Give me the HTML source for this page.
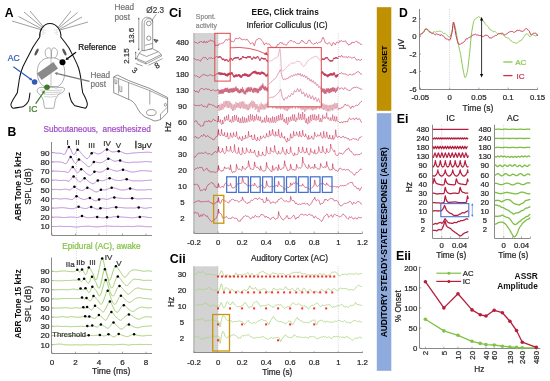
<!DOCTYPE html>
<html><head><meta charset="utf-8"><style>
html,body{margin:0;padding:0;background:#fff;}
svg{display:block;will-change:transform;}
text{font-family:"Liberation Sans", sans-serif;}
</style></head><body>
<svg width="550" height="381" viewBox="0 0 550 381">
<rect width="550" height="381" fill="#fff"/>
<text x="4.8" y="16.7" font-size="12.2" text-anchor="start" font-weight="bold" fill="#000">A</text>
<line x1="42" y1="30" x2="12" y2="21" stroke="#5e5e5e" stroke-width="0.6"/>
<line x1="42" y1="29" x2="18.5" y2="16.5" stroke="#5e5e5e" stroke-width="0.6"/>
<line x1="43" y1="28" x2="24" y2="12" stroke="#5e5e5e" stroke-width="0.6"/>
<line x1="44" y1="27.5" x2="30" y2="11" stroke="#5e5e5e" stroke-width="0.6"/>
<line x1="58" y1="27.5" x2="71" y2="11" stroke="#5e5e5e" stroke-width="0.6"/>
<line x1="59" y1="28" x2="77.5" y2="12.5" stroke="#5e5e5e" stroke-width="0.6"/>
<line x1="60" y1="29" x2="82" y2="17" stroke="#5e5e5e" stroke-width="0.6"/>
<line x1="60" y1="30" x2="88" y2="22" stroke="#5e5e5e" stroke-width="0.6"/>
<path d="M39.8,37 C39,31 43,23.5 50,23.5 C57,23.5 61.5,31 60.8,37 C64,41 67,45 69,48 C72,54 75.5,60 78,66.5 C79.8,71 80.5,76 81,80 C81.5,85 82,89 82.7,92.7 C84.5,96 87.5,101 87.3,104.5 C87,107 86,108.5 84.5,108 C80,107 76,106 74.5,105.5 C72,103 70.5,100 70,97.3 C69.5,95 69.3,93.5 69.1,92.7 M39.8,37 C37,41 35,44 33,47 C30,53 26,60 23,66.5 C21,71 19.8,76 19.2,80 C18.5,85 17.8,89 17.3,92.7 C15.5,96 11.5,101 10.9,104.5 C11,107 12.5,108.5 14,108.2 C18,107.5 22,107 23.6,106.4 C27,104 28.8,101 29.1,99 C29.6,96 29.8,94 30,92.7" fill="none" stroke="#111" stroke-width="1.05"/>
<circle cx="45" cy="29" r="0.3" fill="#888"/>
<circle cx="43.7" cy="29.3" r="0.3" fill="#888"/>
<circle cx="42.4" cy="29.6" r="0.3" fill="#888"/>
<circle cx="45" cy="30.6" r="0.3" fill="#888"/>
<circle cx="43.7" cy="30.9" r="0.3" fill="#888"/>
<circle cx="42.4" cy="31.2" r="0.3" fill="#888"/>
<circle cx="45" cy="32.2" r="0.3" fill="#888"/>
<circle cx="43.7" cy="32.5" r="0.3" fill="#888"/>
<circle cx="42.4" cy="32.8" r="0.3" fill="#888"/>
<circle cx="45" cy="33.8" r="0.3" fill="#888"/>
<circle cx="43.7" cy="34.1" r="0.3" fill="#888"/>
<circle cx="42.4" cy="34.4" r="0.3" fill="#888"/>
<circle cx="55" cy="29" r="0.3" fill="#888"/>
<circle cx="56.3" cy="29.3" r="0.3" fill="#888"/>
<circle cx="57.6" cy="29.6" r="0.3" fill="#888"/>
<circle cx="55" cy="30.6" r="0.3" fill="#888"/>
<circle cx="56.3" cy="30.9" r="0.3" fill="#888"/>
<circle cx="57.6" cy="31.2" r="0.3" fill="#888"/>
<circle cx="55" cy="32.2" r="0.3" fill="#888"/>
<circle cx="56.3" cy="32.5" r="0.3" fill="#888"/>
<circle cx="57.6" cy="32.8" r="0.3" fill="#888"/>
<circle cx="55" cy="33.8" r="0.3" fill="#888"/>
<circle cx="56.3" cy="34.1" r="0.3" fill="#888"/>
<circle cx="57.6" cy="34.4" r="0.3" fill="#888"/>
<ellipse cx="36.6" cy="52" rx="1.3" ry="3.9" fill="#555" transform="rotate(25 36.6 52)"/>
<ellipse cx="64.4" cy="52" rx="1.3" ry="3.9" fill="#555" transform="rotate(-25 64.4 52)"/>
<path d="M51.3,58.5 C46.5,59 44.8,55 45.2,51.5 C45.6,48.5 48.5,47.2 50,48.3 C51,49.2 51.3,52 51.3,58.5 C51.3,52 51.6,49.2 52.6,48.3 C54.1,47.2 57,48.5 57.4,51.5 C57.8,55 56,59 51.3,58.5 Z" fill="white" stroke="#777" stroke-width="0.6"/>
<path d="M51,58 C44,57 38.5,62 37.5,69 C36.5,76 38.5,83 44,86.5 L58,86.5 C63.5,83 65.5,76 64.5,69 C63.5,62 58,57 51,58 Z" fill="white" stroke="#777" stroke-width="0.6"/>
<line x1="51" y1="58" x2="51" y2="87" stroke="#888" stroke-width="0.5"/>
<path d="M38,88.5 C40,86.5 44,87.5 46,88 C49,87 53,87 56,88 C58,87.5 62,86.5 64.5,88.5 C65,91 62,93 59,94 C57,96 55.5,99 55,101 C54.5,104 54.5,107 53.5,108.3 L45,108.3 C44,107 44,104 43.5,101 C43,99 41.5,96 39.5,94 C37,93 36.5,90.5 38,88.5 Z" fill="white" stroke="#777" stroke-width="0.6"/>
<path d="M40,90 Q51,91.2 62,90" fill="none" stroke="#999" stroke-width="0.45"/>
<path d="M41.5,92 Q51,93.2 61,92" fill="none" stroke="#999" stroke-width="0.45"/>
<path d="M43,94 Q51,95.2 59,94" fill="none" stroke="#999" stroke-width="0.45"/>
<path d="M44,96.5 Q51,97.7 56,96.5" fill="none" stroke="#999" stroke-width="0.45"/>
<rect x="-10" y="-4" width="20" height="8" fill="#8a8a8a" transform="translate(47.5 71) rotate(-35)"/>
<circle cx="62.5" cy="62.3" r="3" fill="#000"/>
<circle cx="34.6" cy="82" r="2.8" fill="#2f5ab8"/>
<circle cx="47" cy="87.2" r="2.8" fill="#3d7a2a"/>
<line x1="76" y1="52.3" x2="67.9" y2="58.2" stroke="#000" stroke-width="1.2"/>
<polygon points="65.5,60 66.9,56.9 68.9,59.6" fill="#000"/>
<line x1="13.4" y1="66.8" x2="30.1" y2="78.8" stroke="#2f5ab8" stroke-width="1.2"/>
<polygon points="32.5,80.5 29.1,80.1 31,77.4" fill="#2f5ab8"/>
<line x1="35.7" y1="103.6" x2="43.1" y2="93" stroke="#3d7a2a" stroke-width="1.2"/>
<polygon points="44.8,90.5 44.4,93.9 41.7,92" fill="#3d7a2a"/>
<line x1="89.5" y1="81.3" x2="57.4" y2="73.7" stroke="#777" stroke-width="1.2"/>
<polygon points="54.5,73 57.8,72.1 57,75.3" fill="#777"/>
<text x="78.3" y="50.3" font-size="8.2" text-anchor="start" font-weight="normal" fill="#111" stroke="#111" stroke-width="0.22">Reference</text>
<text x="7.8" y="60.5" font-size="8.6" text-anchor="start" font-weight="normal" fill="#2f5ab8" stroke="#2f5ab8" stroke-width="0.22">AC</text>
<text x="28.8" y="112.3" font-size="8.6" text-anchor="start" font-weight="normal" fill="#3d7a2a" stroke="#3d7a2a" stroke-width="0.22">IC</text>
<text x="90.5" y="77.5" font-size="8.2" text-anchor="start" font-weight="normal" fill="#777" stroke="#777" stroke-width="0.22">Head</text>
<text x="90.5" y="86.5" font-size="8.2" text-anchor="start" font-weight="normal" fill="#777" stroke="#777" stroke-width="0.22">post</text>
<text x="114.5" y="10.2" font-size="8.2" text-anchor="start" font-weight="normal" fill="#777" stroke="#777" stroke-width="0.22">Head</text>
<text x="114.5" y="19.5" font-size="8.2" text-anchor="start" font-weight="normal" fill="#777" stroke="#777" stroke-width="0.22">post</text>
<text x="146.3" y="12.6" font-size="8.2" text-anchor="start" font-weight="normal" fill="#444" stroke="#444" stroke-width="0.22">Ø2.3</text>
<path d="M142,50.3 L139.2,53.3 L136.6,58.6 L145.6,62.3 L161.2,54.5 L158.3,51.7 L152.7,48.8 Z" fill="white" stroke="#555" stroke-width="0.6"/>
<path d="M136.6,58.6 L137.5,60.3 L146,64 L161.6,56 L161.2,54.5 M145.6,62.3 L146,64 M139.2,53.3 L146.5,56.5 L158.3,51.7" fill="none" stroke="#555" stroke-width="0.55"/>
<path d="M142,23.3 C142,19 145,16.8 147.5,17.3 L150,18 C152.2,18.7 152.8,20.5 152.7,22.5 L152.7,48.2 L144.2,50.8 L142,50.3 Z" fill="white" stroke="#555" stroke-width="0.6"/>
<path d="M144.2,50.8 L144.2,24 C144.2,20 147,18.6 148.5,18.6 C151,18.6 152.7,20.5 152.7,22.5" fill="none" stroke="#555" stroke-width="0.55"/>
<ellipse cx="148.8" cy="23.4" rx="2.3" ry="2.3" fill="white" stroke="#555" stroke-width="0.6"/>
<ellipse cx="148.8" cy="38.2" rx="2.1" ry="2.2" fill="white" stroke="#555" stroke-width="0.6"/>
<line x1="138.8" y1="17.7" x2="138.8" y2="50.3" stroke="#444" stroke-width="0.5"/>
<line x1="135.7" y1="51.7" x2="135.7" y2="59.5" stroke="#444" stroke-width="0.5"/>
<line x1="135.7" y1="63.5" x2="142.8" y2="66" stroke="#444" stroke-width="0.5"/>
<line x1="148.4" y1="65.3" x2="162.6" y2="58.6" stroke="#444" stroke-width="0.5"/>
<line x1="144.9" y1="45.3" x2="152.7" y2="43.4" stroke="#444" stroke-width="0.5"/>
<line x1="152" y1="20.5" x2="156.2" y2="14.3" stroke="#444" stroke-width="0.5"/>
<polygon points="0,0 -1.6,-0.7 -1.6,0.7" fill="#444" transform="translate(138.8 17.7) rotate(-90)"/>
<polygon points="0,0 -1.6,-0.7 -1.6,0.7" fill="#444" transform="translate(138.8 50.3) rotate(90)"/>
<polygon points="0,0 -1.6,-0.7 -1.6,0.7" fill="#444" transform="translate(135.7 51.7) rotate(-90)"/>
<polygon points="0,0 -1.6,-0.7 -1.6,0.7" fill="#444" transform="translate(135.7 59.5) rotate(90)"/>
<text x="134" y="35.5" font-size="8.0" text-anchor="middle" font-weight="normal" fill="#333" transform="rotate(-90 134 35.5)" stroke="#333" stroke-width="0.22">13.6</text>
<text x="129.3" y="56" font-size="8.0" text-anchor="middle" font-weight="normal" fill="#333" transform="rotate(-90 129.3 56)" stroke="#333" stroke-width="0.22">2.15</text>
<text x="157.8" y="41.5" font-size="6.5" text-anchor="middle" font-weight="normal" fill="#333" transform="rotate(-70 157.8 41.5)" stroke="#333" stroke-width="0.22">4</text>
<text x="158.5" y="67.8" font-size="8.0" text-anchor="middle" font-weight="normal" fill="#333" transform="rotate(-30 158.5 67.8)" stroke="#333" stroke-width="0.22">8</text>
<text x="133" y="72.5" font-size="8.0" text-anchor="middle" font-weight="normal" fill="#333" transform="rotate(40 133 72.5)" stroke="#333" stroke-width="0.22">3</text>
<path d="M113.7,77 L117.2,75 L128.6,80.5 L149.8,88.5 L167.6,97.5 L167.6,112.6 L160.5,119.6 L154.8,121.1 L144.9,116.8 C140.5,113.8 138.5,110.5 136.5,106.5 C134.5,102.5 131.5,100.2 127.9,99.1 L113.7,92.7 Z" fill="white" stroke="#555" stroke-width="0.65"/>
<path d="M113.7,77 L118.6,78.6 L128.6,82.6 L149.8,90.6 L167.6,99 M118.6,78.6 L118.6,93.5 M128.6,82.6 L128.6,99.3 M149.8,90.6 L149.8,104.5 M160.5,119.6 L160.5,114 L167.6,107" fill="none" stroke="#555" stroke-width="0.55"/>
<ellipse cx="151.3" cy="112.6" rx="4.8" ry="3.0" fill="white" stroke="#555" stroke-width="0.6"/>
<ellipse cx="165.4" cy="104.8" rx="1.1" ry="1.5" fill="white" stroke="#555" stroke-width="0.55"/>
<path d="M115,79 L115,83.5 L116.8,83.8 L116.8,79.6 M119.8,85.5 L119.8,91.3 L121.8,91.8 L121.8,86.3" fill="none" stroke="#555" stroke-width="0.55"/>
<line x1="51.5" y1="142" x2="51.5" y2="235" stroke="#8a8a8a" stroke-width="1.0"/>
<line x1="51.6" y1="235.5" x2="152" y2="235.5" stroke="#8a8a8a" stroke-width="1.0"/>
<line x1="52" y1="235" x2="52" y2="233.5" stroke="#6b6b6b" stroke-width="0.6"/>
<line x1="75.5" y1="235" x2="75.5" y2="233.5" stroke="#6b6b6b" stroke-width="0.6"/>
<line x1="99" y1="235" x2="99" y2="233.5" stroke="#6b6b6b" stroke-width="0.6"/>
<line x1="122.5" y1="235" x2="122.5" y2="233.5" stroke="#6b6b6b" stroke-width="0.6"/>
<line x1="146" y1="235" x2="146" y2="233.5" stroke="#6b6b6b" stroke-width="0.6"/>
<line x1="76.5" y1="142" x2="76.5" y2="235" stroke="#9a9a9a" stroke-width="0.5" stroke-dasharray="0.8 1.4"/>
<line x1="106.6" y1="142" x2="106.6" y2="235" stroke="#9a9a9a" stroke-width="0.5" stroke-dasharray="0.8 1.4"/>
<text x="43.5" y="132.1" font-size="8.2" text-anchor="start" font-weight="normal" fill="#a04cc6" textLength="107.3" lengthAdjust="spacing" xml:space="preserve" stroke="#a04cc6" stroke-width="0.22">Subcutaneous,  anesthesized</text>
<line x1="52" y1="152.6" x2="53.5" y2="152.6" stroke="#6b6b6b" stroke-width="0.6"/>
<text x="49.4" y="155.5" font-size="8.1" text-anchor="end" font-weight="normal" fill="#262626" stroke="#262626" stroke-width="0.22">90</text>
<polyline points="52,152.6 52.5,152.6 53,152.6 53.5,152.7 54,152.7 54.5,152.7 55,152.9 55.5,153 56,153.1 56.5,153.1 57,153.2 57.5,153.2 58,153.3 58.5,153.2 59,153.2 59.5,153.2 60,153.2 60.5,153.3 61,153.3 61.5,153.5 62,153.7 62.5,153.9 63,154.2 63.5,154.4 64,154.5 64.5,154.3 65,153.8 65.5,153.1 66,152.1 66.5,151 67,149.8 67.5,148.7 68,147.8 68.5,147.2 69,147.1 69.5,147.4 70,148 70.5,148.9 71,150 71.5,151.2 72,152.3 72.5,153.3 73,154.1 73.5,154.6 74,154.7 74.5,154.4 75,153.7 75.5,152.8 76,151.8 76.5,150.9 77,150.2 77.5,149.8 78,149.7 78.5,150 79,150.5 79.5,151.1 80,151.7 80.5,152.4 81,153 81.5,153.5 82,154.1 82.5,154.6 83,155.2 83.5,155.8 84,156.3 84.5,156.9 85,157.4 85.5,157.9 86,158.3 86.5,158.5 87,158.6 87.5,158.6 88,158.3 88.5,157.8 89,157.2 89.5,156.4 90,155.6 90.5,154.7 91,153.9 91.5,153.2 92,152.8 92.5,152.4 93,152.3 93.5,152.3 94,152.5 94.5,152.7 95,152.9 95.5,153.1 96,153.4 96.5,153.6 97,153.8 97.5,153.9 98,153.9 98.5,153.9 99,153.8 99.5,153.7 100,153.6 100.5,153.3 101,153.1 101.5,152.8 102,152.4 102.5,152.1 103,151.7 103.5,151.3 104,150.9 104.5,150.5 105,150.2 105.5,149.9 106,149.7 106.5,149.6 107,149.5 107.5,149.6 108,149.8 108.5,150 109,150.3 109.5,150.6 110,150.9 110.5,151.2 111,151.4 111.5,151.6 112,151.8 112.5,151.9 113,151.9 113.5,151.9 114,151.8 114.5,151.8 115,151.7 115.5,151.6 116,151.5 116.5,151.4 117,151.3 117.5,151.3 118,151.3 118.5,151.3 119,151.3 119.5,151.4 120,151.5 120.5,151.6 121,151.8 121.5,151.9 122,152.2 122.5,152.4 123,152.6 123.5,152.8 124,153.1 124.5,153.2 125,153.4 125.5,153.5 126,153.6 126.5,153.6 127,153.7 127.5,153.7 128,153.6 128.5,153.6 129,153.5 129.5,153.5 130,153.4 130.5,153.3 131,153.3 131.5,153.2 132,153.1 132.5,153.1 133,153 133.5,153 134,152.9 134.5,152.9 135,152.8 135.5,152.8 136,152.8 136.5,152.8 137,152.7 137.5,152.7 138,152.6 138.5,152.6 139,152.6 139.5,152.6 140,152.5 140.5,152.5 141,152.5 141.5,152.5 142,152.4 142.5,152.4 143,152.4 143.5,152.4 144,152.3 144.5,152.3 145,152.3 145.5,152.3 146,152.2 146.5,152.2 147,152.2 147.5,152.2 148,152.2 148.5,152.2 149,152.2 149.5,152.3 150,152.3 150.5,152.4 151,152.5 151.5,152.6 152,152.7" fill="none" stroke="#bc86da" stroke-width="1.0" stroke-linejoin="round"/>
<circle cx="68.9" cy="147.1" r="1.25" fill="#000"/>
<circle cx="77.6" cy="149.8" r="1.25" fill="#000"/>
<circle cx="91.7" cy="153.2" r="1.25" fill="#000"/>
<circle cx="107" cy="149.5" r="1.25" fill="#000"/>
<circle cx="118.8" cy="151.3" r="1.25" fill="#000"/>
<line x1="52" y1="161.8" x2="53.5" y2="161.8" stroke="#6b6b6b" stroke-width="0.6"/>
<text x="49.4" y="164.7" font-size="8.1" text-anchor="end" font-weight="normal" fill="#262626" stroke="#262626" stroke-width="0.22">80</text>
<polyline points="52,162.1 52.5,162.1 53,162 53.5,162 54,162 54.5,161.9 55,162 55.5,161.9 56,161.9 56.5,161.9 57,161.8 57.5,161.8 58,161.8 58.5,161.9 59,161.9 59.5,161.9 60,162 60.5,162.1 61,162.2 61.5,162.2 62,162.4 62.5,162.5 63,162.7 63.5,162.9 64,163.2 64.5,163.5 65,163.6 65.5,163.7 66,163.6 66.5,163.3 67,162.7 67.5,161.9 68,160.9 68.5,159.9 69,158.8 69.5,157.9 70,157.3 70.5,157 71,157.1 71.5,157.5 72,158.2 72.5,159.2 73,160.2 73.5,161.3 74,162.2 74.5,162.9 75,163.4 75.5,163.5 76,163.2 76.5,162.6 77,161.9 77.5,161.1 78,160.3 78.5,159.8 79,159.5 79.5,159.5 80,159.7 80.5,160.1 81,160.5 81.5,161 82,161.4 82.5,161.8 83,162.2 83.5,162.5 84,162.9 84.5,163.3 85,163.8 85.5,164.3 86,164.8 86.5,165.3 87,165.7 87.5,166.2 88,166.5 88.5,166.7 89,166.7 89.5,166.6 90,166.4 90.5,165.9 91,165.4 91.5,164.7 92,164 92.5,163.3 93,162.7 93.5,162.2 94,161.9 94.5,161.7 95,161.7 95.5,161.8 96,161.9 96.5,162.1 97,162.3 97.5,162.4 98,162.6 98.5,162.6 99,162.7 99.5,162.8 100,162.7 100.5,162.7 101,162.6 101.5,162.5 102,162.3 102.5,162.1 103,161.9 103.5,161.6 104,161.3 104.5,161 105,160.6 105.5,160.3 106,159.9 106.5,159.5 107,159.2 107.5,159 108,158.8 108.5,158.7 109,158.7 109.5,158.7 110,158.9 110.5,159.2 111,159.5 111.5,159.8 112,160.1 112.5,160.4 113,160.7 113.5,160.9 114,161.1 114.5,161.2 115,161.2 115.5,161.2 116,161.1 116.5,161 117,160.9 117.5,160.7 118,160.6 118.5,160.5 119,160.4 119.5,160.4 120,160.4 120.5,160.5 121,160.7 121.5,160.9 122,161.1 122.5,161.3 123,161.5 123.5,161.7 124,161.9 124.5,162.1 125,162.2 125.5,162.3 126,162.4 126.5,162.5 127,162.6 127.5,162.6 128,162.7 128.5,162.7 129,162.7 129.5,162.7 130,162.6 130.5,162.5 131,162.4 131.5,162.3 132,162.2 132.5,162.2 133,162.1 133.5,162.1 134,162.1 134.5,162.1 135,162.2 135.5,162.2 136,162.2 136.5,162.2 137,162.1 137.5,162.1 138,162.1 138.5,162 139,162 139.5,162 140,162 140.5,161.9 141,161.9 141.5,161.9 142,161.9 142.5,161.9 143,161.8 143.5,161.8 144,161.7 144.5,161.7 145,161.6 145.5,161.6 146,161.6 146.5,161.6 147,161.6 147.5,161.6 148,161.6 148.5,161.7 149,161.8 149.5,161.8 150,161.9 150.5,161.9 151,162 151.5,162 152,162.1" fill="none" stroke="#bc86da" stroke-width="1.0" stroke-linejoin="round"/>
<circle cx="70.7" cy="157" r="1.25" fill="#000"/>
<circle cx="78.9" cy="159.5" r="1.25" fill="#000"/>
<circle cx="93.8" cy="161.9" r="1.25" fill="#000"/>
<circle cx="108.3" cy="158.7" r="1.25" fill="#000"/>
<circle cx="120.1" cy="160.4" r="1.25" fill="#000"/>
<line x1="52" y1="171.1" x2="53.5" y2="171.1" stroke="#6b6b6b" stroke-width="0.6"/>
<text x="49.4" y="174" font-size="8.1" text-anchor="end" font-weight="normal" fill="#262626" stroke="#262626" stroke-width="0.22">70</text>
<polyline points="52,171.1 52.5,171.1 53,171.1 53.5,171.1 54,171.1 54.5,171.1 55,171.1 55.5,171.1 56,171.1 56.5,171.1 57,171.1 57.5,171.2 58,171.2 58.5,171.3 59,171.3 59.5,171.3 60,171.4 60.5,171.4 61,171.5 61.5,171.5 62,171.5 62.5,171.5 63,171.6 63.5,171.6 64,171.6 64.5,171.6 65,171.7 65.5,171.8 66,171.9 66.5,172.1 67,172.3 67.5,172.5 68,172.5 68.5,172.3 69,171.9 69.5,171.3 70,170.5 70.5,169.7 71,168.8 71.5,168.1 72,167.4 72.5,167.1 73,167.1 73.5,167.5 74,168 74.5,168.9 75,169.7 75.5,170.6 76,171.4 76.5,172.1 77,172.6 77.5,172.8 78,172.7 78.5,172.3 79,171.7 79.5,170.9 80,170.2 80.5,169.7 81,169.3 81.5,169.2 82,169.3 82.5,169.6 83,170.1 83.5,170.6 84,171.1 84.5,171.6 85,172.1 85.5,172.5 86,172.9 86.5,173.3 87,173.7 87.5,174.1 88,174.4 88.5,174.8 89,175 89.5,175.2 90,175.3 90.5,175.2 91,175 91.5,174.7 92,174.2 92.5,173.7 93,173.1 93.5,172.6 94,172.1 94.5,171.7 95,171.5 95.5,171.4 96,171.4 96.5,171.5 97,171.6 97.5,171.8 98,171.9 98.5,172.1 99,172.2 99.5,172.2 100,172.2 100.5,172.2 101,172.1 101.5,172 102,171.8 102.5,171.6 103,171.3 103.5,171 104,170.7 104.5,170.3 105,169.9 105.5,169.6 106,169.3 106.5,169 107,168.9 107.5,168.7 108,168.7 108.5,168.7 109,168.7 109.5,168.9 110,169.1 110.5,169.3 111,169.5 111.5,169.7 112,169.9 112.5,170.1 113,170.3 113.5,170.5 114,170.6 114.5,170.7 115,170.8 115.5,170.9 116,171 116.5,171.1 117,171.1 117.5,171.1 118,171 118.5,170.9 119,170.7 119.5,170.6 120,170.4 120.5,170.2 121,170 121.5,169.9 122,169.8 122.5,169.8 123,169.8 123.5,169.9 124,169.9 124.5,170 125,170.2 125.5,170.3 126,170.4 126.5,170.6 127,170.7 127.5,170.9 128,171 128.5,171.2 129,171.4 129.5,171.5 130,171.7 130.5,171.8 131,171.9 131.5,172 132,172 132.5,172.1 133,172.1 133.5,172 134,172 134.5,171.9 135,171.8 135.5,171.7 136,171.6 136.5,171.5 137,171.4 137.5,171.3 138,171.2 138.5,171.1 139,171 139.5,170.9 140,170.9 140.5,170.8 141,170.8 141.5,170.7 142,170.7 142.5,170.7 143,170.7 143.5,170.7 144,170.7 144.5,170.7 145,170.7 145.5,170.7 146,170.8 146.5,170.8 147,170.8 147.5,170.9 148,170.9 148.5,171 149,171.1 149.5,171.1 150,171.1 150.5,171.2 151,171.2 151.5,171.2 152,171.2" fill="none" stroke="#bc86da" stroke-width="1.0" stroke-linejoin="round"/>
<circle cx="72.8" cy="167.1" r="1.25" fill="#000"/>
<circle cx="81.2" cy="169.3" r="1.25" fill="#000"/>
<circle cx="94.4" cy="171.7" r="1.25" fill="#000"/>
<circle cx="107.8" cy="168.7" r="1.25" fill="#000"/>
<circle cx="123" cy="169.8" r="1.25" fill="#000"/>
<line x1="52" y1="180.3" x2="53.5" y2="180.3" stroke="#6b6b6b" stroke-width="0.6"/>
<text x="49.4" y="183.2" font-size="8.1" text-anchor="end" font-weight="normal" fill="#262626" stroke="#262626" stroke-width="0.22">60</text>
<polyline points="52,180.3 52.5,180.2 53,180.2 53.5,180.2 54,180.1 54.5,180.1 55,179.9 55.5,179.9 56,180 56.5,180.1 57,180.2 57.5,180.3 58,180.4 58.5,180.4 59,180.5 59.5,180.5 60,180.6 60.5,180.5 61,180.5 61.5,180.5 62,180.5 62.5,180.4 63,180.4 63.5,180.4 64,180.4 64.5,180.4 65,180.5 65.5,180.5 66,180.6 66.5,180.7 67,180.9 67.5,181 68,181.1 68.5,181.2 69,181.1 69.5,180.8 70,180.4 70.5,179.8 71,179.2 71.5,178.4 72,177.7 72.5,177.1 73,176.7 73.5,176.5 74,176.5 74.5,176.8 75,177.3 75.5,177.9 76,178.5 76.5,179.1 77,179.7 77.5,180.2 78,180.6 78.5,181.1 79,181.4 79.5,181.7 80,181.8 80.5,181.8 81,181.5 81.5,181.1 82,180.5 82.5,179.9 83,179.4 83.5,178.9 84,178.5 84.5,178.3 85,178.4 85.5,178.6 86,179 86.5,179.5 87,180 87.5,180.5 88,180.9 88.5,181.3 89,181.7 89.5,182.1 90,182.4 90.5,182.7 91,183 91.5,183.3 92,183.5 92.5,183.6 93,183.7 93.5,183.6 94,183.4 94.5,183.1 95,182.7 95.5,182.3 96,181.8 96.5,181.4 97,181 97.5,180.6 98,180.4 98.5,180.3 99,180.3 99.5,180.3 100,180.4 100.5,180.5 101,180.6 101.5,180.7 102,180.7 102.5,180.7 103,180.7 103.5,180.6 104,180.5 104.5,180.3 105,180.1 105.5,179.8 106,179.6 106.5,179.3 107,179.1 107.5,178.8 108,178.6 108.5,178.4 109,178.3 109.5,178.2 110,178.2 110.5,178.2 111,178.4 111.5,178.5 112,178.7 112.5,179 113,179.2 113.5,179.5 114,179.7 114.5,179.9 115,180.1 115.5,180.2 116,180.3 116.5,180.4 117,180.4 117.5,180.4 118,180.5 118.5,180.5 119,180.5 119.5,180.5 120,180.5 120.5,180.5 121,180.4 121.5,180.3 122,180.2 122.5,180 123,179.8 123.5,179.7 124,179.5 124.5,179.4 125,179.3 125.5,179.2 126,179.2 126.5,179.2 127,179.3 127.5,179.4 128,179.5 128.5,179.6 129,179.8 129.5,180 130,180.1 130.5,180.3 131,180.5 131.5,180.6 132,180.7 132.5,180.8 133,180.8 133.5,180.9 134,180.9 134.5,180.9 135,180.9 135.5,180.8 136,180.8 136.5,180.8 137,180.8 137.5,180.8 138,180.8 138.5,180.8 139,180.9 139.5,180.9 140,180.9 140.5,180.9 141,180.9 141.5,180.9 142,180.9 142.5,180.9 143,180.8 143.5,180.7 144,180.7 144.5,180.6 145,180.6 145.5,180.5 146,180.5 146.5,180.4 147,180.4 147.5,180.4 148,180.4 148.5,180.3 149,180.3 149.5,180.2 150,180.2 150.5,180.2 151,180.1 151.5,180.1 152,180.1" fill="none" stroke="#bc86da" stroke-width="1.0" stroke-linejoin="round"/>
<circle cx="73.6" cy="176.5" r="1.25" fill="#000"/>
<circle cx="84.6" cy="178.3" r="1.25" fill="#000"/>
<circle cx="97.8" cy="180.4" r="1.25" fill="#000"/>
<circle cx="109.6" cy="178.2" r="1.25" fill="#000"/>
<circle cx="126.7" cy="179.2" r="1.25" fill="#000"/>
<line x1="52" y1="189.6" x2="53.5" y2="189.6" stroke="#6b6b6b" stroke-width="0.6"/>
<text x="49.4" y="192.5" font-size="8.1" text-anchor="end" font-weight="normal" fill="#262626" stroke="#262626" stroke-width="0.22">50</text>
<polyline points="52,189.4 52.5,189.4 53,189.4 53.5,189.4 54,189.4 54.5,189.4 55,189.3 55.5,189.4 56,189.4 56.5,189.4 57,189.5 57.5,189.6 58,189.6 58.5,189.6 59,189.6 59.5,189.7 60,189.7 60.5,189.7 61,189.6 61.5,189.6 62,189.5 62.5,189.5 63,189.4 63.5,189.3 64,189.2 64.5,189.2 65,189.2 65.5,189.2 66,189.2 66.5,189.3 67,189.3 67.5,189.5 68,189.6 68.5,189.8 69,189.9 69.5,190 70,190 70.5,189.8 71,189.5 71.5,189.1 72,188.6 72.5,188 73,187.5 73.5,187.1 74,186.9 74.5,186.8 75,186.9 75.5,187.2 76,187.6 76.5,188 77,188.5 77.5,188.9 78,189.2 78.5,189.4 79,189.6 79.5,189.9 80,190 80.5,190.2 81,190.4 81.5,190.5 82,190.5 82.5,190.5 83,190.3 83.5,190 84,189.7 84.5,189.3 85,188.9 85.5,188.6 86,188.2 86.5,188 87,187.8 87.5,187.8 88,187.9 88.5,188.1 89,188.3 89.5,188.6 90,188.9 90.5,189.1 91,189.4 91.5,189.7 92,189.9 92.5,190.2 93,190.5 93.5,190.8 94,191.1 94.5,191.4 95,191.6 95.5,191.8 96,191.9 96.5,191.9 97,191.9 97.5,191.7 98,191.5 98.5,191.2 99,190.9 99.5,190.5 100,190.2 100.5,190 101,189.8 101.5,189.7 102,189.7 102.5,189.8 103,189.8 103.5,189.9 104,190 104.5,190 105,189.9 105.5,189.8 106,189.7 106.5,189.6 107,189.4 107.5,189.2 108,188.9 108.5,188.7 109,188.5 109.5,188.3 110,188.1 110.5,188 111,187.9 111.5,187.8 112,187.7 112.5,187.7 113,187.8 113.5,187.8 114,187.9 114.5,188 115,188.2 115.5,188.3 116,188.5 116.5,188.7 117,188.8 117.5,189 118,189.2 118.5,189.4 119,189.5 119.5,189.6 120,189.8 120.5,189.9 121,189.9 121.5,190 122,190 122.5,190 123,190 123.5,190 124,190 124.5,189.9 125,189.9 125.5,189.8 126,189.7 126.5,189.5 127,189.4 127.5,189.2 128,189 128.5,188.9 129,188.8 129.5,188.7 130,188.6 130.5,188.6 131,188.6 131.5,188.7 132,188.8 132.5,188.9 133,189 133.5,189.1 134,189.3 134.5,189.4 135,189.6 135.5,189.7 136,189.8 136.5,189.9 137,190 137.5,190 138,190 138.5,190 139,190 139.5,190 140,189.9 140.5,189.9 141,189.9 141.5,189.9 142,189.9 142.5,189.9 143,189.9 143.5,189.9 144,189.9 144.5,189.9 145,189.9 145.5,189.9 146,189.9 146.5,189.8 147,189.7 147.5,189.6 148,189.6 148.5,189.5 149,189.5 149.5,189.5 150,189.5 150.5,189.6 151,189.6 151.5,189.7 152,189.8" fill="none" stroke="#bc86da" stroke-width="1.0" stroke-linejoin="round"/>
<circle cx="74.4" cy="186.8" r="1.25" fill="#000"/>
<circle cx="87.3" cy="187.8" r="1.25" fill="#000"/>
<circle cx="100.9" cy="189.8" r="1.25" fill="#000"/>
<circle cx="111.7" cy="187.8" r="1.25" fill="#000"/>
<circle cx="130.1" cy="188.6" r="1.25" fill="#000"/>
<line x1="52" y1="198.8" x2="53.5" y2="198.8" stroke="#6b6b6b" stroke-width="0.6"/>
<text x="49.4" y="201.7" font-size="8.1" text-anchor="end" font-weight="normal" fill="#262626" stroke="#262626" stroke-width="0.22">40</text>
<polyline points="52,198.8 52.5,198.7 53,198.7 53.5,198.7 54,198.6 54.5,198.6 55,198.4 55.5,198.4 56,198.4 56.5,198.5 57,198.6 57.5,198.7 58,198.7 58.5,198.8 59,198.9 59.5,198.9 60,198.9 60.5,199 61,199 61.5,198.9 62,198.9 62.5,198.8 63,198.8 63.5,198.7 64,198.7 64.5,198.7 65,198.7 65.5,198.7 66,198.7 66.5,198.8 67,198.8 67.5,198.8 68,198.9 68.5,199 69,199.1 69.5,199.2 70,199.3 70.5,199.5 71,199.6 71.5,199.6 72,199.6 72.5,199.5 73,199.2 73.5,198.8 74,198.3 74.5,197.8 75,197.3 75.5,196.8 76,196.5 76.5,196.3 77,196.3 77.5,196.5 78,196.8 78.5,197.2 79,197.6 79.5,197.9 80,198.2 80.5,198.5 81,198.7 81.5,198.8 82,199 82.5,199.1 83,199.2 83.5,199.3 84,199.4 84.5,199.5 85,199.4 85.5,199.3 86,199.2 86.5,199 87,198.8 87.5,198.6 88,198.3 88.5,198.1 89,197.9 89.5,197.8 90,197.9 90.5,198.1 91,198.3 91.5,198.7 92,199.1 92.5,199.5 93,199.9 93.5,200.2 94,200.5 94.5,200.6 95,200.8 95.5,200.8 96,200.8 96.5,200.7 97,200.5 97.5,200.2 98,200 98.5,199.7 99,199.4 99.5,199.2 100,199 100.5,198.8 101,198.7 101.5,198.7 102,198.7 102.5,198.7 103,198.7 103.5,198.8 104,198.9 104.5,199 105,199.2 105.5,199.2 106,199.3 106.5,199.3 107,199.3 107.5,199.3 108,199.2 108.5,199 109,198.8 109.5,198.6 110,198.4 110.5,198.2 111,198 111.5,197.9 112,197.7 112.5,197.6 113,197.5 113.5,197.5 114,197.4 114.5,197.5 115,197.5 115.5,197.6 116,197.6 116.5,197.7 117,197.8 117.5,197.9 118,198 118.5,198.1 119,198.1 119.5,198.2 120,198.2 120.5,198.2 121,198.3 121.5,198.3 122,198.4 122.5,198.4 123,198.5 123.5,198.5 124,198.6 124.5,198.6 125,198.6 125.5,198.6 126,198.5 126.5,198.5 127,198.5 127.5,198.4 128,198.4 128.5,198.3 129,198.3 129.5,198.3 130,198.3 130.5,198.3 131,198.3 131.5,198.2 132,198.2 132.5,198.2 133,198.2 133.5,198.2 134,198.3 134.5,198.4 135,198.4 135.5,198.5 136,198.6 136.5,198.7 137,198.8 137.5,198.9 138,198.9 138.5,198.9 139,198.9 139.5,198.9 140,198.9 140.5,198.8 141,198.8 141.5,198.8 142,198.7 142.5,198.7 143,198.7 143.5,198.7 144,198.6 144.5,198.6 145,198.6 145.5,198.6 146,198.6 146.5,198.5 147,198.5 147.5,198.5 148,198.6 148.5,198.6 149,198.6 149.5,198.7 150,198.7 150.5,198.7 151,198.7 151.5,198.7 152,198.6" fill="none" stroke="#bc86da" stroke-width="1.0" stroke-linejoin="round"/>
<circle cx="76.5" cy="196.3" r="1.25" fill="#000"/>
<circle cx="89.9" cy="197.9" r="1.25" fill="#000"/>
<circle cx="99.1" cy="199.4" r="1.25" fill="#000"/>
<circle cx="114.3" cy="197.5" r="1.25" fill="#000"/>
<circle cx="132.2" cy="198.2" r="1.25" fill="#000"/>
<line x1="52" y1="208" x2="53.5" y2="208" stroke="#6b6b6b" stroke-width="0.6"/>
<text x="49.4" y="210.9" font-size="8.1" text-anchor="end" font-weight="normal" fill="#262626" stroke="#262626" stroke-width="0.22">30</text>
<polyline points="52,208.1 52.5,208.1 53,208.1 53.5,208.1 54,208.1 54.5,208.1 55,208.1 55.5,208.1 56,208.1 56.5,208 57,208 57.5,208 58,207.9 58.5,207.9 59,207.8 59.5,207.8 60,207.7 60.5,207.7 61,207.7 61.5,207.7 62,207.7 62.5,207.7 63,207.7 63.5,207.7 64,207.8 64.5,207.8 65,207.9 65.5,207.9 66,208 66.5,208.1 67,208.1 67.5,208.2 68,208.3 68.5,208.4 69,208.5 69.5,208.5 70,208.6 70.5,208.6 71,208.7 71.5,208.7 72,208.7 72.5,208.7 73,208.6 73.5,208.6 74,208.5 74.5,208.3 75,208.1 75.5,207.9 76,207.6 76.5,207.4 77,207.1 77.5,206.9 78,206.7 78.5,206.7 79,206.7 79.5,206.8 80,207 80.5,207.3 81,207.5 81.5,207.7 82,207.9 82.5,208.1 83,208.2 83.5,208.3 84,208.4 84.5,208.4 85,208.5 85.5,208.5 86,208.5 86.5,208.4 87,208.2 87.5,208.1 88,207.8 88.5,207.6 89,207.4 89.5,207.2 90,207 90.5,207 91,206.9 91.5,207 92,207.1 92.5,207.3 93,207.5 93.5,207.7 94,208 94.5,208.2 95,208.4 95.5,208.7 96,208.9 96.5,209 97,209.1 97.5,209.2 98,209.1 98.5,209 99,208.8 99.5,208.6 100,208.4 100.5,208.2 101,208.1 101.5,208 102,208 102.5,207.9 103,208 103.5,208.1 104,208.2 104.5,208.2 105,208.3 105.5,208.4 106,208.4 106.5,208.4 107,208.4 107.5,208.4 108,208.3 108.5,208.3 109,208.2 109.5,208.1 110,207.9 110.5,207.8 111,207.7 111.5,207.6 112,207.5 112.5,207.4 113,207.3 113.5,207.3 114,207.2 114.5,207.2 115,207.2 115.5,207.2 116,207.2 116.5,207.2 117,207.3 117.5,207.3 118,207.3 118.5,207.4 119,207.4 119.5,207.4 120,207.5 120.5,207.5 121,207.6 121.5,207.6 122,207.7 122.5,207.7 123,207.8 123.5,207.8 124,207.9 124.5,207.9 125,208 125.5,208 126,208 126.5,208 127,208 127.5,208 128,208 128.5,208 129,208 129.5,208 130,208 130.5,207.9 131,207.9 131.5,208 132,208 132.5,208 133,208 133.5,208 134,208 134.5,208 135,207.9 135.5,207.9 136,207.8 136.5,207.7 137,207.6 137.5,207.5 138,207.5 138.5,207.4 139,207.3 139.5,207.3 140,207.3 140.5,207.4 141,207.5 141.5,207.6 142,207.7 142.5,207.8 143,208 143.5,208.1 144,208.2 144.5,208.2 145,208.3 145.5,208.3 146,208.2 146.5,208.1 147,208 147.5,208 148,207.9 148.5,207.8 149,207.7 149.5,207.6 150,207.6 150.5,207.6 151,207.6 151.5,207.6 152,207.6" fill="none" stroke="#bc86da" stroke-width="1.0" stroke-linejoin="round"/>
<circle cx="78.6" cy="206.7" r="1.25" fill="#000"/>
<circle cx="91.2" cy="206.9" r="1.25" fill="#000"/>
<circle cx="100.4" cy="208.2" r="1.25" fill="#000"/>
<circle cx="116.2" cy="207.2" r="1.25" fill="#000"/>
<circle cx="138.7" cy="207.4" r="1.25" fill="#000"/>
<line x1="52" y1="217.3" x2="53.5" y2="217.3" stroke="#6b6b6b" stroke-width="0.6"/>
<text x="49.4" y="220.2" font-size="8.1" text-anchor="end" font-weight="normal" fill="#262626" stroke="#262626" stroke-width="0.22">20</text>
<polyline points="52,217.2 52.5,217.2 53,217.2 53.5,217.2 54,217.2 54.5,217.2 55,217.1 55.5,217.1 56,217.1 56.5,217.1 57,217.1 57.5,217.1 58,217.1 58.5,217.1 59,217.1 59.5,217.2 60,217.2 60.5,217.2 61,217.3 61.5,217.3 62,217.4 62.5,217.4 63,217.4 63.5,217.5 64,217.5 64.5,217.5 65,217.5 65.5,217.5 66,217.5 66.5,217.4 67,217.3 67.5,217.3 68,217.2 68.5,217.1 69,217.1 69.5,217.1 70,217 70.5,217 71,217.1 71.5,217.1 72,217.1 72.5,217.1 73,217.1 73.5,217.2 74,217.2 74.5,217.2 75,217.3 75.5,217.4 76,217.4 76.5,217.5 77,217.5 77.5,217.5 78,217.5 78.5,217.3 79,217.2 79.5,216.9 80,216.7 80.5,216.4 81,216.2 81.5,216 82,216 82.5,216 83,216.1 83.5,216.3 84,216.6 84.5,216.8 85,217 85.5,217.2 86,217.4 86.5,217.5 87,217.6 87.5,217.7 88,217.7 88.5,217.7 89,217.7 89.5,217.7 90,217.7 90.5,217.6 91,217.6 91.5,217.5 92,217.5 92.5,217.4 93,217.4 93.5,217.3 94,217.2 94.5,217.2 95,217.1 95.5,217 96,217 96.5,217 97,217 97.5,217 98,217.1 98.5,217.2 99,217.3 99.5,217.4 100,217.5 100.5,217.6 101,217.7 101.5,217.7 102,217.7 102.5,217.8 103,217.8 103.5,217.8 104,217.7 104.5,217.7 105,217.6 105.5,217.6 106,217.5 106.5,217.4 107,217.3 107.5,217.3 108,217.3 108.5,217.3 109,217.3 109.5,217.3 110,217.3 110.5,217.3 111,217.3 111.5,217.2 112,217.1 112.5,217 113,216.9 113.5,216.8 114,216.8 114.5,216.7 115,216.7 115.5,216.7 116,216.6 116.5,216.6 117,216.6 117.5,216.7 118,216.7 118.5,216.7 119,216.7 119.5,216.8 120,216.8 120.5,216.9 121,217 121.5,217 122,217.1 122.5,217.2 123,217.2 123.5,217.2 124,217.2 124.5,217.2 125,217.2 125.5,217.3 126,217.3 126.5,217.3 127,217.3 127.5,217.4 128,217.5 128.5,217.5 129,217.6 129.5,217.7 130,217.7 130.5,217.7 131,217.8 131.5,217.8 132,217.8 132.5,217.8 133,217.7 133.5,217.7 134,217.7 134.5,217.6 135,217.6 135.5,217.5 136,217.4 136.5,217.3 137,217.3 137.5,217.2 138,217.2 138.5,217.1 139,217 139.5,217 140,216.9 140.5,216.9 141,216.8 141.5,216.8 142,216.7 142.5,216.7 143,216.7 143.5,216.7 144,216.8 144.5,216.8 145,216.9 145.5,217 146,217.1 146.5,217.2 147,217.3 147.5,217.3 148,217.4 148.5,217.4 149,217.5 149.5,217.5 150,217.6 150.5,217.6 151,217.6 151.5,217.6 152,217.6" fill="none" stroke="#bc86da" stroke-width="1.0" stroke-linejoin="round"/>
<circle cx="82" cy="216" r="1.25" fill="#000"/>
<circle cx="97.2" cy="217" r="1.25" fill="#000"/>
<circle cx="107" cy="217.3" r="1.25" fill="#000"/>
<circle cx="118" cy="216.7" r="1.25" fill="#000"/>
<circle cx="139.8" cy="216.9" r="1.25" fill="#000"/>
<line x1="52" y1="226.5" x2="53.5" y2="226.5" stroke="#6b6b6b" stroke-width="0.6"/>
<text x="49.4" y="229.4" font-size="8.1" text-anchor="end" font-weight="normal" fill="#262626" stroke="#262626" stroke-width="0.22">10</text>
<polyline points="52,226.5 52.5,226.5 53,226.5 53.5,226.5 54,226.5 54.5,226.5 55,226.4 55.5,226.5 56,226.5 56.5,226.5 57,226.5 57.5,226.5 58,226.5 58.5,226.4 59,226.4 59.5,226.3 60,226.3 60.5,226.3 61,226.3 61.5,226.3 62,226.3 62.5,226.4 63,226.4 63.5,226.5 64,226.5 64.5,226.5 65,226.5 65.5,226.6 66,226.6 66.5,226.5 67,226.5 67.5,226.5 68,226.5 68.5,226.4 69,226.4 69.5,226.4 70,226.4 70.5,226.5 71,226.5 71.5,226.6 72,226.6 72.5,226.7 73,226.8 73.5,226.8 74,226.9 74.5,226.9 75,227 75.5,227 76,227 76.5,227 77,227 77.5,227 78,226.9 78.5,226.9 79,226.8 79.5,226.8 80,226.7 80.5,226.6 81,226.6 81.5,226.5 82,226.5 82.5,226.4 83,226.4 83.5,226.4 84,226.3 84.5,226.3 85,226.3 85.5,226.3 86,226.3 86.5,226.3 87,226.2 87.5,226.2 88,226.2 88.5,226.2 89,226.3 89.5,226.3 90,226.3 90.5,226.4 91,226.4 91.5,226.5 92,226.5 92.5,226.6 93,226.6 93.5,226.7 94,226.7 94.5,226.8 95,226.8 95.5,226.8 96,226.8 96.5,226.8 97,226.8 97.5,226.8 98,226.8 98.5,226.8 99,226.8 99.5,226.7 100,226.7 100.5,226.6 101,226.6 101.5,226.5 102,226.4 102.5,226.4 103,226.3 103.5,226.3 104,226.2 104.5,226.2 105,226.2 105.5,226.1 106,226.1 106.5,226.1 107,226.1 107.5,226.1 108,226.1 108.5,226.1 109,226.2 109.5,226.2 110,226.2 110.5,226.2 111,226.2 111.5,226.3 112,226.3 112.5,226.3 113,226.3 113.5,226.4 114,226.4 114.5,226.4 115,226.4 115.5,226.4 116,226.4 116.5,226.3 117,226.3 117.5,226.3 118,226.3 118.5,226.3 119,226.4 119.5,226.4 120,226.5 120.5,226.5 121,226.6 121.5,226.6 122,226.6 122.5,226.6 123,226.6 123.5,226.6 124,226.5 124.5,226.5 125,226.4 125.5,226.4 126,226.3 126.5,226.3 127,226.3 127.5,226.3 128,226.3 128.5,226.4 129,226.4 129.5,226.4 130,226.5 130.5,226.5 131,226.5 131.5,226.6 132,226.6 132.5,226.6 133,226.6 133.5,226.5 134,226.5 134.5,226.4 135,226.3 135.5,226.3 136,226.2 136.5,226.2 137,226.1 137.5,226.1 138,226.1 138.5,226.1 139,226.1 139.5,226.1 140,226.2 140.5,226.2 141,226.2 141.5,226.2 142,226.3 142.5,226.3 143,226.3 143.5,226.4 144,226.4 144.5,226.5 145,226.5 145.5,226.6 146,226.6 146.5,226.7 147,226.7 147.5,226.7 148,226.7 148.5,226.7 149,226.7 149.5,226.7 150,226.7 150.5,226.7 151,226.7 151.5,226.7 152,226.7" fill="none" stroke="#bc86da" stroke-width="1.0" stroke-linejoin="round"/>
<text x="67.6" y="144.8" font-size="8.0" text-anchor="middle" font-weight="normal" fill="#333" stroke="#333" stroke-width="0.22">I</text>
<text x="77.6" y="144.8" font-size="8.0" text-anchor="middle" font-weight="normal" fill="#333" stroke="#333" stroke-width="0.22">II</text>
<text x="91.7" y="147.5" font-size="8.0" text-anchor="middle" font-weight="normal" fill="#333" stroke="#333" stroke-width="0.22">III</text>
<text x="107" y="146.2" font-size="8.0" text-anchor="middle" font-weight="normal" fill="#333" stroke="#333" stroke-width="0.22">IV</text>
<text x="118.3" y="147.5" font-size="8.0" text-anchor="middle" font-weight="normal" fill="#333" stroke="#333" stroke-width="0.22">V</text>
<line x1="135.9" y1="140.8" x2="135.9" y2="148.6" stroke="#000" stroke-width="1.1"/>
<text x="137.5" y="147.6" font-size="8.0" text-anchor="start" font-weight="normal" fill="#222" stroke="#222" stroke-width="0.22">3μV</text>
<line x1="51.5" y1="257.5" x2="51.5" y2="353.2" stroke="#8a8a8a" stroke-width="1.0"/>
<line x1="51.6" y1="353.5" x2="152" y2="353.5" stroke="#8a8a8a" stroke-width="1.0"/>
<line x1="52" y1="353.2" x2="52" y2="351.7" stroke="#6b6b6b" stroke-width="0.6"/>
<line x1="75.5" y1="353.2" x2="75.5" y2="351.7" stroke="#6b6b6b" stroke-width="0.6"/>
<line x1="99" y1="353.2" x2="99" y2="351.7" stroke="#6b6b6b" stroke-width="0.6"/>
<line x1="122.5" y1="353.2" x2="122.5" y2="351.7" stroke="#6b6b6b" stroke-width="0.6"/>
<line x1="146" y1="353.2" x2="146" y2="351.7" stroke="#6b6b6b" stroke-width="0.6"/>
<line x1="76.5" y1="251" x2="76.5" y2="268" stroke="#9a9a9a" stroke-width="0.5" stroke-dasharray="0.8 1.4"/>
<text x="62.2" y="249.2" font-size="8.3" text-anchor="start" font-weight="normal" fill="#86c24a" stroke="#86c24a" stroke-width="0.22">Epidural (AC), awake</text>
<line x1="52" y1="271.3" x2="53.5" y2="271.3" stroke="#6b6b6b" stroke-width="0.6"/>
<text x="49.4" y="274.2" font-size="8.1" text-anchor="end" font-weight="normal" fill="#262626" stroke="#262626" stroke-width="0.22">90</text>
<polyline points="52,271.3 52.5,271.3 53,271.3 53.5,271.4 54,271.4 54.5,271.5 55,271.7 55.5,271.7 56,271.7 56.5,271.7 57,271.6 57.5,271.6 58,271.5 58.5,271.4 59,271.3 59.5,271.3 60,271.2 60.5,271.2 61,271.1 61.5,271.1 62,271 62.5,271 63,271 63.5,271 64,271 64.5,271 65,271 65.5,271 66,271.1 66.5,271.1 67,271.2 67.5,271.3 68,271.3 68.5,271.4 69,271.5 69.5,271.5 70,271.6 70.5,271.6 71,271.6 71.5,271.6 72,271.6 72.5,271.7 73,271.6 73.5,271.6 74,271.6 74.5,271.5 75,271.3 75.5,270.9 76,270.5 76.5,270.1 77,269.8 77.5,269.8 78,270.2 78.5,270.9 79,271.7 79.5,272.1 80,272 80.5,271.3 81,270.5 81.5,269.8 82,269.6 82.5,269.8 83,270.5 83.5,271.4 84,272.5 84.5,273.5 85,274.3 85.5,274.7 86,274.5 86.5,273.7 87,272.4 87.5,270.7 88,269.1 88.5,268 89,267.5 89.5,267.7 90,268.4 90.5,269.2 91,270.2 91.5,271.1 92,271.9 92.5,272.8 93,273.8 93.5,275.1 94,276.4 94.5,277.8 95,279 95.5,279.7 96,279.9 96.5,279.4 97,278.3 97.5,276.7 98,274.6 98.5,272.3 99,269.9 99.5,267.5 100,265 100.5,262.7 101,260.7 101.5,259.2 102,258.5 102.5,258.7 103,259.6 103.5,261.2 104,263.3 104.5,265.6 105,267.8 105.5,270 106,272 106.5,273.8 107,275.5 107.5,277.1 108,278.4 108.5,279.4 109,280 109.5,280.2 110,279.9 110.5,279.1 111,277.9 111.5,276.4 112,274.7 112.5,273 113,271.3 113.5,269.8 114,268.6 114.5,267.5 115,266.8 115.5,266.3 116,266.2 116.5,266.4 117,266.9 117.5,267.5 118,268.2 118.5,269 119,269.8 119.5,270.6 120,271.3 120.5,272.1 121,272.8 121.5,273.6 122,274.4 122.5,275.1 123,275.7 123.5,276.3 124,276.8 124.5,277.1 125,277.1 125.5,277 126,276.7 126.5,276.2 127,275.6 127.5,274.8 128,274.1 128.5,273.4 129,272.7 129.5,272.1 130,271.6 130.5,271.1 131,270.8 131.5,270.5 132,270.3 132.5,270.1 133,269.9 133.5,269.9 134,269.8 134.5,269.8 135,269.8 135.5,269.8 136,269.8 136.5,269.9 137,270 137.5,270.1 138,270.1 138.5,270.3 139,270.4 139.5,270.5 140,270.6 140.5,270.7 141,270.8 141.5,270.9 142,271 142.5,271.1 143,271.1 143.5,271.2 144,271.2 144.5,271.2 145,271.2 145.5,271.2 146,271.1 146.5,271 147,271 147.5,270.9 148,270.9 148.5,270.8 149,270.8 149.5,270.9 150,271 150.5,271.1 151,271.2 151.5,271.3 152,271.4" fill="none" stroke="#a2cf72" stroke-width="1.0" stroke-linejoin="round"/>
<circle cx="77.3" cy="269.8" r="1.25" fill="#000"/>
<circle cx="82" cy="269.6" r="1.25" fill="#000"/>
<circle cx="88.8" cy="267.5" r="1.25" fill="#000"/>
<circle cx="102.2" cy="258.5" r="1.25" fill="#000"/>
<circle cx="115.9" cy="266.2" r="1.25" fill="#000"/>
<line x1="52" y1="280.5" x2="53.5" y2="280.5" stroke="#6b6b6b" stroke-width="0.6"/>
<text x="49.4" y="283.4" font-size="8.1" text-anchor="end" font-weight="normal" fill="#262626" stroke="#262626" stroke-width="0.22">80</text>
<polyline points="52,280.6 52.5,280.6 53,280.6 53.5,280.6 54,280.6 54.5,280.6 55,280.8 55.5,280.8 56,280.8 56.5,280.8 57,280.8 57.5,280.8 58,280.7 58.5,280.7 59,280.7 59.5,280.7 60,280.7 60.5,280.7 61,280.7 61.5,280.8 62,280.8 62.5,280.8 63,280.7 63.5,280.7 64,280.6 64.5,280.6 65,280.5 65.5,280.5 66,280.5 66.5,280.5 67,280.5 67.5,280.5 68,280.5 68.5,280.5 69,280.5 69.5,280.5 70,280.5 70.5,280.4 71,280.3 71.5,280.3 72,280.2 72.5,280.2 73,280.2 73.5,280.1 74,280.1 74.5,280.2 75,280.2 75.5,280.2 76,280.2 76.5,280.2 77,280 77.5,279.8 78,279.4 78.5,279.2 79,279.3 79.5,279.6 80,280.1 80.5,280.8 81,281.4 81.5,281.6 82,281.3 82.5,280.7 83,279.9 83.5,279.2 84,278.8 84.5,278.9 85,279.2 85.5,279.8 86,280.5 86.5,281.3 87,282 87.5,282.7 88,283.2 88.5,283.3 89,282.9 89.5,282 90,280.7 90.5,279.3 91,278.1 91.5,277.2 92,276.8 92.5,276.9 93,277.5 93.5,278.3 94,279.1 94.5,280 95,280.8 95.5,281.6 96,282.6 96.5,283.7 97,285 97.5,286.3 98,287.4 98.5,288.1 99,288.3 99.5,287.9 100,286.9 100.5,285.3 101,283.3 101.5,281.1 102,278.7 102.5,276.4 103,274.1 103.5,272 104,270.5 104.5,269.5 105,269.2 105.5,269.8 106,271 106.5,272.7 107,274.7 107.5,276.8 108,278.8 108.5,280.8 109,282.5 109.5,284.1 110,285.5 110.5,286.7 111,287.5 111.5,288 112,288 112.5,287.6 113,286.7 113.5,285.6 114,284.2 114.5,282.7 115,281.3 115.5,279.9 116,278.8 116.5,277.8 117,277.1 117.5,276.8 118,276.6 118.5,276.8 119,277.1 119.5,277.6 120,278.3 120.5,278.9 121,279.6 121.5,280.3 122,281 122.5,281.7 123,282.3 123.5,282.9 124,283.5 124.5,284.1 125,284.7 125.5,285.1 126,285.4 126.5,285.5 127,285.5 127.5,285.3 128,285 128.5,284.5 129,284 129.5,283.3 130,282.6 130.5,282 131,281.3 131.5,280.8 132,280.3 132.5,279.9 133,279.6 133.5,279.4 134,279.3 134.5,279.2 135,279.2 135.5,279.2 136,279.3 136.5,279.4 137,279.4 137.5,279.4 138,279.5 138.5,279.5 139,279.6 139.5,279.6 140,279.7 140.5,279.8 141,279.9 141.5,280 142,280.2 142.5,280.3 143,280.3 143.5,280.4 144,280.4 144.5,280.4 145,280.4 145.5,280.4 146,280.3 146.5,280.3 147,280.3 147.5,280.3 148,280.3 148.5,280.3 149,280.3 149.5,280.3 150,280.4 150.5,280.4 151,280.4 151.5,280.4 152,280.4" fill="none" stroke="#a2cf72" stroke-width="1.0" stroke-linejoin="round"/>
<circle cx="78.9" cy="279.3" r="1.25" fill="#000"/>
<circle cx="84.1" cy="278.8" r="1.25" fill="#000"/>
<circle cx="92" cy="276.8" r="1.25" fill="#000"/>
<circle cx="104.9" cy="269.2" r="1.25" fill="#000"/>
<circle cx="117.8" cy="276.6" r="1.25" fill="#000"/>
<line x1="52" y1="289.6" x2="53.5" y2="289.6" stroke="#6b6b6b" stroke-width="0.6"/>
<text x="49.4" y="292.5" font-size="8.1" text-anchor="end" font-weight="normal" fill="#262626" stroke="#262626" stroke-width="0.22">70</text>
<polyline points="52,289.8 52.5,289.8 53,289.8 53.5,289.8 54,289.8 54.5,289.8 55,289.9 55.5,289.8 56,289.8 56.5,289.8 57,289.7 57.5,289.7 58,289.7 58.5,289.7 59,289.7 59.5,289.7 60,289.7 60.5,289.7 61,289.6 61.5,289.6 62,289.6 62.5,289.6 63,289.6 63.5,289.6 64,289.6 64.5,289.7 65,289.7 65.5,289.7 66,289.8 66.5,289.8 67,289.8 67.5,289.8 68,289.8 68.5,289.8 69,289.7 69.5,289.6 70,289.5 70.5,289.4 71,289.4 71.5,289.3 72,289.2 72.5,289.1 73,289.1 73.5,289.1 74,289.1 74.5,289.2 75,289.3 75.5,289.4 76,289.6 76.5,289.7 77,289.8 77.5,289.8 78,289.8 78.5,289.6 79,289.3 79.5,288.9 80,288.5 80.5,288.4 81,288.5 81.5,288.8 82,289.4 82.5,289.9 83,290.1 83.5,289.9 84,289.4 84.5,288.8 85,288.4 85.5,288.3 86,288.6 86.5,289.2 87,290.1 87.5,290.9 88,291.7 88.5,292.3 89,292.6 89.5,292.4 90,291.7 90.5,290.6 91,289.2 91.5,288 92,287.1 92.5,286.7 93,286.8 93.5,287.3 94,287.9 94.5,288.6 95,289.2 95.5,289.8 96,290.5 96.5,291.2 97,292.2 97.5,293.2 98,294.2 98.5,295.1 99,295.8 99.5,295.9 100,295.7 100.5,294.9 101,293.7 101.5,292.3 102,290.6 102.5,288.8 103,286.9 103.5,285.1 104,283.3 104.5,281.7 105,280.6 105.5,280 106,280.1 106.5,280.8 107,282 107.5,283.5 108,285.2 108.5,287 109,288.6 109.5,290.1 110,291.4 110.5,292.7 111,293.8 111.5,294.8 112,295.5 112.5,296 113,296.2 113.5,295.9 114,295.4 114.5,294.5 115,293.5 115.5,292.3 116,291 116.5,289.9 117,288.8 117.5,287.8 118,287.1 118.5,286.5 119,286.1 119.5,286 120,286.1 120.5,286.4 121,286.8 121.5,287.3 122,287.9 122.5,288.5 123,289.2 123.5,289.7 124,290.3 124.5,290.9 125,291.5 125.5,292 126,292.6 126.5,293.1 127,293.6 127.5,293.9 128,294.1 128.5,294.2 129,294.1 129.5,293.8 130,293.4 130.5,293 131,292.5 131.5,291.9 132,291.4 132.5,290.8 133,290.4 133.5,289.9 134,289.6 134.5,289.2 135,288.9 135.5,288.7 136,288.5 136.5,288.3 137,288.1 137.5,288 138,288 138.5,288 139,288.1 139.5,288.2 140,288.3 140.5,288.5 141,288.6 141.5,288.8 142,288.9 142.5,289 143,289.1 143.5,289.2 144,289.2 144.5,289.2 145,289.2 145.5,289.2 146,289.3 146.5,289.3 147,289.4 147.5,289.5 148,289.5 148.5,289.6 149,289.7 149.5,289.8 150,289.8 150.5,289.8 151,289.8 151.5,289.9 152,289.9" fill="none" stroke="#a2cf72" stroke-width="1.0" stroke-linejoin="round"/>
<circle cx="80.5" cy="288.4" r="1.25" fill="#000"/>
<circle cx="85.5" cy="288.3" r="1.25" fill="#000"/>
<circle cx="92.3" cy="286.7" r="1.25" fill="#000"/>
<circle cx="105.7" cy="280" r="1.25" fill="#000"/>
<circle cx="119.5" cy="286" r="1.25" fill="#000"/>
<line x1="52" y1="298.8" x2="53.5" y2="298.8" stroke="#6b6b6b" stroke-width="0.6"/>
<text x="49.4" y="301.7" font-size="8.1" text-anchor="end" font-weight="normal" fill="#262626" stroke="#262626" stroke-width="0.22">60</text>
<polyline points="52,298.8 52.5,298.8 53,298.8 53.5,298.8 54,298.9 54.5,298.9 55,298.9 55.5,298.9 56,298.9 56.5,299 57,298.9 57.5,298.9 58,298.9 58.5,298.9 59,298.9 59.5,298.8 60,298.8 60.5,298.8 61,298.7 61.5,298.7 62,298.7 62.5,298.7 63,298.6 63.5,298.6 64,298.6 64.5,298.5 65,298.5 65.5,298.5 66,298.4 66.5,298.4 67,298.4 67.5,298.4 68,298.5 68.5,298.5 69,298.5 69.5,298.5 70,298.5 70.5,298.5 71,298.5 71.5,298.5 72,298.5 72.5,298.5 73,298.4 73.5,298.4 74,298.5 74.5,298.5 75,298.5 75.5,298.5 76,298.5 76.5,298.5 77,298.5 77.5,298.6 78,298.6 78.5,298.6 79,298.6 79.5,298.5 80,298.4 80.5,298.1 81,297.8 81.5,297.6 82,297.5 82.5,297.7 83,298.1 83.5,298.7 84,299.1 84.5,299.1 85,298.9 85.5,298.5 86,298.1 86.5,298 87,298.2 87.5,298.7 88,299.3 88.5,299.9 89,300.5 89.5,300.9 90,301.1 90.5,300.9 91,300.4 91.5,299.5 92,298.4 92.5,297.3 93,296.5 93.5,296 94,296.1 94.5,296.5 95,297.1 95.5,297.7 96,298.3 96.5,298.8 97,299.3 97.5,299.8 98,300.4 98.5,301.1 99,302 99.5,302.8 100,303.6 100.5,304.2 101,304.4 101.5,304.2 102,303.7 102.5,302.8 103,301.7 103.5,300.5 104,299.1 104.5,297.7 105,296.3 105.5,294.8 106,293.4 106.5,292.2 107,291.2 107.5,290.8 108,290.8 108.5,291.4 109,292.4 109.5,293.8 110,295.2 110.5,296.8 111,298.2 111.5,299.6 112,300.8 112.5,301.9 113,302.9 113.5,303.6 114,304.2 114.5,304.4 115,304.4 115.5,304 116,303.4 116.5,302.5 117,301.5 117.5,300.4 118,299.4 118.5,298.4 119,297.5 119.5,296.8 120,296.2 120.5,295.9 121,295.8 121.5,295.9 122,296.2 122.5,296.6 123,297.2 123.5,297.7 124,298.3 124.5,298.9 125,299.4 125.5,299.9 126,300.3 126.5,300.8 127,301.2 127.5,301.5 128,301.8 128.5,302.1 129,302.3 129.5,302.3 130,302.3 130.5,302.1 131,301.9 131.5,301.5 132,301.1 132.5,300.7 133,300.3 133.5,299.9 134,299.5 134.5,299.2 135,298.9 135.5,298.6 136,298.4 136.5,298.2 137,298 137.5,297.9 138,297.8 138.5,297.7 139,297.7 139.5,297.7 140,297.7 140.5,297.7 141,297.8 141.5,297.9 142,298 142.5,298.2 143,298.3 143.5,298.4 144,298.4 144.5,298.5 145,298.5 145.5,298.5 146,298.5 146.5,298.6 147,298.6 147.5,298.7 148,298.7 148.5,298.8 149,298.9 149.5,299 150,299 150.5,299.1 151,299.2 151.5,299.2 152,299.2" fill="none" stroke="#a2cf72" stroke-width="1.0" stroke-linejoin="round"/>
<circle cx="82" cy="297.5" r="1.25" fill="#000"/>
<circle cx="86.5" cy="298" r="1.25" fill="#000"/>
<circle cx="93.5" cy="296" r="1.25" fill="#000"/>
<circle cx="107.7" cy="290.8" r="1.25" fill="#000"/>
<circle cx="120.9" cy="295.8" r="1.25" fill="#000"/>
<line x1="52" y1="308" x2="53.5" y2="308" stroke="#6b6b6b" stroke-width="0.6"/>
<text x="49.4" y="310.9" font-size="8.1" text-anchor="end" font-weight="normal" fill="#262626" stroke="#262626" stroke-width="0.22">50</text>
<polyline points="52,308.2 52.5,308.2 53,308.2 53.5,308.1 54,308.1 54.5,308.1 55,308.2 55.5,308.1 56,308.1 56.5,308.1 57,308 57.5,308 58,308 58.5,308 59,308 59.5,308 60,307.9 60.5,307.9 61,307.9 61.5,307.9 62,307.9 62.5,307.9 63,307.9 63.5,307.9 64,307.8 64.5,307.8 65,307.8 65.5,307.7 66,307.7 66.5,307.7 67,307.7 67.5,307.8 68,307.8 68.5,307.9 69,308 69.5,308.1 70,308.2 70.5,308.2 71,308.3 71.5,308.2 72,308.2 72.5,308.2 73,308.1 73.5,308 74,307.9 74.5,307.8 75,307.8 75.5,307.8 76,307.8 76.5,307.8 77,307.8 77.5,307.8 78,307.9 78.5,308 79,308 79.5,308 80,308.1 80.5,308 81,308 81.5,307.8 82,307.6 82.5,307.4 83,307.3 83.5,307.3 84,307.6 84.5,307.9 85,308.1 85.5,308 86,307.7 86.5,307.2 87,306.9 87.5,307 88,307.2 88.5,307.6 89,308.1 89.5,308.6 90,309.1 90.5,309.6 91,309.9 91.5,310 92,309.7 92.5,309.2 93,308.4 93.5,307.5 94,306.7 94.5,306.1 95,305.8 95.5,305.9 96,306.2 96.5,306.6 97,307.1 97.5,307.5 98,307.8 98.5,308.1 99,308.4 99.5,308.7 100,309.2 100.5,309.8 101,310.4 101.5,311.1 102,311.6 102.5,312 103,312.1 103.5,311.9 104,311.4 104.5,310.7 105,309.8 105.5,308.9 106,308 106.5,307 107,306 107.5,304.9 108,303.8 108.5,302.8 109,302.1 109.5,301.6 110,301.6 110.5,301.9 111,302.6 111.5,303.6 112,304.7 112.5,305.9 113,306.9 113.5,308 114,308.9 114.5,309.7 115,310.5 115.5,311.1 116,311.7 116.5,312.1 117,312.3 117.5,312.2 118,311.9 118.5,311.4 119,310.7 119.5,309.9 120,309.1 120.5,308.3 121,307.5 121.5,306.7 122,306.1 122.5,305.7 123,305.3 123.5,305.2 124,305.2 124.5,305.4 125,305.7 125.5,306.2 126,306.6 126.5,307.2 127,307.7 127.5,308.2 128,308.6 128.5,309 129,309.4 129.5,309.8 130,310.2 130.5,310.5 131,310.8 131.5,311.1 132,311.3 132.5,311.3 133,311.4 133.5,311.3 134,311.1 134.5,310.8 135,310.4 135.5,310 136,309.6 136.5,309.2 137,308.9 137.5,308.6 138,308.3 138.5,308.1 139,307.9 139.5,307.7 140,307.5 140.5,307.4 141,307.3 141.5,307.2 142,307.2 142.5,307.2 143,307.2 143.5,307.2 144,307.3 144.5,307.4 145,307.5 145.5,307.6 146,307.7 146.5,307.8 147,307.9 147.5,307.9 148,307.9 148.5,307.9 149,307.9 149.5,307.8 150,307.8 150.5,307.7 151,307.7 151.5,307.7 152,307.7" fill="none" stroke="#a2cf72" stroke-width="1.0" stroke-linejoin="round"/>
<circle cx="83.3" cy="307.3" r="1.25" fill="#000"/>
<circle cx="87.1" cy="306.9" r="1.25" fill="#000"/>
<circle cx="95" cy="305.8" r="1.25" fill="#000"/>
<circle cx="109.9" cy="301.6" r="1.25" fill="#000"/>
<circle cx="123.8" cy="305.2" r="1.25" fill="#000"/>
<line x1="52" y1="317.2" x2="53.5" y2="317.2" stroke="#6b6b6b" stroke-width="0.6"/>
<text x="49.4" y="320.1" font-size="8.1" text-anchor="end" font-weight="normal" fill="#262626" stroke="#262626" stroke-width="0.22">40</text>
<polyline points="52,317.2 52.5,317.2 53,317.2 53.5,317.1 54,317.1 54.5,317.1 55,317.2 55.5,317.2 56,317.2 56.5,317.2 57,317.2 57.5,317.2 58,317.1 58.5,317.1 59,317 59.5,316.9 60,316.8 60.5,316.8 61,316.7 61.5,316.7 62,316.7 62.5,316.7 63,316.7 63.5,316.7 64,316.8 64.5,316.9 65,316.9 65.5,317 66,317.1 66.5,317.2 67,317.2 67.5,317.2 68,317.2 68.5,317.1 69,317 69.5,316.9 70,316.8 70.5,316.7 71,316.7 71.5,316.7 72,316.7 72.5,316.7 73,316.8 73.5,316.9 74,317 74.5,317 75,317.1 75.5,317.1 76,317.1 76.5,317.2 77,317.2 77.5,317.2 78,317.2 78.5,317.2 79,317.1 79.5,317.1 80,317.1 80.5,317 81,317 81.5,316.9 82,316.9 82.5,316.8 83,316.7 83.5,316.6 84,316.5 84.5,316.3 85,316.3 85.5,316.4 86,316.6 86.5,317 87,317.2 87.5,317.2 88,317 88.5,316.7 89,316.4 89.5,316.4 90,316.5 90.5,316.7 91,317 91.5,317.2 92,317.4 92.5,317.6 93,317.9 93.5,318.2 94,318.4 94.5,318.4 95,318.3 95.5,318.1 96,317.7 96.5,317.2 97,316.6 97.5,316.1 98,315.6 98.5,315.3 99,315.1 99.5,315.3 100,315.6 100.5,315.9 101,316.4 101.5,316.8 102,317.2 102.5,317.7 103,318.2 103.5,318.8 104,319.3 104.5,319.8 105,320.2 105.5,320.3 106,320.2 106.5,319.8 107,319.1 107.5,318.2 108,317.2 108.5,316.1 109,315.1 109.5,314 110,313.1 110.5,312.4 111,312 111.5,311.9 112,312.1 112.5,312.6 113,313.3 113.5,314.1 114,314.8 114.5,315.5 115,316.1 115.5,316.6 116,317 116.5,317.4 117,317.8 117.5,318.2 118,318.7 118.5,319.1 119,319.6 119.5,319.9 120,320.2 120.5,320.3 121,320.2 121.5,319.9 122,319.5 122.5,319 123,318.5 123.5,318 124,317.5 124.5,317.1 125,316.7 125.5,316.3 126,316 126.5,315.6 127,315.3 127.5,315 128,314.8 128.5,314.6 129,314.5 129.5,314.5 130,314.6 130.5,314.9 131,315.2 131.5,315.5 132,315.9 132.5,316.2 133,316.6 133.5,316.9 134,317.2 134.5,317.5 135,317.8 135.5,318.1 136,318.4 136.5,318.6 137,318.8 137.5,319 138,319.2 138.5,319.2 139,319.2 139.5,319.1 140,318.9 140.5,318.7 141,318.5 141.5,318.2 142,318 142.5,317.7 143,317.5 143.5,317.3 144,317.2 144.5,317 145,316.9 145.5,316.8 146,316.8 146.5,316.7 147,316.7 147.5,316.8 148,316.8 148.5,316.8 149,316.9 149.5,317 150,317 150.5,317 151,317.1 151.5,317.1 152,317.1" fill="none" stroke="#a2cf72" stroke-width="1.0" stroke-linejoin="round"/>
<circle cx="85.2" cy="316.3" r="1.25" fill="#000"/>
<circle cx="89.3" cy="316.4" r="1.25" fill="#000"/>
<circle cx="98.9" cy="315.1" r="1.25" fill="#000"/>
<circle cx="111.4" cy="311.9" r="1.25" fill="#000"/>
<circle cx="128.9" cy="314.5" r="1.25" fill="#000"/>
<line x1="52" y1="326.3" x2="53.5" y2="326.3" stroke="#6b6b6b" stroke-width="0.6"/>
<text x="49.4" y="329.2" font-size="8.1" text-anchor="end" font-weight="normal" fill="#262626" stroke="#262626" stroke-width="0.22">30</text>
<polyline points="52,326.4 52.5,326.4 53,326.3 53.5,326.3 54,326.3 54.5,326.3 55,326.2 55.5,326.2 56,326.2 56.5,326.2 57,326.2 57.5,326.2 58,326.2 58.5,326.2 59,326.2 59.5,326.3 60,326.3 60.5,326.3 61,326.4 61.5,326.4 62,326.5 62.5,326.5 63,326.5 63.5,326.5 64,326.5 64.5,326.4 65,326.4 65.5,326.4 66,326.3 66.5,326.3 67,326.4 67.5,326.4 68,326.5 68.5,326.5 69,326.6 69.5,326.7 70,326.7 70.5,326.7 71,326.7 71.5,326.7 72,326.7 72.5,326.6 73,326.6 73.5,326.6 74,326.5 74.5,326.5 75,326.5 75.5,326.5 76,326.5 76.5,326.4 77,326.4 77.5,326.4 78,326.4 78.5,326.4 79,326.4 79.5,326.3 80,326.3 80.5,326.3 81,326.3 81.5,326.3 82,326.3 82.5,326.3 83,326.4 83.5,326.4 84,326.5 84.5,326.5 85,326.5 85.5,326.4 86,326.3 86.5,326.2 87,326 87.5,326 88,326.1 88.5,326.2 89,326.3 89.5,326.4 90,326.4 90.5,326.2 91,325.9 91.5,325.6 92,325.4 92.5,325.5 93,325.6 93.5,325.8 94,326 94.5,326.3 95,326.5 95.5,326.7 96,326.9 96.5,327 97,327.1 97.5,327 98,326.7 98.5,326.3 99,325.8 99.5,325.3 100,324.9 100.5,324.7 101,324.6 101.5,324.7 102,325 102.5,325.4 103,325.7 103.5,326 104,326.3 104.5,326.5 105,326.8 105.5,327.1 106,327.4 106.5,327.8 107,328 107.5,328.2 108,328.1 108.5,328 109,327.6 109.5,327.1 110,326.5 110.5,325.8 111,325 111.5,324.3 112,323.6 112.5,323.1 113,322.7 113.5,322.5 114,322.7 114.5,323 115,323.5 115.5,324.1 116,324.8 116.5,325.4 117,326 117.5,326.5 118,327 118.5,327.4 119,327.8 119.5,328.2 120,328.6 120.5,328.8 121,329 121.5,329.1 122,329 122.5,328.8 123,328.5 123.5,328.1 124,327.6 124.5,327.1 125,326.6 125.5,326.2 126,325.7 126.5,325.3 127,325 127.5,324.8 128,324.6 128.5,324.5 129,324.6 129.5,324.7 130,324.9 130.5,325.1 131,325.4 131.5,325.7 132,326 132.5,326.2 133,326.5 133.5,326.7 134,326.9 134.5,327.1 135,327.2 135.5,327.4 136,327.5 136.5,327.6 137,327.7 137.5,327.8 138,327.8 138.5,327.7 139,327.6 139.5,327.5 140,327.3 140.5,327.1 141,326.9 141.5,326.7 142,326.6 142.5,326.5 143,326.4 143.5,326.3 144,326.3 144.5,326.3 145,326.2 145.5,326.2 146,326.2 146.5,326.2 147,326.2 147.5,326.2 148,326.1 148.5,326.1 149,326.1 149.5,326 150,326 150.5,325.9 151,325.8 151.5,325.8 152,325.7" fill="none" stroke="#a2cf72" stroke-width="1.0" stroke-linejoin="round"/>
<circle cx="87.3" cy="326" r="1.25" fill="#000"/>
<circle cx="92.2" cy="325.4" r="1.25" fill="#000"/>
<circle cx="100.9" cy="324.6" r="1.25" fill="#000"/>
<circle cx="113.5" cy="322.5" r="1.25" fill="#000"/>
<circle cx="128.9" cy="324.6" r="1.25" fill="#000"/>
<line x1="52" y1="335.5" x2="53.5" y2="335.5" stroke="#6b6b6b" stroke-width="0.6"/>
<text x="49.4" y="338.4" font-size="8.1" text-anchor="end" font-weight="normal" fill="#262626" stroke="#262626" stroke-width="0.22">20</text>
<polyline points="52,335.5 52.5,335.6 53,335.6 53.5,335.6 54,335.6 54.5,335.7 55,335.9 55.5,335.9 56,335.9 56.5,335.8 57,335.8 57.5,335.7 58,335.7 58.5,335.6 59,335.5 59.5,335.5 60,335.5 60.5,335.4 61,335.4 61.5,335.5 62,335.5 62.5,335.5 63,335.5 63.5,335.5 64,335.6 64.5,335.7 65,335.7 65.5,335.8 66,335.8 66.5,335.9 67,335.9 67.5,335.9 68,335.8 68.5,335.8 69,335.8 69.5,335.7 70,335.6 70.5,335.6 71,335.6 71.5,335.5 72,335.5 72.5,335.5 73,335.5 73.5,335.5 74,335.5 74.5,335.5 75,335.5 75.5,335.5 76,335.6 76.5,335.6 77,335.6 77.5,335.6 78,335.6 78.5,335.6 79,335.6 79.5,335.6 80,335.6 80.5,335.7 81,335.7 81.5,335.7 82,335.7 82.5,335.7 83,335.8 83.5,335.8 84,335.8 84.5,335.8 85,335.8 85.5,335.8 86,335.7 86.5,335.6 87,335.5 87.5,335.4 88,335.3 88.5,335.3 89,335.2 89.5,335.3 90,335.4 90.5,335.5 91,335.5 91.5,335.5 92,335.6 92.5,335.5 93,335.6 93.5,335.6 94,335.6 94.5,335.6 95,335.5 95.5,335.4 96,335.3 96.5,335.3 97,335.2 97.5,335.2 98,335.1 98.5,335 99,334.9 99.5,334.9 100,335 100.5,335.1 101,335.3 101.5,335.4 102,335.6 102.5,335.7 103,335.8 103.5,335.9 104,336 104.5,335.9 105,335.8 105.5,335.6 106,335.4 106.5,335.1 107,334.8 107.5,334.5 108,334.3 108.5,334.2 109,334.3 109.5,334.5 110,334.8 110.5,335.1 111,335.5 111.5,335.8 112,336.1 112.5,336.4 113,336.6 113.5,336.8 114,336.8 114.5,336.7 115,336.5 115.5,336.2 116,335.8 116.5,335.3 117,334.8 117.5,334.4 118,334.1 118.5,333.9 119,333.9 119.5,334 120,334.2 120.5,334.5 121,334.7 121.5,335 122,335.2 122.5,335.4 123,335.5 123.5,335.7 124,335.8 124.5,336 125,336.2 125.5,336.3 126,336.5 126.5,336.6 127,336.6 127.5,336.6 128,336.5 128.5,336.3 129,336.1 129.5,335.8 130,335.6 130.5,335.3 131,335.1 131.5,334.8 132,334.6 132.5,334.4 133,334.3 133.5,334.3 134,334.3 134.5,334.4 135,334.5 135.5,334.6 136,334.8 136.5,335 137,335.1 137.5,335.3 138,335.4 138.5,335.5 139,335.5 139.5,335.6 140,335.7 140.5,335.7 141,335.8 141.5,335.8 142,335.9 142.5,335.9 143,336 143.5,335.9 144,335.9 144.5,335.8 145,335.7 145.5,335.7 146,335.5 146.5,335.4 147,335.3 147.5,335.3 148,335.3 148.5,335.3 149,335.3 149.5,335.4 150,335.4 150.5,335.4 151,335.4 151.5,335.4 152,335.4" fill="none" stroke="#a2cf72" stroke-width="1.0" stroke-linejoin="round"/>
<circle cx="88.7" cy="335.3" r="1.25" fill="#000"/>
<circle cx="99.8" cy="335" r="1.25" fill="#000"/>
<circle cx="108.5" cy="334.2" r="1.25" fill="#000"/>
<circle cx="118.7" cy="333.9" r="1.25" fill="#000"/>
<circle cx="134.1" cy="334.3" r="1.25" fill="#000"/>
<line x1="52" y1="344.7" x2="53.5" y2="344.7" stroke="#6b6b6b" stroke-width="0.6"/>
<text x="49.4" y="347.6" font-size="8.1" text-anchor="end" font-weight="normal" fill="#262626" stroke="#262626" stroke-width="0.22">10</text>
<polyline points="52,344.7 52.5,344.7 53,344.7 53.5,344.6 54,344.6 54.5,344.6 55,344.5 55.5,344.4 56,344.4 56.5,344.3 57,344.2 57.5,344.2 58,344.2 58.5,344.1 59,344.1 59.5,344.1 60,344.1 60.5,344.1 61,344.1 61.5,344.2 62,344.2 62.5,344.3 63,344.4 63.5,344.5 64,344.6 64.5,344.7 65,344.7 65.5,344.8 66,344.8 66.5,344.8 67,344.9 67.5,344.9 68,344.9 68.5,344.9 69,344.9 69.5,344.9 70,345 70.5,345 71,345 71.5,345 72,345 72.5,344.9 73,344.9 73.5,344.9 74,344.9 74.5,344.8 75,344.8 75.5,344.8 76,344.8 76.5,344.8 77,344.8 77.5,344.9 78,344.9 78.5,344.9 79,344.9 79.5,344.9 80,345 80.5,345 81,345 81.5,345 82,344.9 82.5,344.9 83,344.8 83.5,344.8 84,344.7 84.5,344.7 85,344.7 85.5,344.7 86,344.7 86.5,344.7 87,344.7 87.5,344.8 88,344.8 88.5,344.8 89,344.8 89.5,344.8 90,344.8 90.5,344.8 91,344.8 91.5,344.8 92,344.8 92.5,344.8 93,344.8 93.5,344.8 94,344.9 94.5,344.9 95,344.9 95.5,344.9 96,344.9 96.5,344.9 97,344.8 97.5,344.8 98,344.8 98.5,344.8 99,344.7 99.5,344.6 100,344.6 100.5,344.5 101,344.5 101.5,344.5 102,344.5 102.5,344.5 103,344.5 103.5,344.5 104,344.5 104.5,344.5 105,344.5 105.5,344.5 106,344.6 106.5,344.5 107,344.5 107.5,344.6 108,344.6 108.5,344.6 109,344.6 109.5,344.6 110,344.6 110.5,344.6 111,344.7 111.5,344.7 112,344.8 112.5,344.8 113,344.8 113.5,344.9 114,344.9 114.5,344.8 115,344.8 115.5,344.8 116,344.7 116.5,344.6 117,344.6 117.5,344.5 118,344.5 118.5,344.5 119,344.4 119.5,344.4 120,344.4 120.5,344.4 121,344.4 121.5,344.4 122,344.4 122.5,344.4 123,344.3 123.5,344.3 124,344.4 124.5,344.4 125,344.5 125.5,344.5 126,344.7 126.5,344.7 127,344.9 127.5,345 128,345 128.5,345.1 129,345.1 129.5,345 130,344.9 130.5,344.8 131,344.7 131.5,344.6 132,344.5 132.5,344.5 133,344.5 133.5,344.5 134,344.5 134.5,344.5 135,344.6 135.5,344.6 136,344.6 136.5,344.6 137,344.6 137.5,344.5 138,344.5 138.5,344.4 139,344.4 139.5,344.4 140,344.4 140.5,344.4 141,344.4 141.5,344.4 142,344.5 142.5,344.5 143,344.5 143.5,344.5 144,344.5 144.5,344.5 145,344.5 145.5,344.4 146,344.5 146.5,344.5 147,344.5 147.5,344.5 148,344.5 148.5,344.5 149,344.6 149.5,344.6 150,344.6 150.5,344.6 151,344.6 151.5,344.6 152,344.6" fill="none" stroke="#a2cf72" stroke-width="1.0" stroke-linejoin="round"/>
<text x="70.2" y="267.2" font-size="8.0" text-anchor="middle" font-weight="normal" fill="#333" stroke="#333" stroke-width="0.22">IIa</text>
<text x="80.6" y="264.7" font-size="8.0" text-anchor="middle" font-weight="normal" fill="#333" stroke="#333" stroke-width="0.22">IIb</text>
<text x="92.5" y="264.7" font-size="8.0" text-anchor="middle" font-weight="normal" fill="#333" stroke="#333" stroke-width="0.22">III</text>
<text x="108.5" y="259.6" font-size="8.0" text-anchor="middle" font-weight="normal" fill="#333" stroke="#333" stroke-width="0.22">IV</text>
<text x="119" y="266.2" font-size="8.0" text-anchor="middle" font-weight="normal" fill="#333" stroke="#333" stroke-width="0.22">V</text>
<text x="52.3" y="337" font-size="7.6" text-anchor="start" font-weight="normal" fill="#333" stroke="#333" stroke-width="0.22">Threshold</text>
<text x="52" y="364.5" font-size="8.0" text-anchor="middle" font-weight="normal" fill="#262626" stroke="#262626" stroke-width="0.22">0</text>
<text x="75.5" y="364.5" font-size="8.0" text-anchor="middle" font-weight="normal" fill="#262626" stroke="#262626" stroke-width="0.22">2</text>
<text x="99" y="364.5" font-size="8.0" text-anchor="middle" font-weight="normal" fill="#262626" stroke="#262626" stroke-width="0.22">4</text>
<text x="122.5" y="364.5" font-size="8.0" text-anchor="middle" font-weight="normal" fill="#262626" stroke="#262626" stroke-width="0.22">6</text>
<text x="146" y="364.5" font-size="8.0" text-anchor="middle" font-weight="normal" fill="#262626" stroke="#262626" stroke-width="0.22">8</text>
<text x="111.2" y="374.3" font-size="8.6" text-anchor="middle" font-weight="normal" fill="#262626" stroke="#262626" stroke-width="0.22">Time (ms)</text>
<text x="7.6" y="136" font-size="12.2" text-anchor="start" font-weight="bold" fill="#000">B</text>
<text x="21" y="186.5" font-size="8.45" text-anchor="middle" font-weight="bold" fill="#111" transform="rotate(-90 21 186.5)">ABR Tone 15 kHz</text>
<text x="31.2" y="186.5" font-size="9.1" text-anchor="middle" font-weight="normal" fill="#262626" transform="rotate(-90 31.2 186.5)" stroke="#262626" stroke-width="0.22">SPL (dB)</text>
<text x="21" y="304" font-size="8.45" text-anchor="middle" font-weight="bold" fill="#111" transform="rotate(-90 21 304)">ABR Tone 15 kHz</text>
<text x="31.2" y="304" font-size="9.1" text-anchor="middle" font-weight="normal" fill="#262626" transform="rotate(-90 31.2 304)" stroke="#262626" stroke-width="0.22">SPL (dB)</text>
<rect x="194" y="33" width="24" height="200" fill="#d3d3d3" stroke="none" stroke-width="1"/>
<line x1="193.9" y1="33" x2="193.9" y2="233.5" stroke="#a2a2a2" stroke-width="1.0"/>
<line x1="193.9" y1="233.5" x2="362.6" y2="233.5" stroke="#8a8a8a" stroke-width="1.0"/>
<line x1="194" y1="233" x2="194" y2="231.5" stroke="#6b6b6b" stroke-width="0.6"/>
<line x1="218.1" y1="233" x2="218.1" y2="231.5" stroke="#6b6b6b" stroke-width="0.6"/>
<line x1="242.1" y1="233" x2="242.1" y2="231.5" stroke="#6b6b6b" stroke-width="0.6"/>
<line x1="266.1" y1="233" x2="266.1" y2="231.5" stroke="#6b6b6b" stroke-width="0.6"/>
<line x1="290.2" y1="233" x2="290.2" y2="231.5" stroke="#6b6b6b" stroke-width="0.6"/>
<line x1="314.2" y1="233" x2="314.2" y2="231.5" stroke="#6b6b6b" stroke-width="0.6"/>
<line x1="338.3" y1="233" x2="338.3" y2="231.5" stroke="#6b6b6b" stroke-width="0.6"/>
<line x1="362.4" y1="233" x2="362.4" y2="231.5" stroke="#6b6b6b" stroke-width="0.6"/>
<line x1="218" y1="33" x2="218" y2="233" stroke="#888" stroke-width="0.6" stroke-dasharray="0.6 1.2"/>
<line x1="338.2" y1="33" x2="338.2" y2="233" stroke="#999" stroke-width="0.6" stroke-dasharray="0.6 1.2"/>
<text x="182.4" y="45.2" font-size="7.8" text-anchor="middle" font-weight="normal" fill="#262626" stroke="#262626" stroke-width="0.22">480</text>
<polyline points="194,42 194.5,41.9 195,42.3 195.5,42.5 196,42.7 196.5,42.6 197,43.1 197.5,43.5 198,43.3 198.5,43 199,42.1 199.5,42 200,42.3 200.5,41.8 201,41.1 201.5,41.7 202,42.1 202.5,42.1 203,42.9 203.5,42.6 204,41.2 204.5,41 205,42.4 205.5,43.1 206,42.6 206.5,41.6 207,42 207.5,42.5 208,41.6 208.5,41 209,41.3 209.5,41.2 210,40.4 210.5,40.1 211,40.2 211.5,40.9 212,41.1 212.5,40.9 213,40.8 213.5,41 214,41.8 214.5,43 215,44.5 215.5,45.8 216,46.1 216.5,45.4 217,44.8 217.5,45.3 218,45.7 218.5,44.7" fill="none" stroke="#c0143f" stroke-width="0.56" stroke-linejoin="round"/>
<polyline points="218,45.7 218.5,44.7 219,43.7 219.5,43.8 220,44.1 220.5,44.1 221,43.6 221.5,43.1 222,43.1 222.5,43.2 223,43.2 223.5,42.8 224,41.9 224.5,41.5 225,40.8 225.5,39.9 226,39.2 226.5,39.6 227,40.3 227.5,40.3 228,39.6 228.5,39 229,38.8 229.5,39.3 230,39.7 230.5,40 231,41 231.5,41.7 232,41.5 232.5,41.4 233,41.7 233.5,41.8 234,41.3 234.5,40.6 235,39.4 235.5,38.3 236,38.1 236.5,38.5 237,38.5 237.5,38.6 238,38.9 238.5,38.7 239,38 239.5,37.7 240,37.6 240.5,38.6 241,39.4 241.5,39.2 242,39.3 242.5,39.9 243,39.8 243.5,39.3 244,39 244.5,39.2 245,39.7 245.5,40.2 246,39.9 246.5,39.2 247,39 247.5,39.8 248,40.8 248.5,41 249,41.6 249.5,42.6 250,43.5 250.5,43.8 251,43.6 251.5,43 252,42.7 252.5,42.8 253,42.7 253.5,43.9 254,45.7 254.5,45.7 255,43.8 255.5,41.7 256,40.5 256.5,39.7 257,39.6 257.5,39.6 258,39.2 258.5,38.5 259,38.1 259.5,38.8 260,38.8 260.5,38.8 261,39.4 261.5,40.3 262,40.8 262.5,41.3 263,42 263.5,43 264,44.7 264.5,44.9 265,43.8 265.5,43.2 266,43.2 266.5,43.2 267,43.5 267.5,44.2 268,44.2 268.5,43.9 269,43.7 269.5,44.1 270,44.9 270.5,45.9 271,46.7 271.5,47 272,47 272.5,47.2 273,47.3 273.5,47.3 274,47.6 274.5,47.9 275,47.5 275.5,47.1 276,47.1 276.5,47 277,45.8 277.5,44.4 278,44.5 278.5,44.9 279,44.1 279.5,43.4 280,42.6 280.5,42 281,42.6 281.5,43.3 282,42.9 282.5,42.8 283,43.9 283.5,44.4 284,44.3 284.5,44.2 285,44.6 285.5,44.8 286,45.1 286.5,45 287,44.6 287.5,43.9 288,42.7 288.5,42 289,41.8 289.5,41.2 290,40.5 290.5,40.7 291,41.1 291.5,40.8 292,40.6 292.5,41.1 293,41.7 293.5,42 294,41.8 294.5,41.6 295,42.1 295.5,42.7 296,42.9 296.5,43.4 297,43.4 297.5,43.3 298,43.4 298.5,43.6 299,43.4 299.5,43.4 300,42.8 300.5,42 301,41.6 301.5,40.6 302,40 302.5,40.8 303,41.9 303.5,41.9 304,41.8 304.5,42.5 305,43.2 305.5,43.7 306,43.5 306.5,43.5 307,43.5 307.5,42.6 308,41.2 308.5,40.5 309,40.4 309.5,40.2 310,40.2 310.5,41.6 311,42.6 311.5,42.8 312,43.1 312.5,43.8 313,44.3 313.5,44.3 314,43.8 314.5,43.6 315,43.9 315.5,43.5 316,42.6 316.5,42.4 317,43 317.5,43.5 318,43.3 318.5,42.7 319,42.5 319.5,42.3 320,42.1 320.5,42.1 321,41.9 321.5,40.9 322,39.5 322.5,38.1 323,37.2 323.5,38.1 324,39.2 324.5,40.4 325,42.1 325.5,43.1 326,43.4 326.5,43.3 327,43.7 327.5,44 328,43.6 328.5,42.8 329,42.5 329.5,42.7 330,43.5 330.5,44.3 331,44.8 331.5,45.7 332,45.6 332.5,43.9 333,42.6 333.5,42.7 334,43.2 334.5,44 335,44.8 335.5,44.5 336,43.2 336.5,42.3 337,42.3 337.5,42.4 338,42.7 338.5,43.1 339,42.3" fill="none" stroke="#c0143f" stroke-width="0.56" stroke-linejoin="round"/>
<polyline points="339,42.3 339.5,40.9 340,40.8 340.5,41.2 341,41.3 341.5,40.5 342,41 342.5,41.6 343,41.3 343.5,41.3 344,41.5 344.5,41.3 345,40.7 345.5,40.9 346,41.7 346.5,42.9 347,43.6 347.5,43.6 348,44 348.5,45 349,45.2 349.5,44.5 350,43.9 350.5,44.1 351,44 351.5,43 352,42 352.5,42.2 353,42.9 353.5,42.7 354,42.2 354.5,42.4 355,42.3 355.5,41.8 356,41.2 356.5,41 357,41.5 357.5,42.2 358,43 358.5,42.9 359,42.6 359.5,43 360,43.6 360.5,44.3 361,44.4 361.5,44.4 362,44.8" fill="none" stroke="#c0143f" stroke-width="0.56" stroke-linejoin="round"/>
<text x="182.4" y="61.1" font-size="7.8" text-anchor="middle" font-weight="normal" fill="#262626" stroke="#262626" stroke-width="0.22">240</text>
<polyline points="194,58.2 194.5,58.9 195,59.2 195.5,59.4 196,59.8 196.5,60 197,59.7 197.5,59.7 198,59.7 198.5,59.8 199,60.1 199.5,60.6 200,61.2 200.5,61.2 201,60.2 201.5,59.2 202,58.9 202.5,58.6 203,57.8 203.5,57.1 204,57.5 204.5,57.9 205,57.8 205.5,57.4 206,57.7 206.5,58.5 207,59.4 207.5,59.5 208,59.4 208.5,58.7 209,57.9 209.5,57.7 210,57.9 210.5,58.1 211,58.2 211.5,57.9 212,57.9 212.5,58.5 213,58.8 213.5,58.2 214,57.7 214.5,58 215,57.8 215.5,57.1 216,56.9 216.5,56.6 217,56.6 217.5,57.2 218.5,57" fill="none" stroke="#c0143f" stroke-width="0.56" stroke-linejoin="round"/>
<polyline points="217.5,57.2 218.5,57 218.7,58 219,56.6 219.2,57.4 219.5,56.3 219.7,57.3 220,56.2 220.2,57.2 220.5,56.6 220.7,57.5 221,56.9 221.2,58.2 221.5,57.4 221.7,59 222,58.3 222.2,59.9 222.5,59 222.7,60.1 223,58.8 223.2,59.7 223.5,58.6 223.7,59.6 224,58.9 224.2,60.2 224.5,59.7 224.7,61.2 225,60.3 225.2,61 225.5,59.6 225.7,60.3 226,59.3 226.2,60.3 226.5,59.3 226.7,60.1 227,59.4 227.2,60.5 227.5,59.9 227.8,61.3 228,60.8 228.3,61.8 228.5,60.9 228.8,61.7 229,60.6 229.3,61 229.5,59.5 229.8,60.3 230,58.6 230.3,59.2 230.5,57.9 230.8,59 231,58 231.3,59.1 231.5,58.5 231.8,59.9 232,59.4 232.3,60.5 232.5,59.8 232.8,60.5 233,58.9 233.3,59.6 233.5,58.2 233.8,59 234,57.9 234.3,58.7 234.5,57.6 234.8,58.6 235,57.6 235.3,58.4 235.5,57.3 235.8,58.3 236,57.4 236.3,58.4 236.5,57.2 236.8,58.2 237,57.3 237.3,58.3 237.5,57.2 237.8,58.1 238,56.9 238.3,58 238.5,57.4 238.8,59.2 239,58.6 239.3,59.9 239.5,59.2 239.8,60.2 240,58.9 240.3,59.5 240.5,58.2 240.8,59.3 241,58.2 241.3,59.3 241.5,58.2 241.8,58.8 242,57.1 242.3,57.6 242.5,56.3 242.8,57 243,56 243.3,57.3 243.5,56.6 243.8,57.9 244,57.1 244.3,58 244.5,57 244.8,57.9 245,57.1 245.3,57.9 245.5,57.2 245.8,58.3 246,57.3 246.3,58.3 246.5,57.3 246.8,58.4 247,56.9 247.3,57.6 247.5,56.5 247.8,57.4 248,56.3 248.3,57.1 248.5,56.3 248.8,57.6 249,56.5 249.3,57.7 249.5,56.7 249.8,57.4 250,56.2 250.3,57.3 250.5,56.4 250.8,57.8 251,57.5 251.3,59 251.5,58.5 251.8,59.8 252.1,58.8 252.3,59.5 252.6,58.2 252.8,59 253.1,57.6 253.3,58.1 253.6,56.8 253.8,57.6 254.1,56.6 254.3,57.7 254.6,57.1 254.8,58.5 255.1,57.8 255.3,58.8 255.6,57.7 255.8,58.5 256.1,57.5 256.3,58.3 256.6,57.1 256.8,57.7 257.1,56.4 257.3,57 257.6,56 257.8,57.3 258.1,56.6 258.3,58.1 258.6,57.5 258.8,59 259.1,58.5 259.3,60 259.6,59.5 259.8,60.9 260.1,59.8 260.3,60.5 260.6,59 260.8,59.4 261.1,57.8 261.3,58.4 261.6,57.6 261.8,58.8 262.1,57.8 262.3,58.9 262.6,58 262.8,59 263.1,57.9 263.3,59.2 263.6,58.5 263.8,59.5 264.1,58.6 264.3,59.5 264.6,58.3 264.8,59.2 265.1,58.1 265.3,59.1 265.6,58.5 265.8,59.8 266.1,59.3 266.3,60.6 266.6,60.1 266.8,61.3 267.1,60.5 267.3,61.7 267.6,60.6 267.8,61.5 268.1,60.5 268.3,61.6 268.6,60.4 268.8,61.3 269.1,60.2 269.3,61.3 269.6,60.2 269.8,61.1 270.1,60 270.3,60.6 270.6,59.1 270.8,59.7 271.1,58 271.3,58.6 271.6,57.3 271.8,58.1 272.1,57 272.3,57.7 272.6,56.4 272.8,56.9 273.1,55.7 273.3,56.4 273.6,55.5 273.8,56.6 274.1,55.9 274.3,57 274.6,56.2 274.8,57.4 275.1,56.5 275.3,57.7 275.6,57 275.9,58.3 276.1,57.8 276.4,59.2 276.6,58.5 276.9,59.6 277.1,58.3 277.4,59.1 277.6,57.6 277.9,58.2 278.1,57.1 278.4,58.6 278.6,57.8 278.9,59.2 279.1,58.6 279.4,59.7 279.6,58.9 279.9,60 280.1,59.1 280.4,59.9 280.6,58.8 280.9,59.7 281.1,58.7 281.4,59.6 281.6,58.7 281.9,59.8 282.1,58.7 282.4,59.2 282.6,57.7 282.9,58.2 283.1,57.3 283.4,58.4 283.6,57.6 283.9,59 284.1,58.2 284.4,59 284.6,58 284.9,59.3 285.1,58.6 285.4,59.5 285.6,58.9 285.9,60.1 286.1,59.4 286.4,60.8 286.6,60.3 286.9,61.6 287.1,61 287.4,62.2 287.6,61.3 287.9,62.3 288.1,61.2 288.4,62 288.6,60.7 288.9,62 289.1,61 289.4,62.3 289.6,61.2 289.9,61.7 290.1,60.1 290.4,60.4 290.6,59.1 290.9,59.8 291.1,58.7 291.4,59.6 291.6,58.4 291.9,59.2 292.1,58 292.4,58.7 292.6,57.1 292.9,57.6 293.1,56.3 293.4,57.1 293.6,56 293.9,56.9 294.1,55.8 294.4,57.1 294.6,55.9 294.9,57 295.1,56.1 295.4,56.9 295.6,55.6 295.9,56.3 296.1,54.9 296.4,55.8 296.6,54.8 296.9,56 297.1,54.9 297.4,56 297.6,54.7 297.9,55.2 298.1,53.9 298.4,54.6 298.6,53.6 298.9,54.2 299.1,53.1 299.4,54.1 299.6,53.1 299.9,54.2 300.2,53.3 300.4,54.2 300.7,53.1 300.9,53.7 301.2,52.9 301.4,54.1 301.7,53.6 301.9,55 302.2,54.4 302.4,55.8 302.7,55 302.9,56.1 303.2,55 303.4,56.3 303.7,55.2 303.9,55.9 304.2,54.8 304.4,55.8 304.7,55.2 304.9,56.5 305.2,55.9 305.4,57.5 305.7,56.7 305.9,58.2 306.2,57.6 306.4,58.8 306.7,58.1 306.9,59.3 307.2,58.3 307.4,59.3 307.7,58.3 307.9,59.5 308.2,58.4 308.4,59.8 308.7,58.7 308.9,59.5 309.2,58.5 309.4,59 309.7,57.7 309.9,58.4 310.2,57.4 310.4,58.1 310.7,56.8 310.9,57.6 311.2,56.3 311.4,57 311.7,55.8 311.9,56.8 312.2,55.7 312.4,56.7 312.7,55.9 312.9,56.9 313.2,55.9 313.4,57.3 313.7,56.7 313.9,58 314.2,57.2 314.4,58.3 314.7,57.2 314.9,58.3 315.2,57.8 315.4,58.9 315.7,58.1 315.9,58.9 316.2,57.6 316.4,58.1 316.7,56.9 316.9,57.6 317.2,56.5 317.4,57.5 317.7,56.7 317.9,57.7 318.2,57.2 318.4,58.4 318.7,57.5 318.9,58.4 319.2,57.3 319.4,58.5 319.7,57.5 319.9,59 320.2,58.2 320.4,59.4 320.7,58.4 320.9,59.5 321.2,58.4 321.4,59.6 321.7,59 321.9,59.9 322.2,58.8 322.4,59.6 322.7,58.4 322.9,59.4 323.2,58.5 323.4,59.9 323.7,59.1 324,60.1 324.2,59.2 324.5,59.9 324.7,58.2 325,58.9 325.2,57.7 325.5,58.4 325.7,57.4 326,58.6 326.2,57.3 326.5,58.2 326.7,57.1 327,57.9 327.2,57.1 327.5,58.3 327.7,57.7 328,59.4 328.2,58.8 328.5,59.9 328.7,59.3 329,60.4 329.2,59.6 329.5,60.8 329.7,60.2 330,61.6 330.2,60.6 330.5,61.5 330.7,60.4 331,61.3 331.2,60.3 331.5,61.3 331.7,60.3 332,61.4 332.2,60.5 332.5,61.3 332.7,59.9 333,60.5 333.2,58.8 333.5,59.2 333.7,57.9 334,58.7 334.2,57.8 334.5,59 334.7,58 335,58.8 335.2,57.7 335.5,58.4 335.7,57.3 336,58 336.2,57.1 336.5,58.2 336.7,57.4 337,58.8 337.2,58 337.5,58.9 337.7,58 338,58.5 338.2,57 339,55.9" fill="none" stroke="#b8284a" stroke-width="0.6" stroke-linejoin="round"/>
<polyline points="339,55.9 339.5,56.3 340,57 340.5,57.1 341,56.2 341.5,55.4 342,55.7 342.5,57 343,57.4 343.5,57 344,56.7 344.5,56.9 345,57 345.5,57.1 346,57.1 346.5,56.8 347,57.2 347.5,57.9 348,57.6 348.5,56.6 349,56.6 349.5,57.2 350,57.2 350.5,57.3 351,57.7 351.5,58.1 352,57.9 352.5,57.9 353,57.8 353.5,57.4 354,57.3 354.5,57.3 355,57.6 355.5,58.4 356,59.3 356.5,60.1 357,60.2 357.5,60 358,60 358.5,59.6 359,59.3 359.5,59.8 360,60.6 360.5,60.2 361,59.6 361.5,59.5 362,59.7" fill="none" stroke="#c0143f" stroke-width="0.56" stroke-linejoin="round"/>
<text x="182.4" y="77.1" font-size="7.8" text-anchor="middle" font-weight="normal" fill="#262626" stroke="#262626" stroke-width="0.22">180</text>
<polyline points="194,75.2 194.5,75.3 195,75.7 195.5,76.2 196,75.9 196.5,75.6 197,76 197.5,76.6 198,76.4 198.5,76.8 199,77.5 199.5,77.8 200,77.2 200.5,76.5 201,76.2 201.5,76 202,75.4 202.5,74.8 203,74.6 203.5,74.4 204,74.5 204.5,74.8 205,74.9 205.5,75.2 206,75.4 206.5,75.4 207,75.6 207.5,75.9 208,75.9 208.5,75.8 209,75.3 209.5,74.7 210,74.6 210.5,74.9 211,75.1 211.5,75.2 212,75.6 212.5,75.7 213,75.7 213.5,75.5 214,75.3 214.5,75.4 215,75.4 215.5,75.2 216,74.5 216.5,73.7 217,73.5 217.5,73.6 218.5,72.6" fill="none" stroke="#c0143f" stroke-width="0.56" stroke-linejoin="round"/>
<polyline points="217.5,73.6 218.5,72.6 218.8,74.5 219.1,72.4 219.5,74.6 219.8,72.3 220.2,74.5 220.5,72.6 220.8,75.2 221.2,73.1 221.5,74.9 221.8,72.4 222.2,74.7 222.5,72.9 222.8,74.9 223.2,73.1 223.5,75 223.8,73.2 224.2,75 224.5,72.8 224.8,75.3 225.2,73.4 225.5,76 225.8,73.7 226.2,76.1 226.5,74 226.8,76.2 227.2,73.6 227.5,76.5 227.8,73.6 228.2,75.8 228.5,73.1 228.8,75.2 229.2,72.7 229.5,75 229.8,72.7 230.2,75.1 230.5,72.8 230.8,74.7 231.2,72.5 231.5,74.2 231.8,72.1 232.2,74.4 232.5,72.7 232.8,75.7 233.2,74.4 233.5,77.1 233.8,75.7 234.2,77.7 234.5,75.4 234.8,77.1 235.2,74.7 235.5,76.8 235.9,74.6 236.2,76.9 236.5,74.5 236.9,76.5 237.2,74.8 237.5,76.6 237.9,74.6 238.2,76.3 238.5,74.2 238.9,76.1 239.2,74 239.5,76.8 239.9,74.7 240.2,77.5 240.5,75.2 240.9,77.7 241.2,75.9 241.5,78 241.9,75.1 242.2,76.8 242.5,74.2 242.9,75.9 243.2,74 243.5,76.1 243.9,74.3 244.2,75.9 244.5,73.2 244.9,75.9 245.2,73.5 245.5,75.8 245.9,73.6 246.2,76.2 246.5,73.9 246.9,76.1 247.2,74.3 247.5,76.8 247.9,74.1 248.2,76.7 248.5,75.1 248.9,77 249.2,74.5 249.5,76.3 249.9,73.8 250.2,76.1 250.5,73.9 250.9,75.3 251.2,72.9 251.5,74.6 251.9,72.4 252.2,74.1 252.6,71.9 252.9,73.4 253.2,71.2 253.6,73.1 253.9,71 254.2,73.6 254.6,71 254.9,72.9 255.2,70.6 255.6,73.5 255.9,71.5 256.2,74.2 256.6,71.7 256.9,74.2 257.2,71.9 257.6,74.4 257.9,72.3 258.2,74.1 258.6,71.9 258.9,74.2 259.2,72.3 259.6,74.7 259.9,72.5 260.2,74.6 260.6,72.6 260.9,74.5 261.2,71.7 261.6,73.8 261.9,71.6 262.2,74 262.6,71.9 262.9,73.9 263.2,72.2 263.6,74.3 263.9,72.2 264.2,74.9 264.6,73.3 264.9,75.3 265.2,73.7 265.6,76.3 265.9,75 266.2,76.6 266.6,74.6 266.9,76.6 267.2,74 267.6,76 267.9,73.4 268.3,75.3 268.6,73.4 268.9,75.8 269.3,73.5 269.6,75.4 269.9,72.8 270.3,74.6 270.6,72.1 270.9,73.8 271.3,72.1 271.6,74.3 271.9,72.3 272.3,74.2 272.6,72 272.9,73.8 273.3,71.8 273.6,73.4 273.9,70.8 274.3,73.1 274.6,70.8 274.9,73.7 275.3,71.9 275.6,74.2 275.9,71.7 276.3,73.9 276.6,71.7 276.9,74.4 277.3,72.2 277.6,74.9 277.9,72.6 278.3,75 278.6,73.4 278.9,76 279.3,74.6 279.6,76.9 279.9,74.4 280.3,76.1 280.6,73.2 280.9,75.6 281.3,72.9 281.6,75.1 281.9,73 282.3,74.9 282.6,72.7 282.9,74.9 283.3,73.1 283.6,75.4 284,73.6 284.3,75.7 284.6,73.7 285,75.3 285.3,72.9 285.6,74.5 286,72.2 286.3,75.2 286.6,72.5 287,75.1 287.3,73 287.6,75 288,72.6 288.3,74.7 288.6,72 289,74.4 289.3,72.2 289.6,74.8 290,72.6 290.3,74.9 290.6,72.7 291,75.4 291.3,73.5 291.6,75.3 292,73.1 292.3,74.9 292.6,72.8 293,74.6 293.3,72.7 293.6,75.3 294,73.4 294.3,75.8 294.6,74.2 295,76.8 295.3,74.1 295.6,76.3 296,73.7 296.3,75.9 296.6,72.6 297,74.5 297.3,72.6 297.6,74.9 298,72.9 298.3,74.6 298.6,72.3 299,74.2 299.3,72.5 299.6,75.3 300,73.8 300.3,75.8 300.7,74.2 301,76.6 301.3,74.5 301.7,77.1 302,75.7 302.3,77.2 302.7,75 303,76.9 303.3,74.8 303.7,76.5 304,74.2 304.3,76.6 304.7,73.7 305,75.5 305.3,73.1 305.7,75.2 306,72.7 306.3,74.7 306.7,72.5 307,74.9 307.3,72.2 307.7,74.4 308,71.9 308.3,74.6 308.7,72.8 309,74.9 309.3,73.2 309.7,75.1 310,72.4 310.3,74.7 310.7,72.3 311,74.4 311.3,72.3 311.7,74.7 312,72.2 312.3,73.9 312.7,70.9 313,73 313.3,70.4 313.7,71.9 314,69.7 314.3,72.3 314.7,70.3 315,72.6 315.3,70.9 315.7,73.1 316,71.2 316.4,73.8 316.7,71.9 317,74.3 317.4,71.9 317.7,74.3 318,72 318.4,74 318.7,71.5 319,73.7 319.4,71.6 319.7,73.7 320,71.7 320.4,74 320.7,72.4 321,74.3 321.4,72.1 321.7,74 322,71.6 322.4,73.1 322.7,71.3 323,74 323.4,72.4 323.7,75 324,73.1 324.4,75.4 324.7,73.4 325,76.1 325.4,73.7 325.7,75.6 326,74.2 326.4,76 326.7,74.6 327,76.9 327.4,74.7 327.7,77.3 328,74.7 328.4,76.5 328.7,74 329,76.3 329.4,73.9 329.7,76 330,73.4 330.4,75.3 330.7,72.9 331,75.1 331.4,73.4 331.7,75.6 332.1,73.4 332.4,75.6 332.7,73.5 333.1,75.5 333.4,72.9 333.7,74.7 334.1,72 334.4,74.9 334.7,73.1 335.1,76.5 335.4,74.9 335.7,77.3 336.1,75.2 336.4,77.6 336.7,74.7 337.1,76.8 337.4,74.2 337.7,76.5 338.1,74.7 339,74.3" fill="none" stroke="#b8284a" stroke-width="0.6" stroke-linejoin="round"/>
<polyline points="339,74.3 339.5,73.5 340,73.4 340.5,73.5 341,72.9 341.5,72.6 342,73.1 342.5,73.9 343,74 343.5,73.9 344,73.8 344.5,73.9 345,74.1 345.5,74.1 346,74.3 346.5,74.6 347,74.7 347.5,75.2 348,75.5 348.5,75.4 349,75 349.5,74.4 350,74 350.5,74.3 351,74.6 351.5,75.1 352,75.3 352.5,75 353,74.2 353.5,74 354,74.1 354.5,74.1 355,73.9 355.5,73.3 356,72.6 356.5,72.4 357,72.3 357.5,71.7 358,71.4 358.5,71.7 359,72.4 359.5,72.6 360,73.1 360.5,73.8 361,74.1 361.5,74.2 362,74.2" fill="none" stroke="#c0143f" stroke-width="0.56" stroke-linejoin="round"/>
<text x="182.4" y="93" font-size="7.8" text-anchor="middle" font-weight="normal" fill="#262626" stroke="#262626" stroke-width="0.22">130</text>
<polyline points="194,90.3 194.5,90.5 195,91.1 195.5,91.8 196,91.7 196.5,91 197,90.9 197.5,91.8 198,92.6 198.5,92.4 199,91.4 199.5,90.3 200,89.5 200.5,88.9 201,88.6 201.5,88.5 202,88.3 202.5,88.3 203,88.9 203.5,89.4 204,89.7 204.5,89.6 205,89.2 205.5,88.7 206,88.4 206.5,88.7 207,89.3 207.5,89.3 208,89.1 208.5,89.2 209,89.1 209.5,89.4 210,90.2 210.5,90.6 211,90.6 211.5,90.6 212,90.5 212.5,89.9 213,89.5 213.5,89.6 214,90.1 214.5,90.7 215,90.9 215.5,90.9 216,91 216.5,90.9 217,90.2 217.5,89.9 218.5,89.7" fill="none" stroke="#c0143f" stroke-width="0.56" stroke-linejoin="round"/>
<polyline points="217.5,89.9 218.5,89.7 218.9,94.2 219.4,90.1 219.9,93.7 220.3,89.9 220.8,93.9 221.3,89.5 221.7,93.6 222.2,89.4 222.6,93.6 223.1,89.5 223.6,93.4 224,88.9 224.5,92.1 225,88.1 225.4,91.8 225.9,87.8 226.3,92 226.8,88.2 227.3,91.7 227.7,87.7 228.2,93 228.7,89 229.1,93 229.6,88.7 230,92.7 230.5,88.5 231,92.2 231.4,88.3 231.9,92.5 232.4,88.5 232.8,92.5 233.3,87.7 233.7,92.2 234.2,88.4 234.7,91.8 235.1,87.5 235.6,91 236.1,86.3 236.5,90.9 237,88.1 237.4,92.4 237.9,88.3 238.4,92.7 238.8,89.3 239.3,93.4 239.8,90.2 240.2,93.2 240.7,88.7 241.1,92.6 241.6,88.9 242.1,92 242.5,87.2 243,92.6 243.5,89.2 243.9,93.9 244.4,91.3 244.8,94.3 245.3,90.3 245.8,94.4 246.2,88.7 246.7,92.2 247.2,87.6 247.6,92.3 248.1,87.5 248.5,91.4 249,86.9 249.5,91.5 249.9,88.4 250.4,91.8 250.9,86.9 251.3,90.4 251.8,87.7 252.2,92.2 252.7,89.3 253.2,92.9 253.6,88.2 254.1,92.4 254.6,87.7 255,91.6 255.5,88 255.9,92.5 256.4,88.3 256.9,92.5 257.3,88.6 257.8,93.3 258.3,88.8 258.7,92.7 259.2,87.6 259.6,90.8 260.1,86.5 260.6,90.7 261,85.7 261.5,89.9 262,84.9 262.4,88.1 262.9,83.4 263.3,89.2 263.8,85.8 264.3,90.4 264.7,86.7 265.2,90.1 265.7,86.2 266.1,90.7 266.6,87.6 267,91.4 267.5,87.6 268,91.4 268.4,86.8 268.9,90 269.4,86.9 269.8,90.4 270.3,85.6 270.7,90.9 271.2,86.8 271.7,90.5 272.1,87.2 272.6,90.9 273.1,87.8 273.5,92.1 274,87.9 274.4,91.7 274.9,88.3 275.4,93.1 275.8,89.1 276.3,92.5 276.8,88.8 277.2,92.5 277.7,88.3 278.1,92.9 278.6,88.3 279.1,91.2 279.5,86.8 280,90.9 280.5,86.4 280.9,90 281.4,85.9 281.8,90.1 282.3,85.7 282.8,88.4 283.2,84.1 283.7,88.6 284.2,85.4 284.6,90.5 285.1,85.9 285.5,89.9 286,87.1 286.5,91.6 286.9,88.1 287.4,92.2 287.9,88.5 288.3,92.2 288.8,89.1 289.2,93.4 289.7,89 290.2,92.2 290.6,87.5 291.1,91.9 291.6,88.4 292,91.9 292.5,87.8 292.9,91 293.4,86.1 293.9,90.9 294.3,86.8 294.8,90.6 295.3,87.8 295.7,91.1 296.2,87.5 296.6,91.3 297.1,88.3 297.6,92.7 298,88.3 298.5,92.6 299,87.9 299.4,92.7 299.9,89.4 300.3,93.8 300.8,90.1 301.3,94.3 301.7,89.2 302.2,92.9 302.7,88.9 303.1,93.5 303.6,87.7 304,92.2 304.5,87.1 305,91.6 305.4,87.2 305.9,92 306.4,88.2 306.8,91.9 307.3,87.6 307.7,91.2 308.2,86.9 308.7,90.8 309.1,86.5 309.6,90.5 310.1,86.2 310.5,90 311,85.8 311.4,89.7 311.9,85.2 312.4,90 312.8,84.9 313.3,89.8 313.8,85.8 314.2,90.7 314.7,87.2 315.1,91.5 315.6,87.2 316.1,90.7 316.5,86.8 317,90.5 317.5,87.1 317.9,91.9 318.4,88.1 318.8,91.7 319.3,87.6 319.8,91.1 320.2,88.1 320.7,92 321.2,88.1 321.6,92.7 322.1,89 322.5,91.8 323,88 323.5,92.7 323.9,89.2 324.4,93.7 324.9,88.6 325.3,93.9 325.8,89.8 326.2,93.6 326.7,88.3 327.2,92.1 327.6,88.5 328.1,92.3 328.6,88.2 329,93.4 329.5,89 329.9,93 330.4,88.3 330.9,92.3 331.3,88.1 331.8,92.1 332.3,87.4 332.7,91.2 333.2,87.4 333.6,91.6 334.1,87.8 334.6,91.5 335,87.8 335.5,92.8 336,89.6 336.4,91.5 336.9,87.8 337.3,90.6 337.8,86.6 339,88.5" fill="none" stroke="#b8284a" stroke-width="0.45" stroke-linejoin="round"/>
<polyline points="339,88.5 339.5,89.2 340,88.9 340.5,88.1 341,87.8 341.5,87.9 342,87.9 342.5,88.3 343,89 343.5,89.6 344,89.1 344.5,88 345,87.5 345.5,88 346,88.8 346.5,89.1 347,89.6 347.5,89.8 348,89.8 348.5,90.1 349,90.6 349.5,90.5 350,90.5 350.5,90.1 351,89.7 351.5,89.3 352,88.5 352.5,87.9 353,87.6 353.5,87.8 354,87.8 354.5,87.4 355,87.3 355.5,87.6 356,87.5 356.5,86.9 357,87 357.5,87.4 358,87.7 358.5,88 359,88 359.5,88.2 360,88.8 360.5,89 361,88.9 361.5,89 362,89.6" fill="none" stroke="#c0143f" stroke-width="0.56" stroke-linejoin="round"/>
<text x="182.4" y="109" font-size="7.8" text-anchor="middle" font-weight="normal" fill="#262626" stroke="#262626" stroke-width="0.22">90</text>
<polyline points="194,104.8 194.5,104.9 195,105.3 195.5,105.4 196,105.4 196.5,105.5 197,105.4 197.5,105.6 198,105.5 198.5,105.3 199,105.4 199.5,105.7 200,105.5 200.5,105 201,105 201.5,104.8 202,104.7 202.5,105.6 203,106.6 203.5,106.4 204,106.1 204.5,106.2 205,106.3 205.5,106.4 206,106.8 206.5,107.2 207,107.6 207.5,106.7 208,104.9 208.5,103.8 209,104 209.5,104.4 210,104.6 210.5,104.4 211,104.4 211.5,104.7 212,105.1 212.5,105.4 213,105.3 213.5,105 214,105.5 214.5,106.3 215,106.9 215.5,107 216,107.1 216.5,107.2 217,107.4 217.5,107.5 218.5,104.9" fill="none" stroke="#c0143f" stroke-width="0.56" stroke-linejoin="round"/>
<polyline points="217.5,107.5 218.5,104.9 219.1,111.2 219.8,104.6 220.5,110.1 221.2,103.5 221.8,110.1 222.5,103.8 223.2,109.3 223.8,101.5 224.5,107.6 225.2,100.9 225.8,106.7 226.5,101.1 227.2,108 227.8,100.8 228.5,107.7 229.2,101 229.8,107.7 230.5,102.3 231.2,109.2 231.8,103.5 232.5,110.9 233.2,104.5 233.8,110.6 234.5,104.3 235.2,109.8 235.9,102 236.5,107.7 237.2,102.8 237.9,107.6 238.5,103.1 239.2,108.1 239.9,101.7 240.5,108.7 241.2,101.9 241.9,107.7 242.5,101.1 243.2,108.9 243.9,101.5 244.5,108.4 245.2,103.6 245.9,109.3 246.5,104.4 247.2,110.2 247.9,104.5 248.5,110.1 249.2,103.6 249.9,109 250.5,102.2 251.2,106.7 251.9,100.5 252.6,108.3 253.2,101 253.9,107.6 254.6,102.1 255.2,109.9 255.9,104 256.6,108.8 257.2,104.3 257.9,112 258.6,106.2 259.2,112.5 259.9,104.3 260.6,109.5 261.2,102.7 261.9,109.8 262.6,104.1 263.2,109.5 263.9,104.6 264.6,109.6 265.2,103.7 265.9,108.7 266.6,103.5 267.2,107.9 267.9,101.7 268.6,107.8 269.3,102.5 269.9,106.5 270.6,100 271.3,107.2 271.9,101.6 272.6,108.4 273.3,101.1 273.9,107.6 274.6,101.8 275.3,108.3 275.9,101.6 276.6,108.6 277.3,102.9 277.9,109.1 278.6,102.4 279.3,108.5 279.9,102.3 280.6,109.4 281.3,102.9 281.9,108.8 282.6,102.5 283.3,109.1 284,104.5 284.6,110.1 285.3,103.9 286,110.6 286.6,105 287.3,111.2 288,104.2 288.6,109.6 289.3,103.3 290,109.1 290.6,102.4 291.3,108 292,102.5 292.6,108.6 293.3,101.1 294,105.5 294.6,100.6 295.3,108.9 296,102 296.6,107 297.3,101.1 298,108.8 298.6,102.2 299.3,107.9 300,102.5 300.7,109.4 301.3,103.1 302,110.2 302.7,103.6 303.3,109.6 304,106.7 304.7,112 305.3,104.8 306,110.7 306.7,104.3 307.3,109.5 308,103.2 308.7,109.3 309.3,104 310,109.6 310.7,103.8 311.3,109.7 312,103.5 312.7,110.6 313.3,104.7 314,110 314.7,103.2 315.3,109.6 316,102.7 316.7,109.4 317.4,102.5 318,108.1 318.7,102.6 319.4,109.1 320,103.4 320.7,108.4 321.4,103.7 322,109.1 322.7,103.2 323.4,110 324,103.8 324.7,109.7 325.4,104.7 326,110.9 326.7,104.7 327.4,111.4 328,105 328.7,111.3 329.4,105.2 330,111.3 330.7,104.9 331.4,110 332.1,104.5 332.7,110.7 333.4,104.4 334.1,109.5 334.7,102.9 335.4,108.6 336.1,103.3 336.7,108.6 337.4,103.1 338.1,110 339,107.9" fill="none" stroke="#b8284a" stroke-width="0.28" stroke-linejoin="round"/>
<polyline points="339,107.9 339.5,108.8 340,109.2 340.5,109 341,108.2 341.5,107.3 342,106.9 342.5,107.3 343,107.4 343.5,106.8 344,105.7 344.5,104.8 345,104.1 345.5,104.3 346,105.1 346.5,105.7 347,105.5 347.5,105.2 348,104.8 348.5,105.3 349,106 349.5,106.7 350,107.3 350.5,108.3 351,108.5 351.5,107.2 352,106.1 352.5,106.2 353,107.1 353.5,107.1 354,106.7 354.5,106.2 355,106.1 355.5,105.7 356,105.3 356.5,105.2 357,105.6 357.5,105.6 358,105.2 358.5,104.8 359,104.1 359.5,103.4 360,102.7 360.5,102.1 361,101.5 361.5,101.4 362,101.7" fill="none" stroke="#c0143f" stroke-width="0.56" stroke-linejoin="round"/>
<text x="182.4" y="125" font-size="7.8" text-anchor="middle" font-weight="normal" fill="#262626" stroke="#262626" stroke-width="0.22">60</text>
<polyline points="194,121.7 194.5,121.6 195,121.2 195.5,120.9 196,120.5 196.5,120.8 197,121.8 197.5,123.1 198,123.9 198.5,124.3 199,124.1 199.5,124.3 200,125.2 200.5,126.2 201,126.5 201.5,126 202,125.5 202.5,125.8 203,126.2 203.5,125.2 204,123.2 204.5,121.6 205,121.5 205.5,121.7 206,121.5 206.5,121.1 207,121.2 207.5,121.7 208,121.5 208.5,120.6 209,120.2 209.5,121.1 210,122.1 210.5,121.8 211,121.4 211.5,121.6 212,121.4 212.5,120.5 213,119.7 213.5,119.2 214,119.6 214.5,120.4 215,120.6 215.5,120.5 216,120.6 216.5,121.1 217,121.6 217.5,122 218,121.9 218.5,116" fill="none" stroke="#c0143f" stroke-width="0.56" stroke-linejoin="round"/>
<polyline points="218,121.9 218.5,116 218.5,116.5 218.8,121 219,121.7 219.5,122 220,122.4 220.5,119.5 220.5,119.7 220.8,123.1 221,123.7 221.5,124.5 222,124.5 222.5,120 222.5,120.3 222.9,123.6 223,124 223.5,123.2 224,121.6 224.5,116.8 224.5,116.9 224.9,120.1 225,120.6 225.5,120.7 226,120.3 226.5,115.8 226.5,115.8 226.9,119.3 227,119.8 227.5,120 228,119.8 228.5,114.4 228.5,114.4 228.9,119.4 229,120.3 229.5,121.5 230,121.7 230.5,119.6 230.5,119.6 230.9,121.7 231,122.1 231.5,122.6 232,122.6 232.5,116.1 232.5,116.1 232.9,120.2 233,120.7 233.5,121.6 234,121.7 234.5,115.1 234.5,115.1 234.9,119 235,119.5 235.5,120.3 236,120.3 236.5,115.3 236.5,115.3 236.9,119.2 237,119.8 237.5,121.3 238,122 238.5,117.4 238.5,117.4 238.9,121.2 239,121.7 239.5,122.6 240,122.9 240.5,118.4 240.5,118.3 240.9,122 241,122.5 241.5,123.1 242,122.5 242.5,116.5 242.5,116.4 242.9,121 243,121.6 243.5,122.8 244,122.9 244.5,117.5 244.5,117.4 244.9,121.2 245,121.7 245.5,122.4 246,122.4 246.5,118.4 246.5,118.3 246.9,121.5 247,121.8 247.5,122.1 248,121.2 248.5,115.6 248.5,115.5 248.9,119.7 249,120.3 249.5,121.6 250,121.3 250.5,114.4 250.5,114.1 250.9,118.7 251,119.2 251.5,120.4 252,120.1 252.5,114.7 252.6,114.6 252.9,119.1 253,119.7 253.5,121.3 254,121.4 254.5,116.2 254.6,116 254.9,119.6 255,120 255.5,120.1 256,119.7 256.5,114.5 256.6,114.3 256.9,118.2 257,118.6 257.5,119.7 258,120.3 258.5,116.4 258.6,116.2 258.9,119.6 259,119.9 259.5,120.6 260,120.8 260.5,116.8 260.6,116.6 260.9,120.4 261,120.8 261.5,122.4 262,122.9 262.5,120.1 262.6,119.9 262.9,121.5 263,121.6 263.5,121.7 264,122.2 264.5,117.8 264.6,117.5 264.9,121.1 265,121.4 265.5,122.5 266,122.4 266.5,115.9 266.6,115.3 266.9,119.6 267,119.9 267.5,121.2 268,121.9 268.5,118 268.6,117.7 268.9,121.5 269,121.8 269.5,122.8 270,122.5 270.5,118.3 270.6,117.9 271,121.1 271,121.3 271.5,122.4 272,122.4 272.5,116.9 272.6,116.4 273,121.4 273,121.7 273.5,122.6 274,122.4 274.5,117.5 274.6,117.1 275,121.3 275,121.6 275.5,122.6 276,122.3 276.5,117.1 276.6,116.3 277,119.7 277,119.8 277.5,120.7 278,121.1 278.5,115.8 278.6,115 279,119 279,119.1 279.5,120.1 280,120.2 280.5,114.4 280.6,113.7 281,118.2 281,118.4 281.5,120 282,119.8 282.5,114.8 282.6,114.2 283,118.3 283,118.5 283.5,120.5 284,121.8 284.5,119.2 284.6,118.8 285,122 285,122.1 285.5,122.9 286,123.2 286.5,117.9 286.6,117.1 287,123.3 287,123.5 287.5,124.8 288,123.8 288.5,118.3 288.6,117.2 289,120.7 289,120.7 289.5,121.5 290,121.7 290.5,117.5 290.6,116.6 291,119.4 291,119.5 291.5,120.5 292,120.6 292.5,115.5 292.6,114.4 293,118.4 293,118.4 293.5,120.2 294,120.8 294.5,115.6 294.6,114.4 295,119.5 295,119.5 295.5,121.4 296,121.8 296.5,118.6 296.6,117.7 297,119.5 297,119.5 297.5,119.6 298,119.4 298.5,114 298.6,112.6 299,117.9 299,117.9 299.5,119.5 300,119.2 300.5,115.1 300.7,114.1 301,118.2 301,118.3 301.5,119.9 302,120 302.5,113.9 302.7,111.9 303,117.3 303,117.4 303.5,119 304,119.5 304.5,115.2 304.7,114 305,119 305,119.2 305.5,122 306,123 306.5,119.5 306.7,118.3 307,122.2 307,122.4 307.5,124 308,124.2 308.5,118.5 308.7,116.5 309,121 309,121.2 309.5,122.5 310,122.4 310.5,117 310.7,114.9 311,119.4 311,119.6 311.5,120.7 312,120.4 312.5,116.2 312.7,114.5 313,117.5 313,117.7 313.5,119.1 314,120 314.5,116.1 314.7,114.4 315,118.3 315,118.6 315.5,120.1 316,120.7 316.5,117.5 316.7,115.9 317,118.7 317,118.8 317.5,119.3 318,119.9 318.5,116.2 318.7,114.3 319,119.1 319.1,119.5 319.5,121.4 320,121.9 320.5,119.3 320.7,118.1 321,120.6 321.1,120.9 321.5,122 322,121.7 322.5,117.1 322.7,114.9 323,117.6 323.1,117.8 323.5,118.4 324,118.8 324.5,117.5 324.7,116.7 325,118.3 325.1,118.3 325.5,118.2 326,118.1 326.5,114.8 326.7,112.6 327,116.5 327.1,117 327.5,118.5 328,119.2 328.5,118.2 328.7,117.5 329,119.4 329.1,119.7 329.5,120.1 330,120.7 330.5,118.9 330.7,117.4 331,120 331.1,120.3 331.5,120.5 332,119.8 332.5,116.6 332.7,114.6 333,118.6 333.1,119.2 333.5,120.8 334,121.1 334.5,118.3 334.7,116.3 335,119.6 335.1,120.1 335.5,121.3 336,121.5 336.5,118.5 336.7,116.5 337,119.7 337.1,120.2 337.5,121.2 338,121.4 338.5,121.5 339,121.9" fill="none" stroke="#c0143f" stroke-width="0.42" stroke-linejoin="round"/>
<polyline points="339,121.9 339.5,122.5 340,123 340.5,122.9 341,122 341.5,121.7 342,122.2 342.5,122.8 343,122.7 343.5,121.7 344,121.3 344.5,121.7 345,122.2 345.5,121.4 346,121 346.5,121.6 347,122.1 347.5,121.8 348,120.7 348.5,119.3 349,118.4 349.5,118.1 350,118.4 350.5,119.3 351,119.6 351.5,119 352,118.6 352.5,118.7 353,118.3 353.5,118.3 354,119.1 354.5,119.9 355,119.5 355.5,118.4 356,117.7 356.5,118 357,118.7 357.5,119.5 358,119.4 358.5,119.1 359,119.1 359.5,118.8 360,119.2 360.5,120.6 361,121.8 361.5,122.1 362,122.5" fill="none" stroke="#c0143f" stroke-width="0.56" stroke-linejoin="round"/>
<text x="182.4" y="140.9" font-size="7.8" text-anchor="middle" font-weight="normal" fill="#262626" stroke="#262626" stroke-width="0.22">40</text>
<polyline points="194,137.1 194.5,137.3 195,136.7 195.5,136.3 196,136.9 196.5,137.9 197,138.2 197.5,137.8 198,137.8 198.5,138.2 199,138.1 199.5,137.7 200,137.2 200.5,136.7 201,135.9 201.5,135.5 202,135.8 202.5,136.4 203,135.7 203.5,134.6 204,134.4 204.5,134.8 205,135.5 205.5,136.3 206,137 206.5,136.6 207,135.9 207.5,135.7 208,135.9 208.5,136.2 209,136.8 209.5,137.4 210,137.8 210.5,137.9 211,137.8 211.5,138.2 212,138.9 212.5,139.2 213,139.4 213.5,139.9 214,140 214.5,139 215,138.2 215.5,137.3 216,136.6 216.5,136.4 217,136.6 217.5,136.2 218,134.9 218.5,129.5" fill="none" stroke="#c0143f" stroke-width="0.56" stroke-linejoin="round"/>
<polyline points="218,134.9 218.5,129.5 218.5,129.7 218.8,132.6 219,133.4 219.5,134.9 220,135.7 220.5,135.5 221,134.7 221.5,129.2 221.5,129.4 221.8,132.4 222,133.3 222.5,135.4 223,135.9 223.5,135.4 224,135.4 224.5,132.4 224.5,132.5 224.9,135.3 225,136 225.5,136.7 226,136.6 226.5,136.5 227,136.5 227.5,132.7 227.5,132.7 227.9,136.9 228,137.9 228.5,139.1 229,138.5 229.5,137.9 230,137.4 230.5,132.9 230.5,132.9 230.9,134.7 231,135 231.5,136.2 232,137.4 232.5,137.4 233,136.5 233.5,132.5 233.5,132.5 233.9,134.7 234,135.1 234.5,136.1 235,136.6 235.5,136.5 236,135.8 236.5,131.6 236.5,131.6 236.9,135.4 237,136.2 237.5,138.2 238,138.9 238.5,139.2 239,139.2 239.5,136.6 239.5,136.6 239.9,138.3 240,138.6 240.5,139 241,139.4 241.5,140.4 242,141 242.5,136.4 242.5,136.3 242.9,138.3 243,138.6 243.5,139.2 244,139.2 244.5,138.8 245,139.1 245.5,135.2 245.5,135.1 245.9,137.5 246,137.8 246.5,137.9 247,137.7 247.5,138.1 248,137.6 248.5,131.4 248.5,131.3 248.9,134.8 249,135.3 249.5,136.5 250,136.6 250.5,136.4 251,136.9 251.5,135 251.5,135 251.9,138.2 252,138.7 252.5,139.6 253,139.6 253.5,139.4 254,139.3 254.5,134.7 254.6,134.5 254.9,137.5 255,137.9 255.5,139.8 256,140.3 256.5,140.3 257,140.9 257.5,137.4 257.6,137.1 257.9,138.9 258,139.1 258.5,139.8 259,140.3 259.5,140.4 260,140 260.5,136.1 260.6,135.9 260.9,137.7 261,137.9 261.5,138.6 262,138.3 262.5,137.5 263,137 263.5,135.7 263.6,135.7 263.9,136.8 264,136.9 264.5,137.8 265,138.2 265.5,137.9 266,137.1 266.5,133.6 266.6,133.3 266.9,135.1 267,135.2 267.5,136.4 268,137.1 268.5,137 269,136.3 269.5,131.1 269.6,130.6 269.9,133.9 270,134.2 270.5,135.8 271,135.6 271.5,134.7 272,133.8 272.5,129.3 272.6,129.1 273,132.6 273,132.9 273.5,135.2 274,135.4 274.5,135.9 275,136.4 275.5,132.1 275.6,131.6 276,134.1 276,134.3 276.5,135.5 277,135.8 277.5,135.8 278,135.7 278.5,129.9 278.6,129.3 279,133.8 279,134.1 279.5,136.7 280,137.7 280.5,137.6 281,137.3 281.5,133.2 281.6,132.6 282,135.6 282,135.8 282.5,137.3 283,137.7 283.5,137.8 284,138.3 284.5,136.5 284.6,136.3 285,138.6 285,138.7 285.5,140.1 286,141 286.5,142 287,142.4 287.5,138.6 287.6,137.9 288,139.7 288,139.7 288.5,140.5 289,140.9 289.5,140.4 290,138.9 290.5,134.5 290.6,133.7 291,136.2 291,136.3 291.5,138 292,138.2 292.5,137.8 293,137.6 293.5,132.4 293.6,131.2 294,134.2 294,134.2 294.5,135.7 295,136.1 295.5,135.9 296,135.4 296.5,132.6 296.6,131.8 297,133.5 297,133.5 297.5,134.3 298,135.5 298.5,136.5 299,136.5 299.5,132.3 299.6,131.2 300,134.2 300,134.3 300.5,136 301,136.8 301.5,136.7 302,136.4 302.5,131.7 302.7,130.2 303,133 303,133.1 303.5,135 304,136.2 304.5,136.5 305,136.8 305.5,134.7 305.7,133.8 306,135.7 306,135.7 306.5,136.5 307,137.4 307.5,138.8 308,139.6 308.5,136.5 308.7,135.3 309,137.7 309,137.8 309.5,139 310,138.9 310.5,138.6 311,138.2 311.5,136.4 311.7,135.9 312,137.2 312,137.3 312.5,138.6 313,139.4 313.5,139.2 314,138.1 314.5,133.7 314.7,132.2 315,134.1 315,134.3 315.5,135.7 316,136.2 316.5,136.5 317,136.6 317.5,135.3 317.7,134.6 318,135.4 318,135.5 318.5,135.8 319,135.8 319.5,135.7 320,135.7 320.5,133.5 320.7,132.5 321,135 321.1,135.4 321.5,137 322,137.7 322.5,138.1 323,138.2 323.5,133.7 323.7,131.3 324,134.2 324.1,134.6 324.5,136.7 325,137.7 325.5,137.7 326,137.2 326.5,133.7 326.7,131.9 327,134.2 327.1,134.7 327.5,136.5 328,138 328.5,138.9 329,139 329.5,136.5 329.7,134.9 330,137.2 330.1,137.5 330.5,138.6 331,138.4 331.5,138.6 332,139.4 332.5,137.3 332.7,135.3 333,137.6 333.1,138 333.5,139.3 334,139.2 334.5,138.1 335,136.9 335.5,132.5 335.7,129.8 336,133.1 336.1,133.9 336.5,136 337,137.1 337.5,137.3 338,137.2 338.5,136.6 339,136" fill="none" stroke="#c0143f" stroke-width="0.5" stroke-linejoin="round"/>
<polyline points="339,136 339.5,136.5 340,137.3 340.5,137.6 341,137.7 341.5,137.6 342,137.3 342.5,136.5 343,136 343.5,136.3 344,137.3 344.5,137.9 345,137.9 345.5,137.3 346,137.3 346.5,138 347,138.8 347.5,138.8 348,138.4 348.5,138.5 349,139.2 349.5,140.1 350,140.3 350.5,139.8 351,139.6 351.5,139.6 352,139.4 352.5,138.8 353,138.5 353.5,138.5 354,138.8 354.5,139.2 355,139.4 355.5,139 356,138.9 356.5,139.1 357,139.5 357.5,140 358,140.5 358.5,139.7 359,138.5 359.5,137.6 360,137.2 360.5,137.3 361,137.1 361.5,136.6 362,136.2" fill="none" stroke="#c0143f" stroke-width="0.56" stroke-linejoin="round"/>
<text x="182.4" y="156.8" font-size="7.8" text-anchor="middle" font-weight="normal" fill="#262626" stroke="#262626" stroke-width="0.22">30</text>
<polyline points="194,157 194.5,157.2 195,157.4 195.5,156.7 196,155.6 196.5,155.3 197,154.8 197.5,154 198,153.3 198.5,153.1 199,153.2 199.5,153.2 200,153.1 200.5,153.3 201,153.1 201.5,152.8 202,152.8 202.5,153.2 203,153.5 203.5,153.4 204,153.4 204.5,152.9 205,152.3 205.5,152.1 206,152.4 206.5,153 207,153.5 207.5,154.1 208,154.2 208.5,153.9 209,153.6 209.5,153.5 210,153.6 210.5,154.1 211,154.7 211.5,154.9 212,154.7 212.5,154.3 213,153.5 213.5,152.7 214,152.5 214.5,152.4 215,151.8 215.5,151.2 216,151.8 216.5,152.4 217,152.3 217.5,152.1 218,151.8 218.5,146.6" fill="none" stroke="#c0143f" stroke-width="0.56" stroke-linejoin="round"/>
<polyline points="218,151.8 218.5,146.6 218.5,146.8 218.8,149.4 219,150.2 219.5,151.9 220,152.7 220.5,152.6 221,151.8 221.5,151.6 222,151.8 222.5,148.2 222.5,148.3 222.9,150.1 223,150.6 223.5,152.1 224,153 224.5,153.7 225,153.4 225.5,152.4 226,151.6 226.5,146.1 226.5,146.1 226.9,149.3 227,150 227.5,150.9 228,150.9 228.5,151 229,151.2 229.5,151.2 230,150.5 230.5,146.3 230.5,146.3 230.9,148.8 231,149.5 231.5,151.2 232,152 232.5,152.5 233,152.3 233.5,151.7 234,150.9 234.5,144.5 234.5,144.5 234.9,148.6 235,149.6 235.5,152 236,152.8 236.5,153.3 237,153.4 237.5,153.2 238,153 238.5,147.4 238.5,147.4 238.9,150.2 239,150.8 239.5,152.9 240,154.2 240.5,154.5 241,154.3 241.5,154.8 242,154.4 242.5,147.6 242.5,147.5 242.9,150.4 243,150.9 243.5,152.1 244,152.9 244.5,153.6 245,153.7 245.5,153.4 246,152.4 246.5,147.9 246.5,147.8 246.9,149.5 247,149.9 247.5,150.9 248,151.8 248.5,152.3 249,152.7 249.5,152.6 250,152.3 250.5,149.1 250.5,149.1 250.9,151.6 251,152.1 251.5,152.7 252,151.9 252.5,152.1 253,152.6 253.5,152.7 254,152.4 254.5,150 254.6,150 254.9,151.8 255,152.2 255.5,154.5 256,155.6 256.5,155.9 257,156.5 257.5,157 258,156.8 258.5,151.2 258.6,150.9 258.9,153.5 259,153.8 259.5,155.3 260,155.6 260.5,155.7 261,155.8 261.5,155.6 262,155.3 262.5,152 262.6,151.9 262.9,153.8 263,154 263.5,155 264,155.1 264.5,155.6 265,156.1 265.5,155.4 266,153.9 266.5,147 266.6,146.5 266.9,149.9 267,150.3 267.5,152.6 268,153.2 268.5,153.7 269,154 269.5,154 270,153.4 270.5,148.1 270.6,147.6 271,149.9 271,150.1 271.5,151.3 272,151.2 272.5,151.4 273,152 273.5,152.3 274,151.7 274.5,145.9 274.6,145.4 275,148.5 275,148.8 275.5,150.9 276,152.5 276.5,153.5 277,154.2 277.5,154.1 278,153.9 278.5,151.3 278.6,151 279,152.7 279,152.8 279.5,153.7 280,154.2 280.5,153.9 281,153.2 281.5,152.3 282,151.7 282.5,148 282.6,147.3 283,149.3 283,149.4 283.5,150.9 284,152.1 284.5,153.3 285,154.4 285.5,154.9 286,154.3 286.5,149.9 286.6,149.1 287,151.6 287,151.7 287.5,152.7 288,152.9 288.5,153.6 289,153.7 289.5,153.1 290,152.7 290.5,147.7 290.6,146.8 291,150.2 291,150.3 291.5,152.3 292,152.8 292.5,153.5 293,154.7 293.5,155.6 294,156.1 294.5,153.5 294.6,152.7 295,154 295,154 295.5,154.7 296,154.8 296.5,154.7 297,155.1 297.5,154.6 298,153.5 298.5,148.4 298.6,147.1 299,149.7 299,149.7 299.5,151.5 300,152.1 300.5,152.3 301,152.8 301.5,152.4 302,151.3 302.5,147.6 302.7,146.8 303,149.1 303,149.1 303.5,151.1 304,152.2 304.5,153.1 305,153.1 305.5,152.4 306,152.6 306.5,149.1 306.7,147.8 307,150.8 307,150.9 307.5,152.5 308,153.1 308.5,154.4 309,155.1 309.5,154.9 310,153.6 310.5,149.7 310.7,148.5 311,150.8 311,151 311.5,152.2 312,152.2 312.5,152 313,152.3 313.5,153.2 314,153.8 314.5,150.9 314.7,149.7 315,152 315,152.3 315.5,153.8 316,154 316.5,153.9 317,153.2 317.5,152.8 318,152.8 318.5,148.6 318.7,146.5 319,148.3 319.1,148.6 319.5,150.1 320,151.7 320.5,152.5 321,152.5 321.5,152.6 322,152.6 322.5,148.4 322.7,146.2 323,148.9 323.1,149.3 323.5,151 324,152.1 324.5,153 325,153.5 325.5,153.5 326,153.3 326.5,150.2 326.7,148.5 327,150.5 327.1,150.8 327.5,151.9 328,152.3 328.5,152.5 329,152.5 329.5,151.9 330,151.1 330.5,146.7 330.7,144 331,146.3 331.1,146.7 331.5,148.1 332,148.6 332.5,149.4 333,150.6 333.5,150.9 334,151.7 334.5,151.1 334.7,150.3 335,152.7 335.1,153.1 335.5,154.6 336,155.3 336.5,155.3 337,155.3 337.5,155.4 338,155.4 338.5,154.3 339,153.2" fill="none" stroke="#c0143f" stroke-width="0.5" stroke-linejoin="round"/>
<polyline points="339,153.2 339.5,153 340,153.4 340.5,153.3 341,153 341.5,153.3 342,153.7 342.5,154.4 343,153.9 343.5,153 344,152.4 344.5,152.2 345,151.5 345.5,150.6 346,149.8 346.5,149.6 347,150.1 347.5,149.4 348,148.3 348.5,147.9 349,148.9 349.5,150.2 350,151 350.5,151.1 351,151 351.5,151.6 352,152.6 352.5,153.1 353,153.6 353.5,154.5 354,155.3 354.5,155.1 355,154.5 355.5,154.8 356,155.1 356.5,154.6 357,154.6 357.5,154.8 358,154.9 358.5,154.6 359,154.2 359.5,154.5 360,154.6 360.5,153.8 361,153.3 361.5,153.1 362,152.9" fill="none" stroke="#c0143f" stroke-width="0.56" stroke-linejoin="round"/>
<text x="182.4" y="172.8" font-size="7.8" text-anchor="middle" font-weight="normal" fill="#262626" stroke="#262626" stroke-width="0.22">20</text>
<polyline points="194,169.6 194.5,169.5 195,169.1 195.5,168.7 196,168.4 196.5,168.4 197,168.1 197.5,167.7 198,167.8 198.5,168.4 199,167.8 199.5,167.3 200,167.3 200.5,167.6 201,167.8 201.5,167.3 202,167.3 202.5,168.1 203,169.5 203.5,170.6 204,170.8 204.5,170.3 205,169.8 205.5,169.3 206,168.8 206.5,168.3 207,168.2 207.5,169.2 208,170.3 208.5,171 209,171 209.5,170.7 210,171.4 210.5,172.2 211,172.2 211.5,171.8 212,171.7 212.5,171.8 213,171.8 213.5,171.9 214,172.1 214.5,172.2 215,172.1 215.5,172.3 216,172.6 216.5,172.2 217,171.6 217.5,171.4 218,170.4 218.5,165.6" fill="none" stroke="#c0143f" stroke-width="0.56" stroke-linejoin="round"/>
<polyline points="218,170.4 218.5,165.6 218.5,165.8 218.8,168 219,168.6 219.5,169.7 220,170 220.5,170.9 221,171.5 221.5,171.1 222,170.5 222.5,171.1 223,171 223.5,169.8 224,169.1 224.5,166.8 224.5,166.9 224.9,168 225,168.2 225.5,168.1 226,168.3 226.5,168.4 227,168 227.5,168.1 228,168.2 228.5,167.9 229,168.3 229.5,169.2 230,169.9 230.5,164.8 230.5,164.8 230.9,167.8 231,168.5 231.5,170.5 232,172.1 232.5,172.9 233,172.3 233.5,171.6 234,171.6 234.5,172 235,172 235.5,171.1 236,170.6 236.5,164.3 236.5,164.3 236.9,166.4 237,166.8 237.5,167.7 238,168.9 238.5,169.5 239,169.2 239.5,169 240,169.3 240.5,169.7 241,170.2 241.5,170.4 242,169.8 242.5,166 242.5,166 242.9,167.1 243,167.3 243.5,167.9 244,168.5 244.5,169.1 245,169.5 245.5,169.3 246,168.3 246.5,167.3 247,167 247.5,167.2 248,166.7 248.5,160.8 248.5,160.7 248.9,163.3 249,163.8 249.5,165.9 250,167.6 250.5,169 251,169.4 251.5,168.8 252,169 252.5,169.5 253,169.8 253.5,169.3 254,168.1 254.5,162.1 254.6,161.9 254.9,164.2 255,164.6 255.5,166.2 256,167 256.5,167.6 257,167.2 257.5,167 258,167.7 258.5,168.5 259,168.7 259.5,169.5 260,170.4 260.5,166.2 260.6,165.9 260.9,167.3 261,167.6 261.5,169.2 262,170.4 262.5,171 263,171.1 263.5,171.1 264,171.2 264.5,170.9 265,170.9 265.5,170.2 266,168.8 266.5,162.6 266.6,162.3 266.9,164.9 267,165.2 267.5,167 268,167.9 268.5,168.2 269,168.9 269.5,169.4 270,170.5 270.5,170.9 271,171 271.5,171.5 272,171.8 272.5,166.2 272.6,165.6 273,167.8 273,168.1 273.5,169.9 274,170.4 274.5,169.8 275,168.6 275.5,167.7 276,167.4 276.5,167.5 277,168.3 277.5,169.6 278,170.7 278.5,165.4 278.6,164.6 279,166.7 279,166.9 279.5,168.4 280,169.4 280.5,169.5 281,169.4 281.5,169.4 282,168.6 282.5,167.9 283,167.9 283.5,167.9 284,167.5 284.5,161.6 284.6,160.7 285,163.8 285,164 285.5,166 286,166.4 286.5,167.2 287,169 287.5,170.6 288,170.8 288.5,170.4 289,169.9 289.5,170 290,169.8 290.5,165.1 290.6,164.2 291,166.2 291,166.2 291.5,168 292,169.3 292.5,170 293,169.8 293.5,169.6 294,169.4 294.5,170.2 295,170.4 295.5,169.9 296,169.7 296.5,165.5 296.6,164.3 297,166 297,166 297.5,167.1 298,167.7 298.5,168.3 299,168 299.5,167.7 300,168.1 300.5,168.3 301,167.6 301.5,166.9 302,166.4 302.5,159.3 302.7,157.2 303,160.2 303,160.4 303.5,162.5 304,163.3 304.5,164 305,164.8 305.5,166.2 306,167.2 306.5,167.5 307,167.8 307.5,168.4 308,168.6 308.5,165.8 308.7,164.6 309,165.7 309,165.7 309.5,166.3 310,167.3 310.5,168.4 311,168.5 311.5,167.7 312,167.1 312.5,166.9 313,167.7 313.5,168.4 314,168.5 314.5,165.4 314.7,164 315,166 315,166.2 315.5,167.3 316,167.1 316.5,167.7 317,168.7 317.5,169 318,168.6 318.5,168.9 319,169.3 319.5,169.1 320,168.7 320.5,165.1 320.7,163.4 321,165 321.1,165.2 321.5,166.1 322,166.4 322.5,166.7 323,167.6 323.5,167.7 324,167.2 324.5,166.9 325,166.9 325.5,167.2 326,167.5 326.5,163.6 326.7,161.5 327,163.9 327.1,164.3 327.5,166.1 328,166.9 328.5,167.5 329,169 329.5,170 330,170.2 330.5,169.9 331,169.5 331.5,169.7 332,170.2 332.5,166.3 332.7,163.7 333,166.3 333.1,166.9 333.5,168.7 334,168.9 334.5,168.9 335,169.8 335.5,170.5 336,170.5 336.5,170.4 337,170.7 337.5,171.3 338,171.2 338.5,170.5 339,169.2" fill="none" stroke="#c0143f" stroke-width="0.56" stroke-linejoin="round"/>
<polyline points="339,169.2 339.5,168.4 340,168.5 340.5,168.2 341,168.3 341.5,169 342,169.5 342.5,170.1 343,170 343.5,169.4 344,169 344.5,169.2 345,169.9 345.5,170.4 346,170 346.5,169.5 347,169.6 347.5,169.7 348,169.6 348.5,169.7 349,170 349.5,170.9 350,171.4 350.5,171.9 351,171.9 351.5,172 352,172.5 352.5,173.2 353,173.7 353.5,174.3 354,175 354.5,175.3 355,174.7 355.5,173.6 356,172.6 356.5,172.5 357,172.6 357.5,172.4 358,171.8 358.5,171.2 359,170.8 359.5,170.4 360,169.7 360.5,169 361,168.9 361.5,169.4 362,169.6" fill="none" stroke="#c0143f" stroke-width="0.56" stroke-linejoin="round"/>
<text x="182.4" y="188.7" font-size="7.8" text-anchor="middle" font-weight="normal" fill="#262626" stroke="#262626" stroke-width="0.22">10</text>
<polyline points="194,185 194.5,184 195,184.2 195.5,184.8 196,184.4 196.5,184 197,184.5 197.5,184.9 198,184.9 198.5,185.7 199,186.9 199.5,188.1 200,189.8 200.5,190.8 201,190.5 201.5,190.1 202,190.3 202.5,190.4 203,189.7 203.5,189.3 204,189.3 204.5,189 205,189.7 205.5,190.5 206,189.4 206.5,187.6 207,186.3 207.5,185.6 208,184.7 208.5,184.6 209,184.4 209.5,183.8 210,183.5 210.5,182.9 211,182.4 211.5,182.7 212,183 212.5,183.1 213,183.1 213.5,183.8 214,184.7 214.5,185.2 215,186.3 215.5,187.1 216,187.5 216.5,187.3 217,187.4 217.5,188 218,187.3 218.5,183.5" fill="none" stroke="#c0143f" stroke-width="0.56" stroke-linejoin="round"/>
<polyline points="218,187.3 218.5,183.5 218.5,183.6 218.8,184.8 219,185.4 219.5,186.5 220,187.3 220.5,187.8 221,187.6 221.5,186.9 222,186.2 222.5,186.5 223,187.2 223.5,187.3 224,185.9 224.5,184.6 225,183.6 225.5,183.2 226,183.1 226.5,183.4 227,184.3 227.5,185 228,185.8 228.5,185.8 229,185.5 229.5,185 230,185.6 230.5,183.3 230.5,183.3 230.9,184.5 231,184.9 231.5,186.4 232,187.7 232.5,187.9 233,187.6 233.5,187.9 234,188.1 234.5,187.4 235,186.5 235.5,186.1 236,186.3 236.5,186.1 237,184.9 237.5,183.7 238,183.2 238.5,183.2 239,183.2 239.5,183.5 240,183.6 240.5,183.5 241,183.2 241.5,183 242,182.7 242.5,177.4 242.5,177.3 242.9,179.3 243,179.7 243.5,181.4 244,182.9 244.5,183.3 245,183.2 245.5,183.3 246,184 246.5,184.9 247,185 247.5,185.3 248,186 248.5,186 249,186.1 249.5,185.9 250,185 250.5,184.7 251,185.2 251.5,185.6 252,185.2 252.5,185 253,184.9 253.5,185.3 254,186 254.5,183.3 254.6,183.1 254.9,184 255,184.1 255.5,184.7 256,185.5 256.5,186.4 257,187.1 257.5,187.7 258,187.6 258.5,186.7 259,186.2 259.5,186.4 260,186.9 260.5,186.4 261,185.6 261.5,185.1 262,185.3 262.5,185.5 263,185.9 263.5,186.8 264,187.8 264.5,188.1 265,187.7 265.5,187.3 266,186.9 266.5,181.2 266.6,180.8 266.9,183 267,183.2 267.5,185.2 268,186.2 268.5,186.4 269,186.5 269.5,186.8 270,187 270.5,186.6 271,186.3 271.5,186.2 272,185.8 272.5,186 273,186.8 273.5,186.9 274,186.4 274.5,185.9 275,186 275.5,186.1 276,185.6 276.5,184.9 277,185.5 277.5,186.5 278,186.4 278.5,181.8 278.6,181.3 279,182.9 279,183 279.5,184.5 280,185.2 280.5,185.6 281,186 281.5,186.1 282,186.3 282.5,186.9 283,187.6 283.5,187.9 284,189 284.5,189.7 285,189.7 285.5,189.1 286,188.6 286.5,187.5 287,186.7 287.5,187.1 288,187.8 288.5,187.7 289,187.2 289.5,186.7 290,186.7 290.5,183.6 290.6,182.8 291,184.1 291,184.1 291.5,185 292,185.3 292.5,184.4 293,183 293.5,182.7 294,183.4 294.5,183.5 295,182.7 295.5,182.3 296,182.3 296.5,183.1 297,183.7 297.5,183.6 298,184 298.5,185.2 299,185.9 299.5,185.6 300,185.7 300.5,185.8 301,185.7 301.5,185.8 302,185.7 302.5,184.1 302.7,183.8 303,185.1 303,185.1 303.5,185.8 304,185.8 304.5,186.5 305,187.5 305.5,187.7 306,187.1 306.5,187.2 307,187.3 307.5,187.7 308,188.3 308.5,188.6 309,188.5 309.5,188.9 310,189.5 310.5,189.3 311,188.4 311.5,187.9 312,187.4 312.5,187.1 313,186.7 313.5,186.3 314,186.1 314.5,181.7 314.7,179.9 315,181.8 315,182 315.5,183.9 316,185.1 316.5,186 317,186.4 317.5,186.7 318,186.2 318.5,185.4 319,184.9 319.5,184.5 320,184.2 320.5,183.9 321,183.4 321.5,183.7 322,184.6 322.5,184.8 323,183.8 323.5,183.6 324,183.9 324.5,184.5 325,185.1 325.5,185.2 326,184.9 326.5,183.8 326.7,182.9 327,183.9 327.1,184 327.5,184.8 328,185.1 328.5,185.1 329,185.4 329.5,186.3 330,186.7 330.5,186.4 331,186.3 331.5,186.5 332,186.2 332.5,186.2 333,186.3 333.5,186.7 334,186.7 334.5,186.2 335,186.2 335.5,186.6 336,187.3 336.5,186.9 337,186.5 337.5,186.5 338,187.4 338.5,187.7 339,186.9" fill="none" stroke="#c0143f" stroke-width="0.56" stroke-linejoin="round"/>
<polyline points="339,186.9 339.5,186.2 340,185.7 340.5,185.6 341,185.7 341.5,186 342,185.6 342.5,185.5 343,185.8 343.5,185.9 344,185.7 344.5,185.5 345,185.7 345.5,185.9 346,185.3 346.5,184.8 347,184.4 347.5,184 348,183.7 348.5,183.8 349,183.5 349.5,182.8 350,182.3 350.5,182.6 351,182.9 351.5,182.3 352,182 352.5,182.7 353,184.1 353.5,185.2 354,185.9 354.5,186.4 355,186.5 355.5,186.3 356,186.8 356.5,188.1 357,188.8 357.5,188.8 358,188.2 358.5,188.2 359,189.4 359.5,190.4 360,190.3 360.5,189.2 361,188 361.5,187.3 362,187.1" fill="none" stroke="#c0143f" stroke-width="0.56" stroke-linejoin="round"/>
<text x="182.4" y="204.7" font-size="7.8" text-anchor="middle" font-weight="normal" fill="#262626" stroke="#262626" stroke-width="0.22">5</text>
<polyline points="194,202 194.5,202.5 195,202.5 195.5,202.1 196,201.3 196.5,201.3 197,201.5 197.5,201.1 198,200.8 198.5,200.8 199,200.4 199.5,200.7 200,201.8 200.5,201.8 201,201.6 201.5,201.7 202,202.1 202.5,201.8 203,201.4 203.5,201.7 204,201.7 204.5,201.1 205,201.2 205.5,201.6 206,201.7 206.5,201.3 207,201.5 207.5,201.5 208,201 208.5,200.8 209,201.7 209.5,202.2 210,202.2 210.5,202.3 211,202.9 211.5,203.1 212,203.1 212.5,203.2 213,204.2 213.5,204.9 214,204.2 214.5,203.3 215,202.9 215.5,203 216,202.9 216.5,202.1 217,201.4 217.5,202 218,202.3 218.5,197.6" fill="none" stroke="#c0143f" stroke-width="0.56" stroke-linejoin="round"/>
<polyline points="218,202.3 218.5,197.6 218.5,197.7 218.8,199.6 219,200.3 219.5,202.5 220,203.6 220.5,203.3 221,202.4 221.5,201 222,199.7 222.5,199.6 223,200 223.5,200.2 224,200.4 224.5,200.6 225,201 225.5,201.2 226,201.2 226.5,201.7 227,202.2 227.5,202.4 228,202.8 228.5,203.1 229,202.3 229.5,200.9 230,200.6 230.5,200.9 231,200.5 231.5,199.4 232,198.9 232.5,199.1 233,199.6 233.5,199.4 234,199.9 234.5,200.6 235,200.9 235.5,200.3 236,199.9 236.5,200.3 237,200.8 237.5,200.8 238,201.3 238.5,202 239,202.4 239.5,201.8 240,201.2 240.5,200.7 241,200.7 241.5,200.7 242,200.1 242.5,197.2 242.5,197.2 242.9,198.5 243,198.8 243.5,200.3 244,201 244.5,201.2 245,201.7 245.5,202 246,202.3 246.5,203.1 247,203.7 247.5,203.4 248,202.6 248.5,202.7 249,203.1 249.5,202.8 250,202.1 250.5,201.1 251,200.3 251.5,200.1 252,200.4 252.5,200.6 253,200.1 253.5,199.4 254,198.9 254.5,198.6 255,198.5 255.5,198.4 256,198.3 256.5,198.5 257,199 257.5,199.8 258,199.2 258.5,198.2 259,197.7 259.5,198.1 260,198.5 260.5,198.8 261,199.4 261.5,199.5 262,199.1 262.5,199 263,200.5 263.5,202.4 264,202.7 264.5,202.5 265,202.2 265.5,202 266,201.7 266.5,197.5 266.6,197.3 266.9,199.3 267,199.5 267.5,200.7 268,200.5 268.5,199.7 269,200.5 269.5,201.3 270,202 270.5,203.2 271,203.6 271.5,202.8 272,202.2 272.5,202 273,202.1 273.5,202.1 274,202.1 274.5,202.8 275,203.3 275.5,203.1 276,202.2 276.5,201.8 277,202.1 277.5,201.7 278,200.3 278.5,199.5 279,199.7 279.5,199.6 280,198.9 280.5,198.2 281,198 281.5,198.1 282,198.5 282.5,199.3 283,199.8 283.5,200.6 284,201 284.5,201.3 285,201.3 285.5,201.1 286,200.7 286.5,200.7 287,201.1 287.5,201.7 288,201.9 288.5,201.9 289,201.9 289.5,202 290,201.5 290.5,197.2 290.6,196.4 291,197.9 291,197.9 291.5,199.6 292,200.6 292.5,200.7 293,200.6 293.5,200.7 294,200.6 294.5,201.2 295,202.7 295.5,203.8 296,203.2 296.5,202.9 297,203.7 297.5,204.4 298,204.6 298.5,204.5 299,204.2 299.5,204 300,204 300.5,204.4 301,204.3 301.5,204 302,203.7 302.5,203.3 303,203.6 303.5,203.5 304,203 304.5,203.2 305,203.6 305.5,204.1 306,204.3 306.5,203.7 307,203.2 307.5,203.5 308,204.3 308.5,205 309,205.4 309.5,205.4 310,204.8 310.5,203.9 311,203.6 311.5,203.3 312,202.2 312.5,201 313,200.2 313.5,199.5 314,199.5 314.5,198 314.7,197.2 315,198.1 315,198.2 315.5,199.4 316,200.6 316.5,200.6 317,200.2 317.5,199.7 318,199.7 318.5,200 319,200.7 319.5,202.4 320,204.1 320.5,204.6 321,203.6 321.5,203.1 322,203.2 322.5,203.5 323,203.2 323.5,202.4 324,201.1 324.5,199.8 325,199.1 325.5,199.8 326,200.1 326.5,199.5 327,199.9 327.5,200.7 328,200.6 328.5,199.8 329,199.7 329.5,199.4 330,198.8 330.5,198.2 331,198 331.5,198.6 332,199.1 332.5,199 333,198.6 333.5,199.4 334,200.4 334.5,201.2 335,201.1 335.5,200.5 336,200.1 336.5,200.4 337,200.8 337.5,201.3 338,201.4 338.5,202.5 339,204" fill="none" stroke="#c0143f" stroke-width="0.56" stroke-linejoin="round"/>
<polyline points="339,204 339.5,204.9 340,205.6 340.5,205.8 341,205.9 341.5,205.7 342,205.4 342.5,205.1 343,204.7 343.5,204.2 344,203.5 344.5,203 345,203.1 345.5,203.6 346,203.5 346.5,203 347,202.7 347.5,202.8 348,203.1 348.5,202.7 349,202.1 349.5,201.2 350,201 350.5,201.6 351,202.1 351.5,202.8 352,204 352.5,204.5 353,203.7 353.5,202.5 354,202.5 354.5,203 355,203.4 355.5,203.5 356,203.3 356.5,202.9 357,202.2 357.5,201.6 358,201.3 358.5,201.6 359,201.9 359.5,201.9 360,202.4 360.5,203.4 361,203.9 361.5,204.1 362,204" fill="none" stroke="#c0143f" stroke-width="0.56" stroke-linejoin="round"/>
<text x="182.4" y="220.7" font-size="7.8" text-anchor="middle" font-weight="normal" fill="#262626" stroke="#262626" stroke-width="0.22">2</text>
<polyline points="194,213.5 194.5,212.7 195,212 195.5,212.2 196,212.7 196.5,213.2 197,213.3 197.5,212.8 198,213.1 198.5,214.3 199,216 199.5,217 200,216.4 200.5,215.3 201,214.7 201.5,215.2 202,216.3 202.5,215.7 203,214.3 203.5,213.8 204,214.4 204.5,214.9 205,215 205.5,215.6 206,216.2 206.5,216.3 207,215.7 207.5,216.4 208,217.3 208.5,218.1 209,218.9 209.5,219.3 210,219.8 210.5,220.7 211,221.3 211.5,221.8 212,221.6 212.5,220.7 213,221 213.5,221.3 214,220.3 214.5,219.3 215,219.3 215.5,219 216,218.4 216.5,217.6 217,216.3 217.5,215.2 218,213.7 218.5,209" fill="none" stroke="#c0143f" stroke-width="0.56" stroke-linejoin="round"/>
<polyline points="218,213.7 218.5,209 218.5,209.1 218.8,211 219,211.6 219.5,212.9 220,213.3 220.5,213.5 221,213.7 221.5,214.6 222,216.1 222.5,217.7 223,218.5 223.5,217.8 224,217.1 224.5,217.4 225,217.8 225.5,217.3 226,216.5 226.5,216.7 227,217.1 227.5,217.7 228,218.2 228.5,218.7 229,218.8 229.5,218.4 230,217.9 230.5,218.3 231,218.8 231.5,218.3 232,217.4 232.5,216.9 233,217.2 233.5,217.7 234,218.3 234.5,218.1 235,218.3 235.5,218.3 236,218.1 236.5,218.4 237,218.7 237.5,219.5 238,220.8 238.5,221 239,220.7 239.5,220.9 240,221.5 240.5,220.6 241,219.2 241.5,219.1 242,219.2 242.5,218.4 243,217.1 243.5,216.7 244,216.6 244.5,216.3 245,215.8 245.5,215.6 246,216.1 246.5,216.3 247,216.4 247.5,216.2 248,216.2 248.5,216.7 249,217 249.5,217.7 250,218.6 250.5,218.9 251,218.6 251.5,218.3 252,217.6 252.5,216.8 253,216.8 253.5,217.4 254,217.7 254.5,216.8 255,215.6 255.5,215.5 256,216.3 256.5,216.6 257,216.6 257.5,216.7 258,216.9 258.5,217 259,216.9 259.5,216.6 260,216.4 260.5,215.6 261,214.5 261.5,214.3 262,215 262.5,215 263,214.5 263.5,215.1 264,215.6 264.5,216.5 265,217.5 265.5,217.2 266,216.3 266.5,216.5 267,217.3 267.5,217.4 268,217.5 268.5,217.6 269,217.8 269.5,218.7 270,219.5 270.5,219.4 271,218.5 271.5,218.2 272,218.1 272.5,217.4 273,216.8 273.5,217.1 274,217.9 274.5,218.5 275,219.1 275.5,219.3 276,219.2 276.5,218.6 277,218.2 277.5,218.1 278,217.9 278.5,212.3 278.6,211.5 279,214 279,214.2 279.5,215.3 280,215.7 280.5,216.5 281,217.6 281.5,218.3 282,219.2 282.5,219.4 283,219.6 283.5,219.9 284,219.5 284.5,218.8 285,218.2 285.5,217.9 286,217.3 286.5,216 287,215.4 287.5,216.3 288,217.7 288.5,218.9 289,218.9 289.5,218.2 290,218.5 290.5,218.6 291,218.2 291.5,217.8 292,217.2 292.5,216.6 293,215.8 293.5,215.3 294,215.3 294.5,216.3 295,217.9 295.5,219.2 296,219 296.5,218.1 297,217.2 297.5,217.5 298,218 298.5,217.7 299,216.5 299.5,215.7 300,215.3 300.5,214.7 301,214 301.5,214.2 302,214.1 302.5,214.2 303,214.7 303.5,215.2 304,215.4 304.5,215 305,214.4 305.5,214.6 306,214.8 306.5,214.9 307,215.6 307.5,215.4 308,214.9 308.5,214.5 309,214.1 309.5,213.9 310,214.6 310.5,215.3 311,215.3 311.5,215.2 312,215.2 312.5,215.4 313,216 313.5,217.2 314,218.1 314.5,217.7 315,216.5 315.5,216.2 316,216.6 316.5,217.3 317,218.1 317.5,218.7 318,218.7 318.5,218.4 319,219 319.5,219.5 320,219.7 320.5,220.2 321,221 321.5,221.4 322,221.1 322.5,220.2 323,219.1 323.5,218.1 324,217 324.5,216.2 325,215.9 325.5,215.5 326,215.1 326.5,214.6 327,213.8 327.5,214.3 328,215.7 328.5,217.2 329,217.4 329.5,216.6 330,215.9 330.5,215.3 331,214.7 331.5,214.8 332,216.2 332.5,217.3 333,216.9 333.5,215.7 334,214.7 334.5,214.2 335,214.4 335.5,214.7 336,215 336.5,215.5 337,215.7 337.5,215.6 338,215.8 338.5,216.3 339,216.7" fill="none" stroke="#c0143f" stroke-width="0.56" stroke-linejoin="round"/>
<polyline points="339,216.7 339.5,217 340,217 340.5,216.5 341,215.9 341.5,216 342,215.6 342.5,214.7 343,213.9 343.5,214.2 344,214.9 344.5,215.5 345,215.9 345.5,216 346,217.1 346.5,217.9 347,218.3 347.5,218.8 348,219.4 348.5,219 349,217.8 349.5,216.7 350,217.1 350.5,217.5 351,217 351.5,216.7 352,217.6 352.5,218.4 353,218.5 353.5,218.9 354,219.1 354.5,218.1 355,217.5 355.5,217.9 356,218.5 356.5,218.8 357,219 357.5,218.8 358,217.8 358.5,217.1 359,217.4 359.5,217.7 360,217.7 360.5,217.7 361,217.8 361.5,217.6 362,217.7" fill="none" stroke="#c0143f" stroke-width="0.56" stroke-linejoin="round"/>
<text x="169" y="17.4" font-size="12.6" text-anchor="start" font-weight="bold" fill="#000">Ci</text>
<text x="195.8" y="19.4" font-size="6.9" text-anchor="start" font-weight="normal" fill="#8a8a8a" stroke="#8a8a8a" stroke-width="0.22">Spont.</text>
<text x="195.8" y="27.6" font-size="6.9" text-anchor="start" font-weight="normal" fill="#8a8a8a" stroke="#8a8a8a" stroke-width="0.22">activity</text>
<text x="285.2" y="15.1" font-size="8.35" text-anchor="middle" font-weight="bold" fill="#111">EEG, Click trains</text>
<text x="287" y="28.2" font-size="8.45" text-anchor="middle" font-weight="normal" fill="#262626" stroke="#262626" stroke-width="0.22">Inferior Colliculus (IC)</text>
<text x="170.5" y="127" font-size="8.3" text-anchor="middle" font-weight="normal" fill="#262626" transform="rotate(-90 170.5 127)" stroke="#262626" stroke-width="0.22">Hz</text>
<text x="194" y="244.8" font-size="7.8" text-anchor="middle" font-weight="normal" fill="#262626" stroke="#262626" stroke-width="0.22">-0.2</text>
<text x="218.1" y="244.8" font-size="7.8" text-anchor="middle" font-weight="normal" fill="#262626" stroke="#262626" stroke-width="0.22">0</text>
<text x="242.1" y="244.8" font-size="7.8" text-anchor="middle" font-weight="normal" fill="#262626" stroke="#262626" stroke-width="0.22">0.2</text>
<text x="266.1" y="244.8" font-size="7.8" text-anchor="middle" font-weight="normal" fill="#262626" stroke="#262626" stroke-width="0.22">0.4</text>
<text x="290.2" y="244.8" font-size="7.8" text-anchor="middle" font-weight="normal" fill="#262626" stroke="#262626" stroke-width="0.22">0.6</text>
<text x="314.2" y="244.8" font-size="7.8" text-anchor="middle" font-weight="normal" fill="#262626" stroke="#262626" stroke-width="0.22">0.8</text>
<text x="338.3" y="244.8" font-size="7.8" text-anchor="middle" font-weight="normal" fill="#262626" stroke="#262626" stroke-width="0.22">1</text>
<text x="362.4" y="244.8" font-size="7.8" text-anchor="middle" font-weight="normal" fill="#262626" stroke="#262626" stroke-width="0.22">1.2</text>
<rect x="214.8" y="33.3" width="15.4" height="47.8" fill="none" stroke="#e0474c" stroke-width="1.0"/>
<rect x="226.7" y="176.8" width="9.6" height="15.6" fill="none" stroke="#4672cc" stroke-width="1.25"/>
<rect x="238.7" y="176.8" width="9.6" height="15.6" fill="none" stroke="#4672cc" stroke-width="1.25"/>
<rect x="250.6" y="176.8" width="9.6" height="15.6" fill="none" stroke="#4672cc" stroke-width="1.25"/>
<rect x="262.6" y="176.8" width="9.6" height="15.6" fill="none" stroke="#4672cc" stroke-width="1.25"/>
<rect x="274.5" y="176.8" width="9.6" height="15.6" fill="none" stroke="#4672cc" stroke-width="1.25"/>
<rect x="286.5" y="176.8" width="9.6" height="15.6" fill="none" stroke="#4672cc" stroke-width="1.25"/>
<rect x="298.5" y="176.8" width="9.6" height="15.6" fill="none" stroke="#4672cc" stroke-width="1.25"/>
<rect x="310.4" y="176.8" width="9.6" height="15.6" fill="none" stroke="#4672cc" stroke-width="1.25"/>
<rect x="322.4" y="176.8" width="9.6" height="15.6" fill="none" stroke="#4672cc" stroke-width="1.25"/>
<rect x="213.6" y="195.4" width="10.2" height="27.8" fill="none" stroke="#c9950c" stroke-width="1.3"/>
<path d="M230.2,47.8 Q250,46 266,54" fill="none" stroke="#e0474c" stroke-width="0.9"/>
<polygon points="268.3,55.5 263.8,54.6 266.4,51.8" fill="#e0474c"/>
<rect x="268" y="47.6" width="53.3" height="59.2" fill="white" stroke="#d9484e" stroke-width="1.0"/>
<line x1="280" y1="48" x2="280" y2="106.5" stroke="#aaa" stroke-width="0.5" stroke-dasharray="0.6 1.2"/>
<polyline points="269.2,61 269.6,61 270,61 270.4,60.9 270.8,60.8 271.2,60.7 271.6,60.6 272,60.5 272.4,60.4 272.8,60.1 273.2,59.7 273.6,59.2 274,58.8 274.4,58.4 274.8,58.2 275.2,58.1 275.6,58.1 276,58 276.4,58 276.8,57.8 277.2,57.5 277.6,57.2 278,56.4 278.4,55 278.8,53.3 279.2,51.4 279.6,49.2 280,49.1 280.4,52.5 280.8,57.7 281.2,66.1 281.6,69.8 282,70.6 282.4,71 282.8,71.1 283.2,70.9 283.6,70.7 284,70.2 284.4,69.7 284.8,69.2 285.2,68.8 285.6,68.5 286,68.2 286.4,67.8 286.8,67.3 287.2,66.6 287.6,66.1 288,65.7 288.4,65.4 288.8,65.3 289.2,65.1 289.6,64.9 290,64.5 290.4,64.1 290.8,63.6 291.2,63.2 291.6,62.9 292,62.9 292.4,63 292.8,63.2 293.2,63.3 293.6,63.3 294,63.3 294.4,63.2 294.8,62.9 295.2,62.6 295.6,62.2 296,61.7 296.4,61.4 296.8,61.2 297.2,61.2 297.6,61.3 298,61.5 298.4,61.6 298.8,61.5 299.2,61.5 299.6,61.5 300,61.7 300.4,62.2 300.8,62.8 301.2,63.5 301.6,64.3 302,65 302.4,65.6 302.8,66.1 303.2,66.5 303.6,66.5 304,66.3 304.4,66 304.8,65.5 305.2,65.1 305.6,64.5 306,63.9 306.4,63.2 306.8,62.4 307.2,61.8 307.6,61.2 308,60.7 308.4,60.3 308.8,60 309.2,59.8 309.6,59.6 310,59.3 310.4,59 310.8,58.6 311.2,58.2 311.6,58 312,57.8 312.4,57.7 312.8,57.6 313.2,57.4 313.6,57.1 314,56.9 314.4,56.7 314.8,56.5 315.2,56.4 315.6,56.3 316,56.5 316.4,56.6 316.8,56.8 317.2,57.1 317.6,57.3 318,57.7 318.4,58.2 318.8,58.9 319.2,59.6 319.6,60.1 320,60.5 320.4,60.8 320.8,61" fill="none" stroke="#e29db2" stroke-width="0.75" stroke-linejoin="round"/>
<polyline points="269.2,83.7 269.7,83.5 270.2,83.1 270.7,82.6 271.2,82.1 271.7,81.5 272.2,81 272.7,80.5 273.2,80.1 273.7,79.7 274.2,79.3 274.7,79 275.2,78.6 275.7,78 276.2,77.4 276.7,76.5 277.2,75.5 277.7,74.5 278.2,73.6 278.7,72.8 279.2,72.1 279.7,71.2 280.2,70 280.7,69.7 281.2,72.3 281.7,74.6 282.2,77 282.5,77.9 283.6,80.1 284.7,78.7 285.8,79.7 286.9,78.1 288,78.8 289.1,76.7 290.2,77.5 291.3,75.4 292.4,76.7 293.5,74.6 294.6,76 295.7,73.8 296.8,75.4 297.9,73.2 299,75.2 300.1,73.4 301.2,76.3 302.3,74.3 303.4,76.9 304.5,74.9 305.6,77.8 306.7,76.1 307.8,79.4 308.9,77.9 310,81.1 311.1,79.4 312.2,82.3 313.3,80.5 314.4,83.6 315.5,82.1 316.6,85.5 317.7,84.2 318.8,87.7 319.9,86.3 321,89.6" fill="none" stroke="#d67a95" stroke-width="0.75" stroke-linejoin="round"/>
<polyline points="269.2,98.1 269.7,97.8 270.2,97.5 270.7,97.4 271.2,97.3 271.7,97.3 272.2,97.2 272.7,97.2 273.2,97.1 273.7,96.9 274.2,96.6 274.7,96.3 275.2,95.9 275.7,95.4 276.2,94.9 276.7,94.4 277.2,94 277.7,93.5 278.2,92.9 278.7,92.4 279.2,91.7 279.7,90.8 280.2,89.4 280.7,89.2 281.2,91.4 281.7,93.9 282.2,96.8 282.5,97.7 284,100.3 285.5,97.7 287,98.5 288.5,95.5 290,96.8 291.5,93.4 293,94.8 294.5,90.5 296,92.1 297.5,88.5 299,91.9 300.5,88.8 302,94 303.5,91.9 305,96.5 306.5,93.4 308,97.8 309.5,94.6 311,99 312.5,95.7 314,100.1 315.5,97 317,101.5 318.5,98.4 320,102.8" fill="none" stroke="#d67a95" stroke-width="0.75" stroke-linejoin="round"/>
<rect x="194" y="266.3" width="24" height="86.5" fill="#d3d3d3" stroke="none" stroke-width="1"/>
<line x1="193.9" y1="266.3" x2="193.9" y2="353" stroke="#a2a2a2" stroke-width="1.0"/>
<line x1="193.9" y1="352.5" x2="362.6" y2="352.5" stroke="#8a8a8a" stroke-width="1.0"/>
<line x1="194" y1="352.8" x2="194" y2="351.3" stroke="#6b6b6b" stroke-width="0.6"/>
<line x1="218.1" y1="352.8" x2="218.1" y2="351.3" stroke="#6b6b6b" stroke-width="0.6"/>
<line x1="242.1" y1="352.8" x2="242.1" y2="351.3" stroke="#6b6b6b" stroke-width="0.6"/>
<line x1="266.1" y1="352.8" x2="266.1" y2="351.3" stroke="#6b6b6b" stroke-width="0.6"/>
<line x1="290.2" y1="352.8" x2="290.2" y2="351.3" stroke="#6b6b6b" stroke-width="0.6"/>
<line x1="314.2" y1="352.8" x2="314.2" y2="351.3" stroke="#6b6b6b" stroke-width="0.6"/>
<line x1="338.3" y1="352.8" x2="338.3" y2="351.3" stroke="#6b6b6b" stroke-width="0.6"/>
<line x1="362.4" y1="352.8" x2="362.4" y2="351.3" stroke="#6b6b6b" stroke-width="0.6"/>
<line x1="218" y1="266.3" x2="218" y2="352.8" stroke="#888" stroke-width="0.6" stroke-dasharray="0.6 1.2"/>
<line x1="338.2" y1="266.3" x2="338.2" y2="352.8" stroke="#999" stroke-width="0.6" stroke-dasharray="0.6 1.2"/>
<text x="182" y="277.4" font-size="7.8" text-anchor="middle" font-weight="normal" fill="#262626" stroke="#262626" stroke-width="0.22">30</text>
<polyline points="194,273.2 194.5,273.3 195,273.8 195.5,274.3 196,274.3 196.5,273.9 197,273.3 197.5,272.4 198,271.5 198.5,271.6 199,272.4 199.5,272.6 200,272.6 200.5,272.6 201,272.7 201.5,272.5 202,271.8 202.5,271.5 203,271.7 203.5,272.1 204,272.6 204.5,273.2 205,273.8 205.5,273.8 206,274 206.5,274.6 207,274.7 207.5,274.4 208,274.4 208.5,274.4 209,274.1 209.5,273.8 210,274.1 210.5,274.3 211,274.6 211.5,274.3 212,274.5 212.5,274.8 213,274.7 213.5,274.5 214,274.7 214.5,274.6 215,274.6 215.5,275 216,275.6 216.5,276 217,276 217.5,276 218,276 218.5,275.9 219,275.4 219.5,274.7 220,273.4 220.5,271.8 221,271 221.5,270.8 222,271.2 222.5,272.4 223,273.8 223.5,275.4 224,276.8 224.5,277.4 225,276.6 225.5,275.2 226,275 226.5,275.1 227,274.5 227.5,274.7 228,275.9 228.5,276.6 229,276.5 229.5,276.2 230,276.6 230.5,277.2 231,277.2 231.5,276.7 232,276 232.5,275.7 233,275.8 233.5,276 234,275.9 234.5,275.7 235,274.5 235.5,273.1 236,272.8 236.5,273.6 237,274.5 237.5,274.5 238,274.1 238.5,274.4 239,274.6 239.5,274.5 240,274.6 240.5,274.7 241,274.8 241.5,274.9 242,275.2 242.5,275.3 243,275 243.5,274.3 244,273.9 244.5,274.1 245,274.4 245.5,274.4 246,274.1 246.5,273.7 247,273.1 247.5,272.7 248,272.5 248.5,273.2 249,274.5 249.5,275.8 250,276 250.5,275.4 251,274.6 251.5,273.6 252,273.4 252.5,274.1 253,274.9 253.5,275.4 254,275.7 254.5,275.8 255,275.7 255.5,275.5 256,274.8 256.5,274.5 257,274.8 257.5,274.7 258,274.6 258.5,274.3 259,273.4 259.5,272.6 260,272.5 260.5,272.4 261,271.9 261.5,271.5 262,271.5 262.5,271.9 263,271.7 263.5,271.3 264,271.9 264.5,272.6 265,272.7 265.5,272.8 266,273.4 266.5,274 267,273.7 267.5,273.5 268,274.3 268.5,274.8 269,274.5 269.5,274.7 270,275 270.5,274.9 271,274.5 271.5,274.1 272,273.5 272.5,272.8 273,272.6 273.5,272.8 274,273.3 274.5,273.6 275,273.6 275.5,273.5 276,273.5 276.5,273.7 277,274 277.5,274.3 278,274.4 278.5,274.2 279,274 279.5,273.9 280,273.8 280.5,273.9 281,274.1 281.5,274.1 282,273.9 282.5,273.8 283,273.7 283.5,273.6 284,274 284.5,274.4 285,275 285.5,275.4 286,275.7 286.5,275.6 287,275 287.5,274.6 288,274.2 288.5,274.3 289,274.4 289.5,274.5 290,274.4 290.5,273.8 291,273.2 291.5,273.2 292,273.3 292.5,273.1 293,272.4 293.5,272.2 294,272.5 294.5,273 295,272.9 295.5,272.3 296,272.4 296.5,272.3 297,272.1 297.5,272.4 298,273 298.5,272.9 299,272.2 299.5,271.7 300,272.1 300.5,272.8 301,273.6 301.5,273.9 302,273.6 302.5,273.6 303,273.9 303.5,274.2 304,273.9 304.5,273.6 305,273.7 305.5,273.9 306,274 306.5,274.3 307,274.8 307.5,275.2 308,275.1 308.5,274.8 309,274.6 309.5,274.8 310,275.4 310.5,275.4 311,275 311.5,274.7 312,274.6 312.5,274.8 313,275.1 313.5,275 314,274.7 314.5,275 315,275.1 315.5,274.7 316,274.6 316.5,275.4 317,275.5 317.5,274.8 318,274.4 318.5,274.6 319,274.3 319.5,273.5 320,273.4 320.5,273.8 321,274.2 321.5,274.4 322,274.8 322.5,275 323,274.4 323.5,273.7 324,273.7 324.5,274.4 325,275 325.5,275.2 326,275.6 326.5,276.4 327,276.5 327.5,275.9 328,275.3 328.5,275.2 329,275.6 329.5,275.4 330,274.7 330.5,274 331,273.3 331.5,272.6 332,272.1 332.5,271.9 333,272.2 333.5,272.5 334,272.2 334.5,271.9 335,271.9 335.5,272.1 336,272.5 336.5,272.9 337,273.2 337.5,273.7 338,274.9 338.5,275.7 339,275.7 339.5,275.7 340,275.9 340.5,275.7 341,275.3 341.5,275 342,274.4 342.5,274.2 343,274.5 343.5,274.5 344,274.2 344.5,274.1 345,274.2 345.5,274.2 346,274 346.5,274.1 347,274.7 347.5,274.9 348,274.5 348.5,273.7 349,273.4 349.5,273.7 350,274.1 350.5,274.3 351,274.1 351.5,273.8 352,273.8 352.5,274 353,274.2 353.5,274.2 354,274.1 354.5,274 355,273.6 355.5,273.2 356,273.4 356.5,273.7 357,274 357.5,274.1 358,274 358.5,273.9 359,273.9 359.5,274 360,274 360.5,273.6 361,273.3 361.5,273.3 362,273.9" fill="none" stroke="#a9d27f" stroke-width="0.8" stroke-linejoin="round"/>
<rect x="217" y="275.5" width="2" height="2" fill="#ff2a2a" stroke="none" stroke-width="1"/>
<rect x="221" y="275.5" width="2" height="2" fill="#ff2a2a" stroke="none" stroke-width="1"/>
<rect x="225" y="275.5" width="2" height="2" fill="#ff2a2a" stroke="none" stroke-width="1"/>
<rect x="229" y="275.5" width="2" height="2" fill="#ff2a2a" stroke="none" stroke-width="1"/>
<rect x="233" y="275.5" width="2" height="2" fill="#ff2a2a" stroke="none" stroke-width="1"/>
<rect x="237" y="275.5" width="2" height="2" fill="#ff2a2a" stroke="none" stroke-width="1"/>
<rect x="241.1" y="275.5" width="2" height="2" fill="#ff2a2a" stroke="none" stroke-width="1"/>
<rect x="245.1" y="275.5" width="2" height="2" fill="#ff2a2a" stroke="none" stroke-width="1"/>
<rect x="249.1" y="275.5" width="2" height="2" fill="#ff2a2a" stroke="none" stroke-width="1"/>
<rect x="253.1" y="275.5" width="2" height="2" fill="#ff2a2a" stroke="none" stroke-width="1"/>
<rect x="257.1" y="275.5" width="2" height="2" fill="#ff2a2a" stroke="none" stroke-width="1"/>
<rect x="261.1" y="275.5" width="2" height="2" fill="#ff2a2a" stroke="none" stroke-width="1"/>
<rect x="265.1" y="275.5" width="2" height="2" fill="#ff2a2a" stroke="none" stroke-width="1"/>
<rect x="269.1" y="275.5" width="2" height="2" fill="#ff2a2a" stroke="none" stroke-width="1"/>
<rect x="273.1" y="275.5" width="2" height="2" fill="#ff2a2a" stroke="none" stroke-width="1"/>
<rect x="277.1" y="275.5" width="2" height="2" fill="#ff2a2a" stroke="none" stroke-width="1"/>
<rect x="281.1" y="275.5" width="2" height="2" fill="#ff2a2a" stroke="none" stroke-width="1"/>
<rect x="285.1" y="275.5" width="2" height="2" fill="#ff2a2a" stroke="none" stroke-width="1"/>
<rect x="289.1" y="275.5" width="2" height="2" fill="#ff2a2a" stroke="none" stroke-width="1"/>
<rect x="293.2" y="275.5" width="2" height="2" fill="#ff2a2a" stroke="none" stroke-width="1"/>
<rect x="297.2" y="275.5" width="2" height="2" fill="#ff2a2a" stroke="none" stroke-width="1"/>
<rect x="301.2" y="275.5" width="2" height="2" fill="#ff2a2a" stroke="none" stroke-width="1"/>
<rect x="305.2" y="275.5" width="2" height="2" fill="#ff2a2a" stroke="none" stroke-width="1"/>
<rect x="309.2" y="275.5" width="2" height="2" fill="#ff2a2a" stroke="none" stroke-width="1"/>
<rect x="313.2" y="275.5" width="2" height="2" fill="#ff2a2a" stroke="none" stroke-width="1"/>
<rect x="317.2" y="275.5" width="2" height="2" fill="#ff2a2a" stroke="none" stroke-width="1"/>
<rect x="321.2" y="275.5" width="2" height="2" fill="#ff2a2a" stroke="none" stroke-width="1"/>
<rect x="325.2" y="275.5" width="2" height="2" fill="#ff2a2a" stroke="none" stroke-width="1"/>
<rect x="329.2" y="275.5" width="2" height="2" fill="#ff2a2a" stroke="none" stroke-width="1"/>
<rect x="333.2" y="275.5" width="2" height="2" fill="#ff2a2a" stroke="none" stroke-width="1"/>
<text x="182" y="293.3" font-size="7.8" text-anchor="middle" font-weight="normal" fill="#262626" stroke="#262626" stroke-width="0.22">20</text>
<polyline points="194,289.7 194.5,289.5 195,289.4 195.5,289.7 196,290.2 196.5,290.2 197,289.8 197.5,289.4 198,289.2 198.5,289.2 199,289.1 199.5,288.8 200,288.8 200.5,289.2 201,289.4 201.5,289.3 202,289.2 202.5,289.4 203,289.3 203.5,289.2 204,289.5 204.5,289.7 205,289.6 205.5,289.1 206,288.9 206.5,288.8 207,288.9 207.5,288.8 208,288.1 208.5,287.5 209,287.6 209.5,287.8 210,287.8 210.5,288 211,288.8 211.5,289.6 212,289.9 212.5,289.7 213,289.6 213.5,289.8 214,290.3 214.5,290.4 215,290 215.5,289.8 216,290.2 216.5,290.1 217,290.3 217.5,290.3 218,290.4 218.5,290.8 219,290.8 219.5,290 220,288.2 220.5,286 221,284.2 221.5,283.9 222,285.3 222.5,287.6 223,290 223.5,291.1 224,291 224.5,290.1 225,288.6 225.5,287.7 226,287.6 226.5,288.1 227,288.4 227.5,288.2 228,288.2 228.5,288.6 229,289.4 229.5,290.5 230,291.3 230.5,290.9 231,289.8 231.5,289.1 232,289.3 232.5,289.6 233,290.1 233.5,290.7 234,291.3 234.5,291.4 235,291.2 235.5,291.4 236,291.7 236.5,291.8 237,291.4 237.5,290.8 238,290.4 238.5,290.8 239,291.8 239.5,292.4 240,292.6 240.5,292.8 241,292.6 241.5,291.9 242,291.1 242.5,290.6 243,290.6 243.5,289.9 244,289.3 244.5,289.7 245,290.3 245.5,290.7 246,290.7 246.5,290.4 247,289.8 247.5,289.5 248,289.4 248.5,289 249,287.4 249.5,286 250,286 250.5,286.9 251,288 251.5,288.6 252,288.5 252.5,288.4 253,288.8 253.5,289.1 254,289 254.5,288.5 255,287.7 255.5,287.4 256,288.2 256.5,289.5 257,290 257.5,290.2 258,290.2 258.5,290.1 259,290.1 259.5,290 260,290 260.5,289.9 261,289.9 261.5,289.7 262,289.2 262.5,289.1 263,289.2 263.5,288.9 264,288.7 264.5,288.9 265,289.1 265.5,289.3 266,289.8 266.5,290.7 267,291.3 267.5,291.8 268,292.1 268.5,292.1 269,291.9 269.5,291.9 270,292.1 270.5,292.2 271,292.1 271.5,291.5 272,290.8 272.5,290.4 273,289.4 273.5,288.1 274,288 274.5,288.7 275,289.4 275.5,289.5 276,289.6 276.5,289.6 277,289.9 277.5,290 278,289.8 278.5,289.5 279,288.9 279.5,288.7 280,288.8 280.5,289.1 281,289.3 281.5,289.3 282,289.5 282.5,290 283,290 283.5,289.5 284,289 284.5,288.4 285,287.3 285.5,286.6 286,287 286.5,288.1 287,288.7 287.5,289 288,289.3 288.5,289.3 289,289.3 289.5,289.6 290,290.1 290.5,290 291,289.1 291.5,288.6 292,288.5 292.5,288.6 293,289.2 293.5,289.7 294,290.3 294.5,290.9 295,291.1 295.5,290.7 296,290.1 296.5,289.4 297,288.6 297.5,288 298,287.8 298.5,288.7 299,290 299.5,290.7 300,291 300.5,290.9 301,291.2 301.5,291.7 302,291.1 302.5,289.9 303,288.8 303.5,288.2 304,288.1 304.5,288.4 305,289 305.5,289.9 306,291 306.5,291.8 307,291.7 307.5,291.6 308,291.2 308.5,290.7 309,290 309.5,289.5 310,289.4 310.5,289.7 311,290.3 311.5,291.3 312,291.8 312.5,292 313,292 313.5,291.8 314,291.6 314.5,291.7 315,291.5 315.5,290.8 316,290.9 316.5,291.9 317,292.5 317.5,292.5 318,292.7 318.5,292.6 319,292.2 319.5,291.5 320,290.6 320.5,290.2 321,289.9 321.5,289.6 322,289.5 322.5,289.8 323,290.3 323.5,290.8 324,291.4 324.5,291.6 325,291.2 325.5,290.9 326,290.8 326.5,290.4 327,289.8 327.5,289.1 328,288.5 328.5,288.6 329,289.3 329.5,289.8 330,289.9 330.5,290 331,290.3 331.5,290.4 332,290.2 332.5,289.6 333,289.1 333.5,288.6 334,288.3 334.5,288.6 335,289.3 335.5,289.7 336,289.9 336.5,290.2 337,290.5 337.5,290.6 338,290.4 338.5,290 339,289.3 339.5,288.6 340,288 340.5,287.9 341,288.2 341.5,288.5 342,288.7 342.5,288.8 343,288.8 343.5,288.7 344,288.2 344.5,288.3 345,288.9 345.5,288.7 346,288.5 346.5,288.6 347,288.7 347.5,289 348,289.6 348.5,289.8 349,289.7 349.5,290 350,290.1 350.5,289.7 351,289.5 351.5,289.5 352,289.6 352.5,289.8 353,290.1 353.5,290 354,289.6 354.5,289.3 355,289.1 355.5,288.5 356,287.5 356.5,286.7 357,286.5 357.5,286 358,285.5 358.5,285.4 359,285.5 359.5,285.7 360,286 360.5,286.5 361,286.7 361.5,286.4 362,286.6" fill="none" stroke="#a9d27f" stroke-width="0.8" stroke-linejoin="round"/>
<rect x="217" y="291.4" width="2" height="2" fill="#ff2a2a" stroke="none" stroke-width="1"/>
<rect x="223" y="291.4" width="2" height="2" fill="#ff2a2a" stroke="none" stroke-width="1"/>
<rect x="229" y="291.4" width="2" height="2" fill="#ff2a2a" stroke="none" stroke-width="1"/>
<rect x="235" y="291.4" width="2" height="2" fill="#ff2a2a" stroke="none" stroke-width="1"/>
<rect x="241.1" y="291.4" width="2" height="2" fill="#ff2a2a" stroke="none" stroke-width="1"/>
<rect x="247.1" y="291.4" width="2" height="2" fill="#ff2a2a" stroke="none" stroke-width="1"/>
<rect x="253.1" y="291.4" width="2" height="2" fill="#ff2a2a" stroke="none" stroke-width="1"/>
<rect x="259.1" y="291.4" width="2" height="2" fill="#ff2a2a" stroke="none" stroke-width="1"/>
<rect x="265.1" y="291.4" width="2" height="2" fill="#ff2a2a" stroke="none" stroke-width="1"/>
<rect x="271.1" y="291.4" width="2" height="2" fill="#ff2a2a" stroke="none" stroke-width="1"/>
<rect x="277.1" y="291.4" width="2" height="2" fill="#ff2a2a" stroke="none" stroke-width="1"/>
<rect x="283.1" y="291.4" width="2" height="2" fill="#ff2a2a" stroke="none" stroke-width="1"/>
<rect x="289.1" y="291.4" width="2" height="2" fill="#ff2a2a" stroke="none" stroke-width="1"/>
<rect x="295.2" y="291.4" width="2" height="2" fill="#ff2a2a" stroke="none" stroke-width="1"/>
<rect x="301.2" y="291.4" width="2" height="2" fill="#ff2a2a" stroke="none" stroke-width="1"/>
<rect x="307.2" y="291.4" width="2" height="2" fill="#ff2a2a" stroke="none" stroke-width="1"/>
<rect x="313.2" y="291.4" width="2" height="2" fill="#ff2a2a" stroke="none" stroke-width="1"/>
<rect x="319.2" y="291.4" width="2" height="2" fill="#ff2a2a" stroke="none" stroke-width="1"/>
<rect x="325.2" y="291.4" width="2" height="2" fill="#ff2a2a" stroke="none" stroke-width="1"/>
<rect x="331.2" y="291.4" width="2" height="2" fill="#ff2a2a" stroke="none" stroke-width="1"/>
<text x="182" y="309.3" font-size="7.8" text-anchor="middle" font-weight="normal" fill="#262626" stroke="#262626" stroke-width="0.22">10</text>
<polyline points="194,304 194.5,303.7 195,303.6 195.5,304.2 196,304.5 196.5,304.5 197,304.7 197.5,305.1 198,305.2 198.5,305.2 199,305 199.5,304.7 200,304.4 200.5,304.7 201,304.9 201.5,304.6 202,304.6 202.5,304.8 203,304.8 203.5,304.3 204,303.6 204.5,303.1 205,303 205.5,303.1 206,303.5 206.5,303.9 207,304.1 207.5,304 208,304.4 208.5,305.1 209,305.4 209.5,305.6 210,305.9 210.5,306.6 211,306.4 211.5,305.5 212,305.1 212.5,305.2 213,305.2 213.5,305.2 214,305.4 214.5,305.7 215,305.8 215.5,305.9 216,306.2 216.5,306.4 217,306.4 217.5,306.1 218,305.9 218.5,306 219,306.6 219.5,306.6 220,305.4 220.5,303.6 221,302.5 221.5,302.9 222,304.3 222.5,305.5 223,306.8 223.5,307.8 224,308.2 224.5,307.6 225,306.6 225.5,305.5 226,304.1 226.5,302.7 227,301.8 227.5,301.8 228,302.3 228.5,303.3 229,304.2 229.5,304.4 230,304.3 230.5,304.5 231,304.5 231.5,303.9 232,302.6 232.5,302 233,302 233.5,302.9 234,303.7 234.5,304.4 235,305 235.5,305.4 236,305.7 236.5,306.2 237,306.7 237.5,306.9 238,306.6 238.5,306.5 239,306.4 239.5,306.5 240,306.6 240.5,306.6 241,306.4 241.5,305.9 242,305.8 242.5,305.9 243,305.2 243.5,304.4 244,303.8 244.5,302.9 245,302.4 245.5,302.7 246,303.3 246.5,304.1 247,304.8 247.5,305.6 248,306.6 248.5,307.6 249,308.2 249.5,307.8 250,306.7 250.5,306.1 251,306.6 251.5,307 252,306.5 252.5,305.3 253,304.2 253.5,303.4 254,302.7 254.5,302.2 255,302.1 255.5,302.1 256,301.6 256.5,301.4 257,301.7 257.5,302.1 258,302.5 258.5,303.1 259,304.2 259.5,305.1 260,305.9 260.5,306.7 261,306.4 261.5,306 262,306 262.5,305.8 263,305.6 263.5,305.5 264,305.4 264.5,305.7 265,306 265.5,305.8 266,305.1 266.5,305 267,305.1 267.5,305 268,304.5 268.5,304.2 269,304.5 269.5,304.9 270,305.6 270.5,306.2 271,306.1 271.5,306.1 272,306.6 272.5,307 273,307 273.5,307.1 274,306.9 274.5,306.2 275,305.8 275.5,305.4 276,304.8 276.5,305 277,305.4 277.5,305.1 278,304.5 278.5,304.7 279,305.1 279.5,305 280,304.7 280.5,304.7 281,304.6 281.5,305.2 282,306.2 282.5,306.8 283,307.2 283.5,307.7 284,308.3 284.5,308.4 285,307.8 285.5,307.5 286,307.8 286.5,307.8 287,307.1 287.5,306.4 288,306.3 288.5,306.4 289,306.6 289.5,306.7 290,306.3 290.5,305.8 291,305.1 291.5,304.3 292,303.8 292.5,303.2 293,302.8 293.5,302.8 294,303.3 294.5,303.7 295,304.1 295.5,304.7 296,305.1 296.5,304.8 297,304.3 297.5,304.3 298,304.1 298.5,303.7 299,303.7 299.5,304.3 300,304.7 300.5,304.9 301,305.1 301.5,305.5 302,305.8 302.5,306.1 303,306.3 303.5,306.3 304,305.8 304.5,305.6 305,306.2 305.5,307 306,307.1 306.5,306.9 307,306.9 307.5,307.9 308,308.7 308.5,309 309,308.6 309.5,308.1 310,307.4 310.5,306.4 311,305.8 311.5,305.5 312,305.3 312.5,305.1 313,305.5 313.5,305.4 314,304.9 314.5,304.8 315,304.3 315.5,303.7 316,303.3 316.5,303 317,302.8 317.5,303.1 318,303.6 318.5,304.3 319,305.1 319.5,305.6 320,306 320.5,306.5 321,306.6 321.5,306.2 322,305.9 322.5,305.1 323,304.8 323.5,305.5 324,306 324.5,305.7 325,305.3 325.5,305.2 326,305 326.5,305 327,305.1 327.5,305 328,304.9 328.5,304.7 329,304.3 329.5,304.3 330,304.9 330.5,305.7 331,306.4 331.5,306.6 332,307.3 332.5,307.4 333,307 333.5,306.8 334,306.8 334.5,307 335,307 335.5,306.5 336,306.2 336.5,306 337,306 337.5,306 338,305.9 338.5,305.9 339,305.7 339.5,305.4 340,305.4 340.5,305.2 341,304.7 341.5,304.4 342,304.4 342.5,304.9 343,305.7 343.5,306.5 344,306.9 344.5,306.9 345,306.8 345.5,306.8 346,306.8 346.5,306.6 347,306.4 347.5,307 348,307.5 348.5,307.4 349,307 349.5,306.5 350,305.7 350.5,305.4 351,305.5 351.5,305.7 352,305.5 352.5,305.3 353,305.2 353.5,305.1 354,304.8 354.5,304.4 355,303.3 355.5,302.4 356,303 356.5,304.2 357,304.5 357.5,304.7 358,304.8 358.5,304.6 359,304.4 359.5,304.8 360,305.2 360.5,305.2 361,304.9 361.5,305 362,305.7" fill="none" stroke="#a9d27f" stroke-width="0.8" stroke-linejoin="round"/>
<rect x="217" y="307.4" width="2" height="2" fill="#ff2a2a" stroke="none" stroke-width="1"/>
<rect x="229" y="307.4" width="2" height="2" fill="#ff2a2a" stroke="none" stroke-width="1"/>
<rect x="241.1" y="307.4" width="2" height="2" fill="#ff2a2a" stroke="none" stroke-width="1"/>
<rect x="253.1" y="307.4" width="2" height="2" fill="#ff2a2a" stroke="none" stroke-width="1"/>
<rect x="265.1" y="307.4" width="2" height="2" fill="#ff2a2a" stroke="none" stroke-width="1"/>
<rect x="277.1" y="307.4" width="2" height="2" fill="#ff2a2a" stroke="none" stroke-width="1"/>
<rect x="289.1" y="307.4" width="2" height="2" fill="#ff2a2a" stroke="none" stroke-width="1"/>
<rect x="301.2" y="307.4" width="2" height="2" fill="#ff2a2a" stroke="none" stroke-width="1"/>
<rect x="313.2" y="307.4" width="2" height="2" fill="#ff2a2a" stroke="none" stroke-width="1"/>
<rect x="325.2" y="307.4" width="2" height="2" fill="#ff2a2a" stroke="none" stroke-width="1"/>
<text x="182" y="325.2" font-size="7.8" text-anchor="middle" font-weight="normal" fill="#262626" stroke="#262626" stroke-width="0.22">5</text>
<polyline points="194,321.1 194.5,320.9 195,320.6 195.5,320.3 196,319.9 196.5,319.6 197,319.4 197.5,319.3 198,319.5 198.5,319.8 199,320.2 199.5,319.8 200,318.9 200.5,318.5 201,318.9 201.5,319.2 202,319.1 202.5,318.8 203,318.8 203.5,319.2 204,319.7 204.5,320.4 205,320.5 205.5,320.5 206,320.7 206.5,321.1 207,321.1 207.5,320.6 208,320.2 208.5,320.2 209,320.4 209.5,320.6 210,320.8 210.5,320.4 211,319.7 211.5,319.6 212,319.5 212.5,319.1 213,319.2 213.5,319.9 214,320.4 214.5,320.5 215,320.8 215.5,321 216,320.8 216.5,321.4 217,322 217.5,321.9 218,321.7 218.5,321.6 219,322 219.5,324.3 220,326.9 220.5,325.6 221,322 221.5,319.6 222,317.7 222.5,316.2 223,315.8 223.5,315.8 224,315.8 224.5,316.3 225,317.1 225.5,318 226,318.8 226.5,319.3 227,319.9 227.5,320.6 228,320.7 228.5,320.4 229,320.4 229.5,320.4 230,320.5 230.5,320.7 231,320.8 231.5,321.1 232,321.5 232.5,322 233,322.3 233.5,321.6 234,321.3 234.5,321.5 235,321.7 235.5,321.4 236,321.3 236.5,321.4 237,321.6 237.5,321.5 238,321.2 238.5,320.9 239,320.9 239.5,321 240,321.2 240.5,321.3 241,321 241.5,321.1 242,321.7 242.5,322.2 243,322.2 243.5,322.8 244,323.9 244.5,324.5 245,324.4 245.5,323.5 246,322.8 246.5,322.3 247,321.4 247.5,320.8 248,320.3 248.5,320.6 249,321.6 249.5,322.3 250,322.6 250.5,322.8 251,323 251.5,323.3 252,323.2 252.5,323.3 253,323 253.5,322.4 254,322.4 254.5,322.9 255,323 255.5,323.2 256,322.9 256.5,322.3 257,321.9 257.5,321.5 258,321 258.5,320.9 259,320.8 259.5,320.6 260,320.1 260.5,319.7 261,319.7 261.5,319.8 262,319.4 262.5,319.3 263,320.1 263.5,320.5 264,320.6 264.5,320.6 265,320.5 265.5,320.5 266,320.8 266.5,321.6 267,322 267.5,322.6 268,323.7 268.5,324.7 269,324.4 269.5,322.9 270,321.5 270.5,320.7 271,320.3 271.5,319.7 272,318.6 272.5,317.5 273,316.8 273.5,316.7 274,317.1 274.5,318 275,319 275.5,319.6 276,319.7 276.5,320.1 277,320.6 277.5,321.1 278,321.5 278.5,321.6 279,321.7 279.5,321.7 280,321.4 280.5,321.4 281,321.4 281.5,321.7 282,321.9 282.5,322.1 283,322.2 283.5,322.5 284,322.6 284.5,322.9 285,323.7 285.5,324 286,323.7 286.5,323.2 287,322.8 287.5,322.3 288,321.6 288.5,321.2 289,321.4 289.5,321.3 290,320.9 290.5,321.1 291,322.1 291.5,323.1 292,324 292.5,324.7 293,324.4 293.5,323.5 294,322.4 294.5,321.3 295,320.6 295.5,319.8 296,319.1 296.5,318.4 297,317.6 297.5,317.6 298,318.8 298.5,319.7 299,319.6 299.5,319.6 300,320.3 300.5,320.6 301,320.7 301.5,320.9 302,321 302.5,321.4 303,322.1 303.5,322.6 304,322.7 304.5,322.6 305,322.3 305.5,322.4 306,322.8 306.5,322.8 307,322.7 307.5,322.5 308,322.3 308.5,322.7 309,323 309.5,322.6 310,321.7 310.5,321.4 311,321.3 311.5,321.1 312,320.7 312.5,320 313,320 313.5,320.3 314,320.2 314.5,319.8 315,320.7 315.5,322.3 316,323.7 316.5,324.5 317,324.6 317.5,323.7 318,322.1 318.5,321 319,320.8 319.5,320.9 320,320.8 320.5,320.4 321,320.2 321.5,320.3 322,320.3 322.5,320.6 323,321.3 323.5,321.7 324,321.6 324.5,321.2 325,321.7 325.5,322.5 326,322.1 326.5,321.4 327,321.4 327.5,321.4 328,321.5 328.5,321.7 329,322.1 329.5,322.2 330,322.3 330.5,322.4 331,322.3 331.5,322 332,322 332.5,322.1 333,322.3 333.5,322.3 334,321.8 334.5,321.2 335,321 335.5,321.1 336,321.2 336.5,321.5 337,321.5 337.5,321 338,320.4 338.5,320.3 339,320.3 339.5,320.4 340,320.9 340.5,321.1 341,321.1 341.5,321.1 342,321.6 342.5,321.8 343,321.5 343.5,321.4 344,320.9 344.5,320.5 345,320.9 345.5,321.5 346,322.1 346.5,322.4 347,322.4 347.5,322.4 348,322.2 348.5,322.4 349,322.6 349.5,322.8 350,323 350.5,323 351,322.8 351.5,322.3 352,322.1 352.5,321.5 353,320.9 353.5,320.6 354,320.4 354.5,320.5 355,320.8 355.5,320.7 356,320.7 356.5,321.2 357,321.7 357.5,321.8 358,321.4 358.5,321.1 359,320.9 359.5,321.2 360,321.5 360.5,321.9 361,322.3 361.5,322 362,321.4" fill="none" stroke="#a9d27f" stroke-width="0.8" stroke-linejoin="round"/>
<rect x="217" y="323.4" width="2" height="2" fill="#ff2a2a" stroke="none" stroke-width="1"/>
<rect x="241.1" y="323.4" width="2" height="2" fill="#ff2a2a" stroke="none" stroke-width="1"/>
<rect x="265.1" y="323.4" width="2" height="2" fill="#ff2a2a" stroke="none" stroke-width="1"/>
<rect x="289.1" y="323.4" width="2" height="2" fill="#ff2a2a" stroke="none" stroke-width="1"/>
<rect x="313.2" y="323.4" width="2" height="2" fill="#ff2a2a" stroke="none" stroke-width="1"/>
<text x="182" y="341.2" font-size="7.8" text-anchor="middle" font-weight="normal" fill="#262626" stroke="#262626" stroke-width="0.22">2</text>
<polyline points="194,337.4 194.5,337.1 195,337.1 195.5,336.8 196,336.4 196.5,336.2 197,336.4 197.5,336.8 198,337.1 198.5,337.1 199,337.3 199.5,337.5 200,338 200.5,338.3 201,338.7 201.5,339 202,339.2 202.5,339.3 203,339 203.5,338.3 204,337.8 204.5,338.1 205,338.2 205.5,338.1 206,338 206.5,338.1 207,337.7 207.5,337.1 208,337.1 208.5,337.6 209,337.6 209.5,337.4 210,337.3 210.5,336.8 211,336.3 211.5,336 212,335.7 212.5,335.6 213,335.6 213.5,335.6 214,336 214.5,337 215,336.8 215.5,336.2 216,336.1 216.5,336.1 217,335.7 217.5,335.8 218,336.1 218.5,336 219,336.9 219.5,340 220,343.4 220.5,342.2 221,338.1 221.5,335.4 222,333.6 222.5,331.9 223,331.4 223.5,332.1 224,333 224.5,334.5 225,335.9 225.5,336.5 226,336.9 226.5,337.5 227,338.1 227.5,337.8 228,337.2 228.5,336.7 229,336.6 229.5,336.4 230,336.1 230.5,336 231,335.8 231.5,335.2 232,334.9 232.5,335.1 233,335.2 233.5,334.6 234,334.4 234.5,335.2 235,335.7 235.5,335.7 236,335.8 236.5,336.3 237,336.8 237.5,336.9 238,337.6 238.5,338.6 239,338.1 239.5,337.6 240,338.1 240.5,338.2 241,337.2 241.5,336.3 242,335.7 242.5,335.5 243,335.7 243.5,336 244,335.8 244.5,335.4 245,335.5 245.5,335.4 246,334.9 246.5,334.7 247,334.9 247.5,335.3 248,335.1 248.5,334.6 249,334.9 249.5,335.6 250,336.2 250.5,336.6 251,336.9 251.5,336.9 252,337 252.5,337.5 253,337.8 253.5,338.1 254,338.2 254.5,338 255,338.1 255.5,338 256,337.7 256.5,337.5 257,337.3 257.5,337.3 258,337.6 258.5,337.5 259,337.2 259.5,337.2 260,337.3 260.5,337.3 261,337.2 261.5,337.1 262,336.9 262.5,336.7 263,336.5 263.5,336.6 264,337 264.5,337.3 265,337.8 265.5,338.2 266,338.4 266.5,338.5 267,338.8 267.5,339.3 268,339.6 268.5,339.3 269,338.9 269.5,338.3 270,338 270.5,337.6 271,337.2 271.5,337.4 272,337.9 272.5,338.3 273,338.4 273.5,338.2 274,337.9 274.5,337.6 275,337.5 275.5,338 276,338.1 276.5,337.5 277,337.1 277.5,337.4 278,337.7 278.5,337.5 279,337.6 279.5,338.5 280,340.2 280.5,341.5 281,341.4 281.5,339.8 282,338.4 282.5,338.3 283,338.1 283.5,337.4 284,336.6 284.5,335.7 285,335.1 285.5,334.8 286,335.1 286.5,335.9 287,336.6 287.5,336.9 288,337 288.5,337.2 289,337.3 289.5,337.4 290,337.5 290.5,337.5 291,337.6 291.5,337.5 292,337.3 292.5,337.2 293,336.8 293.5,335.8 294,335 294.5,334.8 295,335.2 295.5,336 296,336.5 296.5,336.9 297,337.1 297.5,336.9 298,336.8 298.5,336.7 299,336.7 299.5,337.1 300,337.3 300.5,337.3 301,337.1 301.5,337 302,337.1 302.5,337.5 303,337.8 303.5,337.7 304,337.5 304.5,337.3 305,337.1 305.5,337 306,337.2 306.5,337.7 307,337.7 307.5,337.7 308,338.3 308.5,338.1 309,337.3 309.5,336.6 310,336.5 310.5,336.6 311,336.9 311.5,336.9 312,336.7 312.5,336.2 313,336.1 313.5,336.5 314,337 314.5,337 315,337.4 315.5,338.1 316,338.2 316.5,338.2 317,338.4 317.5,338.8 318,338.7 318.5,338.2 319,338.1 319.5,338 320,337.7 320.5,337.2 321,337 321.5,337.1 322,337.1 322.5,337 323,336.7 323.5,336.5 324,336.7 324.5,337.1 325,337.2 325.5,336.7 326,336.8 326.5,337.4 327,337.6 327.5,337.6 328,337.5 328.5,336.9 329,336.6 329.5,336.9 330,337.7 330.5,338.3 331,338.5 331.5,338.5 332,338.4 332.5,337.8 333,337 333.5,336.6 334,336.6 334.5,336.5 335,336.4 335.5,336.6 336,336.7 336.5,336.3 337,336.3 337.5,336.7 338,336.7 338.5,336.6 339,337.1 339.5,337.2 340,336.8 340.5,336.7 341,337.2 341.5,337.5 342,337.3 342.5,337.2 343,337.3 343.5,337 344,337.1 344.5,337.8 345,337.9 345.5,337.3 346,336.6 346.5,336.4 347,336.5 347.5,336.9 348,336.9 348.5,337.4 349,337.9 349.5,338.1 350,338.4 350.5,338.9 351,339.3 351.5,339.9 352,340.3 352.5,340.4 353,340.2 353.5,339.6 354,339.3 354.5,338.9 355,338.4 355.5,338 356,338.1 356.5,338.3 357,338.1 357.5,338.2 358,338 358.5,337.8 359,337.4 359.5,337.2 360,336.9 360.5,337.1 361,337.9 361.5,338.3 362,337.9" fill="none" stroke="#a9d27f" stroke-width="0.8" stroke-linejoin="round"/>
<rect x="217" y="339.3" width="2" height="2" fill="#ff2a2a" stroke="none" stroke-width="1"/>
<rect x="277.1" y="339.3" width="2" height="2" fill="#ff2a2a" stroke="none" stroke-width="1"/>
<rect x="212.7" y="314.5" width="16.8" height="36.5" fill="none" stroke="#c9950c" stroke-width="1.3"/>
<text x="169.8" y="263.1" font-size="12.5" text-anchor="start" font-weight="bold" fill="#000">Cii</text>
<text x="289.5" y="261" font-size="8.35" text-anchor="middle" font-weight="normal" fill="#262626" stroke="#262626" stroke-width="0.22">Auditory Cortex (AC)</text>
<text x="173.5" y="302" font-size="8.3" text-anchor="middle" font-weight="normal" fill="#262626" transform="rotate(-90 173.5 302)" stroke="#262626" stroke-width="0.22">Hz</text>
<text x="194" y="365.3" font-size="7.8" text-anchor="middle" font-weight="normal" fill="#262626" stroke="#262626" stroke-width="0.22">-0.2</text>
<text x="218.1" y="365.3" font-size="7.8" text-anchor="middle" font-weight="normal" fill="#262626" stroke="#262626" stroke-width="0.22">0</text>
<text x="242.1" y="365.3" font-size="7.8" text-anchor="middle" font-weight="normal" fill="#262626" stroke="#262626" stroke-width="0.22">0.2</text>
<text x="266.1" y="365.3" font-size="7.8" text-anchor="middle" font-weight="normal" fill="#262626" stroke="#262626" stroke-width="0.22">0.4</text>
<text x="290.2" y="365.3" font-size="7.8" text-anchor="middle" font-weight="normal" fill="#262626" stroke="#262626" stroke-width="0.22">0.6</text>
<text x="314.2" y="365.3" font-size="7.8" text-anchor="middle" font-weight="normal" fill="#262626" stroke="#262626" stroke-width="0.22">0.8</text>
<text x="338.3" y="365.3" font-size="7.8" text-anchor="middle" font-weight="normal" fill="#262626" stroke="#262626" stroke-width="0.22">1</text>
<text x="362.4" y="365.3" font-size="7.8" text-anchor="middle" font-weight="normal" fill="#262626" stroke="#262626" stroke-width="0.22">1.2</text>
<text x="277.3" y="375.4" font-size="8.3" text-anchor="middle" font-weight="normal" fill="#262626" stroke="#262626" stroke-width="0.22">Time (s)</text>
<rect x="376.8" y="7.2" width="14.5" height="103.6" fill="#bf9000" stroke="none" stroke-width="1"/>
<rect x="376.8" y="113.2" width="14.5" height="257.6" fill="#8faadc" stroke="none" stroke-width="1"/>
<text x="386.8" y="59.2" font-size="7.95" text-anchor="middle" font-weight="bold" fill="#000" transform="rotate(-90 386.8 59.2)">ONSET</text>
<text x="386.8" y="242.3" font-size="8.48" text-anchor="middle" font-weight="bold" fill="#000" transform="rotate(-90 386.8 242.3)">AUDITORY STEADY-STATE RESPONSE (ASSR)</text>
<line x1="419.5" y1="9" x2="419.5" y2="89.1" stroke="#8a8a8a" stroke-width="1.0"/>
<line x1="419.6" y1="89.5" x2="537.9" y2="89.5" stroke="#8a8a8a" stroke-width="1.0"/>
<line x1="419.6" y1="18.8" x2="421.1" y2="18.8" stroke="#6b6b6b" stroke-width="0.6"/>
<text x="416.5" y="21.7" font-size="7.8" text-anchor="end" font-weight="normal" fill="#262626" stroke="#262626" stroke-width="0.22">2</text>
<line x1="419.6" y1="36.4" x2="421.1" y2="36.4" stroke="#6b6b6b" stroke-width="0.6"/>
<text x="416.5" y="39.3" font-size="7.8" text-anchor="end" font-weight="normal" fill="#262626" stroke="#262626" stroke-width="0.22">0</text>
<line x1="419.6" y1="54" x2="421.1" y2="54" stroke="#6b6b6b" stroke-width="0.6"/>
<text x="416.5" y="56.9" font-size="7.8" text-anchor="end" font-weight="normal" fill="#262626" stroke="#262626" stroke-width="0.22">-2</text>
<line x1="419.6" y1="71.5" x2="421.1" y2="71.5" stroke="#6b6b6b" stroke-width="0.6"/>
<text x="416.5" y="74.4" font-size="7.8" text-anchor="end" font-weight="normal" fill="#262626" stroke="#262626" stroke-width="0.22">-4</text>
<line x1="419.6" y1="89.1" x2="421.1" y2="89.1" stroke="#6b6b6b" stroke-width="0.6"/>
<text x="416.5" y="92" font-size="7.8" text-anchor="end" font-weight="normal" fill="#262626" stroke="#262626" stroke-width="0.22">-6</text>
<line x1="420.3" y1="89.1" x2="420.3" y2="87.6" stroke="#6b6b6b" stroke-width="0.6"/>
<text x="420.3" y="100" font-size="7.8" text-anchor="middle" font-weight="normal" fill="#262626" stroke="#262626" stroke-width="0.22">-0.05</text>
<line x1="449.6" y1="89.1" x2="449.6" y2="87.6" stroke="#6b6b6b" stroke-width="0.6"/>
<text x="449.6" y="100" font-size="7.8" text-anchor="middle" font-weight="normal" fill="#262626" stroke="#262626" stroke-width="0.22">0</text>
<line x1="478.9" y1="89.1" x2="478.9" y2="87.6" stroke="#6b6b6b" stroke-width="0.6"/>
<text x="478.9" y="100" font-size="7.8" text-anchor="middle" font-weight="normal" fill="#262626" stroke="#262626" stroke-width="0.22">0.05</text>
<line x1="508.2" y1="89.1" x2="508.2" y2="87.6" stroke="#6b6b6b" stroke-width="0.6"/>
<text x="508.2" y="100" font-size="7.8" text-anchor="middle" font-weight="normal" fill="#262626" stroke="#262626" stroke-width="0.22">0.1</text>
<line x1="537.5" y1="89.1" x2="537.5" y2="87.6" stroke="#6b6b6b" stroke-width="0.6"/>
<text x="537.5" y="100" font-size="7.8" text-anchor="middle" font-weight="normal" fill="#262626" stroke="#262626" stroke-width="0.22">0.15</text>
<text x="478" y="111.1" font-size="8.5" text-anchor="middle" font-weight="normal" fill="#262626" stroke="#262626" stroke-width="0.22">Time (s)</text>
<text x="404" y="44.1" font-size="8.3" text-anchor="middle" font-weight="normal" fill="#262626" transform="rotate(-90 404 44.1)" stroke="#262626" stroke-width="0.22">μV</text>
<text x="399" y="16.6" font-size="12.2" text-anchor="start" font-weight="bold" fill="#000">D</text>
<line x1="449.6" y1="9" x2="449.6" y2="89.1" stroke="#999" stroke-width="0.6" stroke-dasharray="0.6 1.2"/>
<polyline points="419.6,34.4 420,34.8 420.4,35.3 420.8,35.2 421.2,34.6 421.6,34.2 422,34 422.4,33.7 422.8,33.1 423.2,32.6 423.6,32.3 424,31.7 424.4,30.6 424.8,29.5 425.2,28.8 425.6,28.3 426,28.2 426.4,28.5 426.8,28.9 427.2,29.4 427.6,29.7 428,29.9 428.4,30.1 428.8,30.3 429.2,30.9 429.6,31.6 430,32 430.4,32 430.8,32 431.2,32.3 431.6,32.8 432,32.9 432.4,32.7 432.8,32.4 433.2,32.2 433.6,31.9 434,31.7 434.4,31.7 434.8,31.8 435.2,32.1 435.6,32.3 436,32.1 436.4,31.6 436.8,31.4 437.2,31.5 437.6,31.5 438,31.2 438.4,31.3 438.8,31.5 439.2,31.4 439.6,31.1 440,30.9 440.4,31.1 440.8,31.5 441.2,31.6 441.6,31.6 442,31.9 442.4,32.4 442.8,32.9 443.2,33.5 443.6,33.5 444,33.2 444.4,33.2 444.8,33.5 445.2,33.6 445.6,34 446,34.3 446.4,34.5 446.8,34.9 447.2,35.4 447.6,35.7 448,36.2 448.4,36.7 448.8,36.9 449.2,36.9 449.6,37.1 450,36.8 450.4,36.1 450.8,35 451.2,33.6 451.6,32.3 452,31.3 452.4,29.6 452.8,27 453.2,24.7 453.6,23.4 454,23.6 454.4,24.4 454.8,25.6 455.2,27.3 455.6,29.1 456,31.1 456.4,33.1 456.8,35.3 457.2,37.8 457.6,40.2 458,42.3 458.4,44.3 458.8,46.3 459.2,48.4 459.6,50.2 460,51.6 460.4,53.3 460.8,55.5 461.2,58.2 461.6,61 462,63.6 462.4,65.9 462.8,68.1 463.2,70.3 463.6,72.3 464,74.3 464.4,76 464.8,77.4 465.2,77.7 465.6,77.3 466,76.7 466.4,75.6 466.8,74 467.2,72.2 467.6,70.2 468,67.4 468.4,63.9 468.8,60.1 469.2,56.8 469.6,53.4 470,49.4 470.4,45 470.8,40.4 471.2,36.2 471.6,32.9 472,30.2 472.4,28 472.8,25.7 473.2,23.5 473.6,21.7 474,20.7 474.4,19.9 474.8,19.2 475.2,19 475.6,18.7 476,18.3 476.4,18.1 476.8,17.8 477.2,17.6 477.6,17.5 478,17.3 478.4,16.8 478.8,16.6 479.2,16.9 479.6,17.2 480,17.4 480.4,17.6 480.8,18 481.2,18.4 481.6,18.8 482,19.4 482.4,19.8 482.8,20.3 483.2,21.2 483.6,21.9 484,22 484.4,22.2 484.8,23 485.2,23.8 485.6,24.4 486,24.8 486.4,25.2 486.8,25.6 487.2,25.8 487.6,26.3 488,26.7 488.4,27 488.8,27.6 489.2,28.5 489.6,29.3 490,29.8 490.4,29.9 490.8,29.8 491.2,30.1 491.6,30.4 492,30.5 492.4,30.8 492.8,31.5 493.2,31.8 493.6,31.5 494,31.1 494.4,31.1 494.8,31.4 495.2,31.8 495.6,32 496,32.4 496.4,32.7 496.8,33 497.2,33.5 497.6,33.9 498,33.8 498.4,33.5 498.8,33.5 499.2,33.6 499.6,33.7 500,33.7 500.4,33.7 500.8,33.8 501.2,34 501.6,34.3 502,34.4 502.4,34.5 502.8,35 503.2,35.3 503.6,35.2 504,35.1 504.4,35.5 504.8,36.4 505.2,37.1 505.6,37.3 506,37.3 506.4,37.4 506.8,37.6 507.2,37.9 507.6,38.1 508,38.2 508.4,38.2 508.8,38.3 509.2,38.6 509.6,39.1 510,39.8 510.4,40.4 510.8,40.6 511.2,40.6 511.6,40.9 512,41.4 512.4,41.9 512.8,42.3 513.2,42.3 513.6,42.5 514,42.6 514.4,42.6 514.8,42.7 515.2,42.9 515.6,43 516,43.1 516.4,43.2 516.8,43 517.2,42.9 517.6,42.8 518,42.4 518.4,42 518.8,41.4 519.2,41.1 519.6,41 520,40.8 520.4,40.7 520.8,40.9 521.2,40.6 521.6,40 522,39.4 522.4,38.9 522.8,38.3 523.2,37.7 523.6,36.9 524,36.5 524.4,36.4 524.8,35.6 525.2,34.7 525.6,34.2 526,33.9 526.4,34 526.8,33.8 527.2,33.9 527.6,34.3 528,34.6 528.4,34.7 528.8,35.4 529.2,36.1 529.6,36.6 530,36.9 530.4,36.5 530.8,35.8 531.2,35.5 531.6,35.3 532,34.9 532.4,34.4 532.8,34.5 533.2,35 533.6,35.3 534,35.3 534.4,35.4 534.8,35.8 535.2,35.9 535.6,35.8 536,35.8 536.4,35.7 536.8,35.5 537.2,34.8 537.6,33.8" fill="none" stroke="#8cc654" stroke-width="1.0" stroke-linejoin="round"/>
<polyline points="419.6,34.7 420,34.5 420.4,34.3 420.8,34 421.2,33.8 421.6,33.5 422,33.3 422.4,33.1 422.8,32.8 423.2,32.4 423.6,31.9 424,31.4 424.4,30.8 424.8,30.1 425.2,29.6 425.6,29.4 426,29.5 426.4,29.3 426.8,29.2 427.2,29.5 427.6,30 428,30.4 428.4,30.8 428.8,31.3 429.2,31.8 429.6,32.1 430,32.3 430.4,32.3 430.8,32.5 431.2,32.9 431.6,33.4 432,33.7 432.4,33.6 432.8,33.5 433.2,33.2 433.6,33.3 434,33.6 434.4,34 434.8,34.7 435.2,35 435.6,34.8 436,34.3 436.4,33.8 436.8,33.8 437.2,34.1 437.6,34.3 438,34.3 438.4,34.5 438.8,34.7 439.2,34.6 439.6,34.9 440,35.5 440.4,35.5 440.8,34.8 441.2,34.4 441.6,34.9 442,35.4 442.4,35.6 442.8,35.6 443.2,35.8 443.6,36.2 444,36.5 444.4,36.8 444.8,37.5 445.2,38.3 445.6,38.8 446,39.2 446.4,39.1 446.8,38.9 447.2,38.8 447.6,39.2 448,39.6 448.4,39.8 448.8,39.9 449.2,39.9 449.6,40 450,39.8 450.4,39.2 450.8,37.9 451.2,36.1 451.6,34.3 452,32.6 452.4,29.6 452.8,25.6 453.2,22.5 453.6,22 454,23.3 454.4,25.5 454.8,28 455.2,30.6 455.6,33.1 456,35.4 456.4,37.1 456.8,38.7 457.2,40.4 457.6,41.8 458,42.9 458.4,43.9 458.8,44.3 459.2,44.2 459.6,44.3 460,44.5 460.4,44.3 460.8,43.8 461.2,43.4 461.6,43.2 462,43.2 462.4,43.2 462.8,42.9 463.2,42.4 463.6,42.1 464,41.8 464.4,41.6 464.8,41.2 465.2,40.5 465.6,39.5 466,38.9 466.4,38.8 466.8,38.9 467.2,38.9 467.6,38.7 468,38.3 468.4,37.8 468.8,37.7 469.2,37.6 469.6,37.3 470,37.2 470.4,37.1 470.8,36.8 471.2,36.5 471.6,36.3 472,35.7 472.4,35.1 472.8,34.8 473.2,34.8 473.6,35 474,35.1 474.4,34.8 474.8,34.3 475.2,34.1 475.6,34.3 476,34.6 476.4,34.9 476.8,35 477.2,35 477.6,35 478,35.1 478.4,35.2 478.8,35.4 479.2,35.5 479.6,35.5 480,35.5 480.4,35.5 480.8,35.5 481.2,35.7 481.6,36.1 482,36.4 482.4,36.5 482.8,36.6 483.2,36.4 483.6,36.4 484,36.4 484.4,36.1 484.8,35.6 485.2,35.1 485.6,35 486,35.2 486.4,35.4 486.8,35.4 487.2,35.3 487.6,35.4 488,35.8 488.4,36.4 488.8,37.1 489.2,37.7 489.6,37.9 490,37.8 490.4,37.8 490.8,38.1 491.2,38.1 491.6,37.9 492,37.5 492.4,37.3 492.8,37.2 493.2,37.1 493.6,36.8 494,36.4 494.4,36 494.8,35.8 495.2,35.6 495.6,35.4 496,35.3 496.4,35.4 496.8,35.3 497.2,34.9 497.6,34.5 498,34.2 498.4,33.9 498.8,33.8 499.2,33.8 499.6,33.6 500,33.3 500.4,33.3 500.8,33.5 501.2,33.5 501.6,33.2 502,33.1 502.4,33.1 502.8,33.4 503.2,34 503.6,34.4 504,34.7 504.4,34.8 504.8,34.8 505.2,34.9 505.6,34.6 506,34.2 506.4,34.1 506.8,33.8 507.2,33.4 507.6,33.2 508,33.1 508.4,32.7 508.8,32.1 509.2,32 509.6,32 510,31.6 510.4,31.5 510.8,31.8 511.2,31.7 511.6,31.4 512,31.4 512.4,31.5 512.8,31.6 513.2,31.9 513.6,32.3 514,32.6 514.4,32.2 514.8,31.8 515.2,31.6 515.6,31.6 516,31.6 516.4,31.1 516.8,30.3 517.2,30 517.6,30.4 518,30.7 518.4,30.6 518.8,30.5 519.2,30.3 519.6,30.3 520,30.6 520.4,30.9 520.8,30.9 521.2,31 521.6,31.2 522,31.3 522.4,31.3 522.8,31.4 523.2,31.3 523.6,30.9 524,30.3 524.4,29.9 524.8,29.6 525.2,29.2 525.6,28.7 526,28.4 526.4,28.4 526.8,28.7 527.2,29.4 527.6,29.7 528,29.7 528.4,30.1 528.8,30.7 529.2,31 529.6,31.8 530,33 530.4,34 530.8,34.6 531.2,34.7 531.6,34.5 532,34.2 532.4,34.1 532.8,33.8 533.2,33.4 533.6,33.2 534,33.3 534.4,33.3 534.8,33.1 535.2,32.9 535.6,33.1 536,33.6 536.4,34 536.8,34.4 537.2,35.2 537.6,36" fill="none" stroke="#c8324f" stroke-width="1.0" stroke-linejoin="round"/>
<line x1="481.6" y1="19.5" x2="481.6" y2="75" stroke="#000" stroke-width="0.8"/>
<polygon points="481.6,17 480,20.5 483.2,20.5" fill="#000"/>
<polygon points="481.6,77.6 480,74.1 483.2,74.1" fill="#000"/>
<line x1="503.3" y1="62" x2="512.5" y2="62" stroke="#8cc654" stroke-width="1.3"/>
<text x="515.2" y="64.9" font-size="8.1" text-anchor="start" font-weight="normal" fill="#8cc654" stroke="#8cc654" stroke-width="0.22">AC</text>
<line x1="503.3" y1="75.6" x2="512.5" y2="75.6" stroke="#c8324f" stroke-width="1.3"/>
<text x="516.6" y="78.5" font-size="8.1" text-anchor="start" font-weight="normal" fill="#c8324f" stroke="#c8324f" stroke-width="0.22">IC</text>
<text x="396.8" y="122.9" font-size="12.4" text-anchor="start" font-weight="bold" fill="#000">Ei</text>
<line x1="432.5" y1="124.7" x2="432.5" y2="238.6" stroke="#8a8a8a" stroke-width="1.0"/>
<line x1="432.8" y1="238.5" x2="468.5" y2="238.5" stroke="#8a8a8a" stroke-width="1.0"/>
<line x1="441.7" y1="124.7" x2="441.7" y2="237.7" stroke="#999" stroke-width="0.6" stroke-dasharray="0.6 1.2"/>
<line x1="441.7" y1="237.7" x2="441.7" y2="236.2" stroke="#6b6b6b" stroke-width="0.6"/>
<line x1="450.6" y1="238" x2="450.6" y2="236.5" stroke="#6b6b6b" stroke-width="0.6"/>
<line x1="459.5" y1="238" x2="459.5" y2="236.5" stroke="#6b6b6b" stroke-width="0.6"/>
<line x1="468.5" y1="238" x2="468.5" y2="236.5" stroke="#6b6b6b" stroke-width="0.6"/>
<text x="450.6" y="121" font-size="8.5" text-anchor="middle" font-weight="normal" fill="#262626" stroke="#262626" stroke-width="0.22">IC</text>
<text x="441.7" y="248.4" font-size="7.8" text-anchor="middle" font-weight="normal" fill="#262626" stroke="#262626" stroke-width="0.22">0</text>
<text x="459.5" y="248.4" font-size="7.8" text-anchor="middle" font-weight="normal" fill="#262626" stroke="#262626" stroke-width="0.22">0.04</text>
<text x="451.2" y="257.5" font-size="8.3" text-anchor="middle" font-weight="normal" fill="#262626" stroke="#262626" stroke-width="0.22">Time (s)</text>
<text x="422.8" y="132" font-size="7.6" text-anchor="middle" font-weight="normal" fill="#262626" stroke="#262626" stroke-width="0.22">480</text>
<polyline points="432.8,129.3 468.5,129.3" fill="none" stroke="#b51d3f" stroke-width="1.3" stroke-linejoin="round"/>
<text x="422.8" y="141.1" font-size="7.6" text-anchor="middle" font-weight="normal" fill="#262626" stroke="#262626" stroke-width="0.22">240</text>
<polyline points="432.8,137.8 433.7,139 434.7,137.8 435.6,139 436.5,137.8 437.4,139 438.4,137.8 439.3,139 440.2,137.8 441.2,139 442.1,137.8 443,139 444,137.8 444.9,139 445.8,137.8 446.7,139 447.7,137.8 448.6,139 449.5,137.8 450.5,139 451.4,137.8 452.3,139 453.2,137.8 454.2,139 455.1,137.8 456,139 457,137.8 457.9,139 458.8,137.8 459.7,139 460.7,137.8 461.6,139 462.5,137.8 463.5,139 464.4,137.8 465.3,139 466.3,137.8 467.2,139 468.1,137.8" fill="none" stroke="#b51d3f" stroke-width="1.2" stroke-linejoin="round"/>
<text x="422.8" y="150.2" font-size="7.6" text-anchor="middle" font-weight="normal" fill="#262626" stroke="#262626" stroke-width="0.22">180</text>
<polyline points="432.8,146.2 434,148.8 435.3,146.2 436.5,148.8 437.8,146.2 439,148.8 440.2,146.2 441.5,148.8 442.7,146.2 443.9,148.8 445.2,146.2 446.4,148.8 447.7,146.2 448.9,148.8 450.1,146.2 451.4,148.8 452.6,146.2 453.9,148.8 455.1,146.2 456.3,148.8 457.6,146.2 458.8,148.8 460.1,146.2 461.3,148.8 462.5,146.2 463.8,148.8 465,146.2 466.2,148.8 467.5,146.2" fill="none" stroke="#b51d3f" stroke-width="1.2" stroke-linejoin="round"/>
<text x="422.8" y="159.3" font-size="7.6" text-anchor="middle" font-weight="normal" fill="#262626" stroke="#262626" stroke-width="0.22">130</text>
<polyline points="432.8,156.2 433,156.7 433.2,157.3 433.4,157.2 433.6,156.7 433.8,156.2 434,155.6 434.2,155.1 434.4,154.5 434.6,154 434.8,153.5 435,152.9 435,152.9 435.2,153.4 435.4,154 435.6,154.5 435.8,155 436,155.6 436.2,156.1 436.4,156.7 436.6,157.2 436.8,157.3 437,156.8 437.2,156.2 437.4,155.7 437.6,155.2 437.8,154.6 438,154.1 438.2,153.6 438.4,153 438.4,152.9 438.6,153.4 438.8,153.9 439,154.4 439.2,155 439.4,155.5 439.6,156 439.8,156.6 440,157.1 440.2,157.4 440.4,156.9 440.6,156.3 440.8,155.8 441,155.3 441.2,154.7 441.4,154.2 441.6,153.6 441.8,153.1 441.9,152.9 442,153.3 442.2,153.8 442.4,154.3 442.6,154.9 442.8,155.4 443,156 443.2,156.5 443.4,157 443.6,157.5 443.8,156.9 444,156.4 444.2,155.9 444.4,155.3 444.6,154.8 444.8,154.3 445,153.7 445.2,153.2 445.3,152.9 445.4,153.2 445.6,153.7 445.8,154.3 446,154.8 446.2,155.3 446.4,155.9 446.6,156.4 446.8,156.9 447,157.5 447.2,157 447.4,156.5 447.6,156 447.8,155.4 448,154.9 448.2,154.3 448.4,153.8 448.6,153.3 448.7,152.9 448.8,153.1 449,153.6 449.2,154.2 449.4,154.7 449.6,155.3 449.8,155.8 450,156.3 450.2,156.9 450.4,157.4 450.6,157.1 450.8,156.6 451,156 451.2,155.5 451.4,155 451.6,154.4 451.8,153.9 452,153.4 452.2,152.9 452.2,153 452.4,153.6 452.6,154.1 452.8,154.6 453,155.2 453.2,155.7 453.4,156.2 453.6,156.8 453.8,157.3 454,157.2 454.2,156.7 454.4,156.1 454.6,155.6 454.8,155 455,154.5 455.2,154 455.4,153.4 455.6,152.9 455.6,152.9 455.8,153.5 456,154 456.2,154.5 456.4,155.1 456.6,155.6 456.8,156.2 457,156.7 457.2,157.2 457.4,157.3 457.6,156.7 457.8,156.2 458,155.7 458.2,155.1 458.4,154.6 458.6,154.1 458.8,153.5 459,153 459,152.9 459.2,153.4 459.4,153.9 459.6,154.5 459.8,155 460,155.5 460.2,156.1 460.4,156.6 460.6,157.1 460.8,157.4 461,156.8 461.2,156.3 461.4,155.7 461.6,155.2 461.8,154.7 462,154.1 462.2,153.6 462.4,153.1 462.5,152.9 462.6,153.3 462.8,153.8 463,154.4 463.2,154.9 463.4,155.5 463.6,156 463.8,156.5 464,157.1 464.2,157.4 464.4,156.9 464.6,156.4 464.8,155.8 465,155.3 465.2,154.8 465.4,154.2 465.6,153.7 465.8,153.1 465.9,152.9 466,153.2 466.2,153.8 466.4,154.3 466.6,154.8 466.8,155.4 467,155.9 467.2,156.4 467.4,157 467.6,157.5 467.8,157 468,156.4 468.2,155.9 468.4,155.4" fill="none" stroke="#b51d3f" stroke-width="1.25" stroke-linejoin="round"/>
<text x="422.8" y="168.4" font-size="7.6" text-anchor="middle" font-weight="normal" fill="#262626" stroke="#262626" stroke-width="0.22">90</text>
<polyline points="432.8,167 433,167 433.2,166.9 433.4,166.7 433.6,166.5 433.8,166.2 434,165.8 434.2,165.4 434.4,164.9 434.6,164.3 434.8,163.6 435,162.8 435.2,161.9 435.4,160.6 435.4,160.7 435.6,162 435.8,162.9 436,163.7 436.2,164.3 436.4,164.9 436.6,165.4 436.8,165.9 437,166.3 437.2,166.6 437.4,166.8 437.6,166.9 437.8,167 438,167 438.2,166.9 438.4,166.7 438.6,166.5 438.8,166.1 439,165.8 439.2,165.3 439.4,164.7 439.6,164.1 439.8,163.4 440,162.6 440.2,161.6 440.3,160.6 440.4,161.1 440.6,162.2 440.8,163.1 441,163.8 441.2,164.5 441.4,165.1 441.6,165.6 441.8,166 442,166.3 442.2,166.6 442.4,166.8 442.6,166.9 442.8,167 443,166.9 443.2,166.8 443.4,166.7 443.6,166.4 443.8,166.1 444,165.7 444.2,165.2 444.4,164.6 444.6,164 444.8,163.2 445,162.4 445.2,161.4 445.3,160.6 445.4,161.4 445.6,162.4 445.8,163.2 446,164 446.2,164.6 446.4,165.2 446.6,165.7 446.8,166.1 447,166.4 447.2,166.7 447.4,166.8 447.6,166.9 447.8,167 448,166.9 448.2,166.8 448.4,166.6 448.6,166.3 448.8,166 449,165.6 449.2,165.1 449.4,164.5 449.6,163.8 449.8,163.1 450,162.2 450.2,161.1 450.3,160.6 450.4,161.6 450.6,162.6 450.8,163.4 451,164.1 451.2,164.7 451.4,165.3 451.6,165.8 451.8,166.1 452,166.5 452.2,166.7 452.4,166.9 452.6,167 452.8,167 453,166.9 453.2,166.8 453.4,166.6 453.6,166.3 453.8,165.9 454,165.4 454.2,164.9 454.4,164.3 454.6,163.7 454.8,162.9 455,162 455.2,160.7 455.2,160.6 455.4,161.9 455.6,162.8 455.8,163.6 456,164.3 456.2,164.9 456.4,165.4 456.6,165.8 456.8,166.2 457,166.5 457.2,166.7 457.4,166.9 457.6,167 457.8,167 458,166.9 458.2,166.7 458.4,166.5 458.6,166.2 458.8,165.8 459,165.3 459.2,164.8 459.4,164.2 459.6,163.5 459.8,162.7 460,161.8 460.2,160.6 460.2,160.9 460.4,162.1 460.6,163 460.8,163.7 461,164.4 461.2,165 461.4,165.5 461.6,165.9 461.8,166.3 462,166.6 462.2,166.8 462.4,166.9 462.6,167 462.8,167 463,166.9 463.2,166.7 463.4,166.4 463.6,166.1 463.8,165.7 464,165.2 464.2,164.7 464.4,164 464.6,163.3 464.8,162.5 465,161.5 465.1,160.6 465.2,161.2 465.4,162.3 465.6,163.2 465.8,163.9 466,164.5 466.2,165.1 466.4,165.6 466.6,166 466.8,166.4 467,166.6 467.2,166.8 467.4,166.9 467.6,167 467.8,166.9 468,166.8 468.2,166.6 468.4,166.4" fill="none" stroke="#b51d3f" stroke-width="1.25" stroke-linejoin="round"/>
<text x="422.8" y="177.5" font-size="7.6" text-anchor="middle" font-weight="normal" fill="#262626" stroke="#262626" stroke-width="0.22">60</text>
<polyline points="432.8,175.4 433,175.6 433.2,175.8 433.4,175.9 433.6,176 433.8,176 434,176.1 434.2,176.1 434.4,176 434.6,176 434.8,175.9 435,175.8 435.2,175.7 435.4,175.5 435.6,175.3 435.8,175.1 436,174.9 436.2,174.6 436.4,174.3 436.6,174 436.8,173.6 437,173.2 437.2,172.7 437.4,172.1 437.6,171.5 437.8,170.5 437.9,169.8 438,170.9 438.2,171.7 438.4,172.3 438.6,172.8 438.8,173.3 439,173.7 439.2,174.1 439.4,174.4 439.6,174.7 439.8,175 440,175.2 440.2,175.4 440.4,175.6 440.6,175.7 440.8,175.9 441,175.9 441.2,176 441.4,176 441.6,176.1 441.8,176 442,176 442.2,175.9 442.4,175.8 442.6,175.7 442.8,175.6 443,175.4 443.2,175.2 443.4,174.9 443.6,174.7 443.8,174.4 444,174 444.2,173.7 444.4,173.2 444.6,172.8 444.8,172.2 445,171.6 445.2,170.7 445.3,169.8 445.4,170.7 445.6,171.6 445.8,172.2 446,172.8 446.2,173.2 446.4,173.7 446.6,174 446.8,174.4 447,174.7 447.2,174.9 447.4,175.2 447.6,175.4 447.8,175.6 448,175.7 448.2,175.8 448.4,175.9 448.6,176 448.8,176 449,176.1 449.2,176 449.4,176 449.6,175.9 449.8,175.9 450,175.7 450.2,175.6 450.4,175.4 450.6,175.2 450.8,175 451,174.7 451.2,174.4 451.4,174.1 451.6,173.7 451.8,173.3 452,172.8 452.2,172.3 452.4,171.7 452.6,170.9 452.7,169.8 452.8,170.5 453,171.5 453.2,172.1 453.4,172.7 453.6,173.2 453.8,173.6 454,174 454.2,174.3 454.4,174.6 454.6,174.9 454.8,175.1 455,175.3 455.2,175.5 455.4,175.7 455.6,175.8 455.8,175.9 456,176 456.2,176 456.4,176.1 456.6,176.1 456.8,176 457,176 457.2,175.9 457.4,175.8 457.6,175.6 457.8,175.4 458,175.2 458.2,175 458.4,174.8 458.6,174.5 458.8,174.1 459,173.8 459.2,173.4 459.4,172.9 459.6,172.4 459.8,171.8 460,171 460.2,169.8 460.2,170.2 460.4,171.3 460.6,172 460.8,172.6 461,173.1 461.2,173.5 461.4,173.9 461.6,174.3 461.8,174.6 462,174.8 462.2,175.1 462.4,175.3 462.6,175.5 462.8,175.7 463,175.8 463.2,175.9 463.4,176 463.6,176 463.8,176.1 464,176.1 464.2,176 464.4,176 464.6,175.9 464.8,175.8 465,175.6 465.2,175.5 465.4,175.3 465.6,175.1 465.8,174.8 466,174.5 466.2,174.2 466.4,173.8 466.6,173.5 466.8,173 467,172.5 467.2,171.9 467.4,171.2 467.6,169.8 467.6,169.8 467.8,171.2 468,171.9 468.2,172.5 468.4,173" fill="none" stroke="#b51d3f" stroke-width="1.25" stroke-linejoin="round"/>
<text x="422.8" y="186.6" font-size="7.6" text-anchor="middle" font-weight="normal" fill="#262626" stroke="#262626" stroke-width="0.22">40</text>
<polyline points="432.8,183.7 433.1,183.2 433.3,182.3 433.6,180.9 433.8,179.3 434.1,178.4 434.3,179 434.6,180 434.8,180.8 435.1,181.4 435.3,181.9 435.6,182.3 435.8,182.7 436.1,183 436.3,183.2 436.6,183.4 436.8,183.6 437.1,183.7 437.3,183.8 437.6,183.9 437.8,184 438.1,184.1 438.3,184.2 438.6,184.2 438.8,184.3 439.1,184.3 439.3,184.4 439.6,184.4 439.8,184.5 440.1,184.5 440.3,184.6 440.6,184.7 440.8,184.7 441.1,184.8 441.3,184.8 441.6,184.9 441.8,184.9 442.1,184.9 442.3,185 442.6,185 442.8,185 443.1,184.9 443.3,184.9 443.6,184.8 443.8,184.7 444.1,184.4 444.3,183.7 444.6,182.5 444.8,180.9 445.1,179.4 445.3,178.7 445.6,179.8 445.8,180.7 446.1,181.4 446.3,182 446.6,182.4 446.8,182.8 447.1,183.1 447.3,183.4 447.6,183.6 447.8,183.8 448.1,184 448.3,184.1 448.6,184.2 448.8,184.3 449.1,184.4 449.3,184.4 449.6,184.5 449.8,184.4 450.1,184.5 450.3,184.5 450.6,184.5 450.8,184.5 451.1,184.5 451.3,184.5 451.6,184.6 451.8,184.6 452.1,184.6 452.3,184.7 452.6,184.7 452.8,184.8 453.1,184.8 453.3,184.8 453.6,184.8 453.8,184.8 454.1,184.8 454.3,184.8 454.6,184.7 454.8,184.6 455.1,184.4 455.3,184 455.6,183.1 455.8,181.7 456.1,180.1 456.3,178.9 456.6,179.1 456.8,180.1 457.1,180.9 457.3,181.5 457.6,182 457.8,182.5 458.1,182.8 458.3,183 458.6,183.2 458.8,183.4 459.1,183.5 459.3,183.6 459.6,183.7 459.8,183.8 460.1,183.8 460.3,183.9 460.6,183.9 460.8,184 461.1,184 461.3,184 461.6,184.1 461.8,184.1 462.1,184.2 462.3,184.2 462.6,184.2 462.8,184.3 463.1,184.3 463.3,184.4 463.6,184.4 463.8,184.5 464.1,184.5 464.3,184.5 464.6,184.6 464.8,184.6 465.1,184.6 465.3,184.6 465.6,184.7 465.8,184.7 466.1,184.6 466.3,184.4 466.6,183.9 466.8,182.8 467.1,181.4 467.3,179.9 467.6,179 467.8,179.9 468.1,180.9 468.3,181.6" fill="none" stroke="#b51d3f" stroke-width="1.25" stroke-linejoin="round"/>
<text x="422.8" y="195.7" font-size="7.6" text-anchor="middle" font-weight="normal" fill="#262626" stroke="#262626" stroke-width="0.22">30</text>
<polyline points="432.8,193 433.1,193.1 433.3,193.1 433.6,193.2 433.8,193.2 434.1,193.3 434.3,193.3 434.6,193.4 434.8,193.4 435.1,193.5 435.3,193.5 435.6,193.6 435.8,193.7 436.1,193.8 436.3,193.8 436.6,193.9 436.8,193.9 437.1,193.9 437.3,194 437.6,194 437.8,193.9 438.1,193.9 438.3,193.9 438.6,193.8 438.8,193.8 439.1,193.7 439.3,193.7 439.6,193.6 439.8,193.6 440.1,193.6 440.3,193.5 440.6,193.5 440.8,193.5 441.1,193.6 441.3,193.6 441.6,193.6 441.8,193.6 442.1,193.6 442.3,193.6 442.6,193.6 442.8,193.6 443.1,193.6 443.3,193.5 443.6,193.5 443.8,193.4 444.1,193.1 444.3,192.4 444.6,191.1 444.8,189.4 445.1,187.9 445.3,187.3 445.6,188.4 445.8,189.4 446.1,190.2 446.3,190.8 446.6,191.3 446.8,191.7 447.1,192.1 447.3,192.3 447.6,192.5 447.8,192.7 448.1,192.9 448.3,193 448.6,193.1 448.8,193.3 449.1,193.4 449.3,193.5 449.6,193.5 449.8,193.6 450.1,193.6 450.3,193.6 450.6,193.7 450.8,193.7 451.1,193.7 451.3,193.6 451.6,193.6 451.8,193.5 452.1,193.4 452.3,193.4 452.6,193.3 452.8,193.2 453.1,193.1 453.3,193.1 453.6,193 453.8,193 454.1,193 454.3,193 454.6,193 454.8,193 455.1,193.1 455.3,193.1 455.6,193.2 455.8,193.2 456.1,193.3 456.3,193.3 456.6,193.3 456.8,193.4 457.1,193.4 457.3,193.4 457.6,193.4 457.8,193.4 458.1,193.3 458.3,193.3 458.6,193.2 458.8,193 459.1,192.6 459.3,191.6 459.6,190.1 459.8,188.4 460.1,187.3 460.3,187.8 460.6,188.8 460.8,189.6 461.1,190.3 461.3,190.8 461.6,191.1 461.8,191.5 462.1,191.7 462.3,191.9 462.6,192.1 462.8,192.2 463.1,192.3 463.3,192.4 463.6,192.5 463.8,192.5 464.1,192.7 464.3,192.7 464.6,192.8 464.8,192.9 465.1,193 465.3,193 465.6,193.1 465.8,193.1 466.1,193.2 466.3,193.2 466.6,193.2 466.8,193.2 467.1,193.2 467.3,193.2 467.6,193.2 467.8,193.2 468.1,193.2 468.3,193.2" fill="none" stroke="#b51d3f" stroke-width="1.25" stroke-linejoin="round"/>
<text x="422.8" y="204.8" font-size="7.6" text-anchor="middle" font-weight="normal" fill="#262626" stroke="#262626" stroke-width="0.22">20</text>
<polyline points="432.8,202.7 433.1,202.6 433.3,202.6 433.6,202.6 433.8,202.6 434.1,202.6 434.3,202.6 434.6,202.7 434.8,202.7 435.1,202.7 435.3,202.7 435.6,202.8 435.8,202.8 436.1,202.8 436.3,202.8 436.6,202.8 436.8,202.8 437.1,202.8 437.3,202.8 437.6,202.8 437.8,202.9 438.1,202.8 438.3,202.8 438.6,202.9 438.8,202.9 439.1,202.9 439.3,202.9 439.6,203 439.8,203 440.1,203 440.3,203 440.6,203 440.8,203.1 441.1,203.1 441.3,203 441.6,203 441.8,203 442.1,203 442.3,203 442.6,202.9 442.8,202.9 443.1,202.8 443.3,202.7 443.6,202.6 443.8,202.5 444.1,202.1 444.3,201.3 444.6,200 444.8,198.2 445.1,196.6 445.3,195.8 445.6,197.2 445.8,198.2 446.1,199.1 446.3,199.8 446.6,200.4 446.8,200.9 447.1,201.3 447.3,201.6 447.6,201.8 447.8,202.1 448.1,202.2 448.3,202.3 448.6,202.4 448.8,202.4 449.1,202.5 449.3,202.4 449.6,202.4 449.8,202.4 450.1,202.3 450.3,202.3 450.6,202.2 450.8,202.2 451.1,202.1 451.3,202.1 451.6,202.1 451.8,202.1 452.1,202 452.3,202 452.6,202 452.8,202 453.1,202 453.3,202 453.6,202 453.8,201.9 454.1,201.9 454.3,201.9 454.6,201.9 454.8,201.9 455.1,201.9 455.3,201.9 455.6,202 455.8,202 456.1,202 456.3,202 456.6,202.1 456.8,202.2 457.1,202.2 457.3,202.3 457.6,202.3 457.8,202.4 458.1,202.4 458.3,202.5 458.6,202.5 458.8,202.6 459.1,202.6 459.3,202.6 459.6,202.7 459.8,202.7 460.1,202.7 460.3,202.7 460.6,202.7 460.8,202.6 461.1,202.7 461.3,202.7 461.6,202.6 461.8,202.6 462.1,202.6 462.3,202.6 462.6,202.5 462.8,202.5 463.1,202.5 463.3,202.5 463.6,202.5 463.8,202.5 464.1,202.6 464.3,202.6 464.6,202.6 464.8,202.6 465.1,202.6 465.3,202.6 465.6,202.6 465.8,202.6 466.1,202.5 466.3,202.2 466.6,201.6 466.8,200.4 467.1,198.6 467.3,196.9 467.6,195.9 467.8,196.9 468.1,198 468.3,198.9" fill="none" stroke="#b51d3f" stroke-width="1.25" stroke-linejoin="round"/>
<text x="422.8" y="213.9" font-size="7.6" text-anchor="middle" font-weight="normal" fill="#262626" stroke="#262626" stroke-width="0.22">10</text>
<polyline points="432.8,210.9 433.1,210.9 433.3,210.9 433.6,211 433.8,211 434.1,210.9 434.3,210.9 434.6,210.8 434.8,210.7 435.1,210.6 435.3,210.6 435.6,210.6 435.8,210.7 436.1,210.7 436.3,210.8 436.6,210.9 436.8,210.9 437.1,210.9 437.3,211 437.6,210.9 437.8,210.9 438.1,211 438.3,210.9 438.6,211 438.8,211 439.1,210.9 439.3,210.9 439.6,210.9 439.8,210.9 440.1,211 440.3,211 440.6,211 440.8,210.9 441.1,210.9 441.3,210.8 441.6,210.6 441.8,210.3 442.1,210.1 442.3,209.7 442.6,209.4 442.8,209 443.1,208.6 443.3,208.3 443.6,208 443.8,207.3 444.1,206.4 444.3,205.7 444.6,205.5 444.8,205.9 445.1,206.6 445.3,207.3 445.6,208 445.8,208.6 446.1,209.1 446.3,209.7 446.6,210.2 446.8,210.6 447.1,210.9 447.3,211.1 447.6,211.3 447.8,211.5 448.1,211.7 448.3,211.9 448.6,212.1 448.8,212.3 449.1,212.6 449.3,212.8 449.6,212.9 449.8,213.1 450.1,213.2 450.3,213.3 450.6,213.3 450.8,213.4 451.1,213.4 451.3,213.5 451.6,213.7 451.8,213.9 452.1,214 452.3,214.3 452.6,214.5 452.8,214.7 453.1,214.9 453.3,215 453.6,215.2 453.8,215.3 454.1,215.4 454.3,215.4 454.6,215.5 454.8,215.5 455.1,215.5 455.3,215.5 455.6,215.4 455.8,215.4 456.1,215.3 456.3,215.3 456.6,215.3 456.8,215.3 457.1,215.3 457.3,215.3 457.6,215.3 457.8,215.2 458.1,215.1 458.3,215 458.6,214.8 458.8,214.6 459.1,214.4 459.3,214.3 459.6,214.2 459.8,214.1 460.1,214 460.3,214 460.6,213.9 460.8,213.8 461.1,213.6 461.3,213.4 461.6,213.2 461.8,213 462.1,212.8 462.3,212.7 462.6,212.6 462.8,212.6 463.1,212.7 463.3,212.8 463.6,212.8 463.8,212.9 464.1,212.9 464.3,212.9 464.6,212.8 464.8,212.6 465.1,212.4 465.3,212.3 465.6,212.1 465.8,211.9 466.1,211.8 466.3,211.7 466.6,211.6 466.8,211.5 467.1,211.3 467.3,211.2 467.6,211 467.8,210.8 468.1,210.8 468.3,210.8" fill="none" stroke="#b51d3f" stroke-width="1.25" stroke-linejoin="round"/>
<text x="422.8" y="223" font-size="7.6" text-anchor="middle" font-weight="normal" fill="#262626" stroke="#262626" stroke-width="0.22">5</text>
<polyline points="432.8,224.5 433.1,224.4 433.3,224.3 433.6,224.3 433.8,224.2 434.1,224.2 434.3,224.1 434.6,223.9 434.8,223.7 435.1,223.6 435.3,223.5 435.6,223.4 435.8,223.5 436.1,223.6 436.3,223.7 436.6,223.9 436.8,224 437.1,223.9 437.3,223.9 437.6,223.7 437.8,223.5 438.1,223.3 438.3,223.2 438.6,223 438.8,222.9 439.1,222.8 439.3,222.7 439.6,222.6 439.8,222.5 440.1,222.4 440.3,222.4 440.6,222.5 440.8,222.6 441.1,222.8 441.3,223 441.6,223.2 441.8,223.3 442.1,223.2 442.3,223.1 442.6,222.9 442.8,222.5 443.1,222.2 443.3,221.8 443.6,221.4 443.8,221 444.1,220.6 444.3,219.9 444.6,219.3 444.8,218.9 445.1,218.8 445.3,219 445.6,219.4 445.8,219.9 446.1,220.3 446.3,220.6 446.6,220.8 446.8,221 447.1,221.3 447.3,221.6 447.6,221.9 447.8,222.2 448.1,222.4 448.3,222.6 448.6,222.7 448.8,222.8 449.1,222.9 449.3,222.9 449.6,223 449.8,223 450.1,223 450.3,223 450.6,223.1 450.8,223.1 451.1,223.1 451.3,223.2 451.6,223.3 451.8,223.3 452.1,223.4 452.3,223.4 452.6,223.4 452.8,223.3 453.1,223.2 453.3,223.1 453.6,222.9 453.8,222.7 454.1,222.6 454.3,222.5 454.6,222.4 454.8,222.4 455.1,222.4 455.3,222.5 455.6,222.5 455.8,222.6 456.1,222.7 456.3,222.7 456.6,222.6 456.8,222.4 457.1,222.2 457.3,222 457.6,221.7 457.8,221.6 458.1,221.4 458.3,221.4 458.6,221.4 458.8,221.5 459.1,221.5 459.3,221.5 459.6,221.4 459.8,221.2 460.1,221 460.3,220.8 460.6,220.7 460.8,220.6 461.1,220.6 461.3,220.6 461.6,220.6 461.8,220.7 462.1,220.7 462.3,220.7 462.6,220.6 462.8,220.5 463.1,220.4 463.3,220.3 463.6,220.2 463.8,220.1 464.1,220 464.3,220 464.6,219.9 464.8,219.8 465.1,219.6 465.3,219.5 465.6,219.3 465.8,219.1 466.1,219 466.3,218.9 466.6,218.8 466.8,218.9 467.1,218.9 467.3,219 467.6,219.1 467.8,219.2 468.1,219.3 468.3,219.2" fill="none" stroke="#b51d3f" stroke-width="1.25" stroke-linejoin="round"/>
<text x="422.8" y="232.1" font-size="7.6" text-anchor="middle" font-weight="normal" fill="#262626" stroke="#262626" stroke-width="0.22">2</text>
<polyline points="432.8,230.3 433.1,230.4 433.3,230.4 433.6,230.4 433.8,230.4 434.1,230.4 434.3,230.4 434.6,230.4 434.8,230.4 435.1,230.4 435.3,230.4 435.6,230.5 435.8,230.5 436.1,230.6 436.3,230.7 436.6,230.8 436.8,230.8 437.1,230.7 437.3,230.5 437.6,230.3 437.8,230.1 438.1,230 438.3,229.8 438.6,229.7 438.8,229.7 439.1,229.7 439.3,229.7 439.6,229.7 439.8,229.7 440.1,229.7 440.3,229.8 440.6,229.8 440.8,229.8 441.1,229.8 441.3,229.7 441.6,229.5 441.8,229.2 442.1,228.7 442.3,228.3 442.6,227.8 442.8,227.2 443.1,226.6 443.3,226 443.6,225.4 443.8,224.8 444.1,224 444.3,223 444.6,222 444.8,221.3 445.1,221.2 445.3,221.7 445.6,222.7 445.8,223.8 446.1,224.8 446.3,225.5 446.6,225.9 446.8,226.3 447.1,226.6 447.3,226.8 447.6,227 447.8,227.2 448.1,227.3 448.3,227.4 448.6,227.6 448.8,227.7 449.1,227.8 449.3,227.9 449.6,228 449.8,228.1 450.1,228.3 450.3,228.5 450.6,228.6 450.8,228.8 451.1,229.1 451.3,229.3 451.6,229.6 451.8,229.8 452.1,230.1 452.3,230.3 452.6,230.5 452.8,230.7 453.1,230.9 453.3,231.1 453.6,231.2 453.8,231.4 454.1,231.6 454.3,231.8 454.6,232 454.8,232.2 455.1,232.3 455.3,232.5 455.6,232.7 455.8,232.8 456.1,233 456.3,233.2 456.6,233.4 456.8,233.5 457.1,233.7 457.3,233.9 457.6,234.1 457.8,234.3 458.1,234.5 458.3,234.7 458.6,234.9 458.8,235.1 459.1,235.2 459.3,235.4 459.6,235.6 459.8,235.7 460.1,235.8 460.3,235.8 460.6,235.8 460.8,235.8 461.1,235.7 461.3,235.6 461.6,235.4 461.8,235.2 462.1,235 462.3,234.8 462.6,234.5 462.8,234.3 463.1,234.1 463.3,233.8 463.6,233.6 463.8,233.4 464.1,233.2 464.3,233.1 464.6,233 464.8,232.9 465.1,232.8 465.3,232.7 465.6,232.7 465.8,232.6 466.1,232.5 466.3,232.4 466.6,232.4 466.8,232.2 467.1,232.1 467.3,231.9 467.6,231.8 467.8,231.7 468.1,231.5 468.3,231.5" fill="none" stroke="#b51d3f" stroke-width="1.25" stroke-linejoin="round"/>
<line x1="494.5" y1="124.7" x2="494.5" y2="238.6" stroke="#8a8a8a" stroke-width="1.0"/>
<line x1="494.8" y1="238.5" x2="530.5" y2="238.5" stroke="#8a8a8a" stroke-width="1.0"/>
<line x1="503.7" y1="124.7" x2="503.7" y2="237.7" stroke="#999" stroke-width="0.6" stroke-dasharray="0.6 1.2"/>
<line x1="503.7" y1="237.7" x2="503.7" y2="236.2" stroke="#6b6b6b" stroke-width="0.6"/>
<line x1="512.6" y1="238" x2="512.6" y2="236.5" stroke="#6b6b6b" stroke-width="0.6"/>
<line x1="521.5" y1="238" x2="521.5" y2="236.5" stroke="#6b6b6b" stroke-width="0.6"/>
<line x1="530.5" y1="238" x2="530.5" y2="236.5" stroke="#6b6b6b" stroke-width="0.6"/>
<text x="513" y="121" font-size="8.5" text-anchor="middle" font-weight="normal" fill="#262626" stroke="#262626" stroke-width="0.22">AC</text>
<text x="503.7" y="248.4" font-size="7.8" text-anchor="middle" font-weight="normal" fill="#262626" stroke="#262626" stroke-width="0.22">0</text>
<text x="521.5" y="248.4" font-size="7.8" text-anchor="middle" font-weight="normal" fill="#262626" stroke="#262626" stroke-width="0.22">0.04</text>
<text x="513.2" y="257.5" font-size="8.3" text-anchor="middle" font-weight="normal" fill="#262626" stroke="#262626" stroke-width="0.22">Time (s)</text>
<text x="484.8" y="132" font-size="7.6" text-anchor="middle" font-weight="normal" fill="#262626" stroke="#262626" stroke-width="0.22">480</text>
<polyline points="494.8,129.4 495.1,129.4 495.3,129.4 495.6,129.4 495.8,129.4 496.1,129.3 496.3,129.3 496.6,129.3 496.8,129.2 497.1,129.2 497.3,129.2 497.6,129.2 497.8,129.2 498.1,129.2 498.3,129.2 498.6,129.2 498.8,129.2 499.1,129.2 499.3,129.2 499.6,129.2 499.8,129.3 500.1,129.3 500.3,129.3 500.6,129.4 500.8,129.4 501.1,129.4 501.3,129.4 501.6,129.4 501.8,129.4 502.1,129.4 502.3,129.4 502.6,129.4 502.8,129.4 503.1,129.4 503.3,129.3 503.6,129.3 503.8,129.3 504.1,129.3 504.3,129.2 504.6,129.2 504.8,129.2 505.1,129.2 505.3,129.2 505.6,129.2 505.8,129.2 506.1,129.2 506.3,129.2 506.6,129.2 506.8,129.2 507.1,129.3 507.3,129.3 507.6,129.3 507.8,129.3 508.1,129.4 508.3,129.4 508.6,129.4 508.8,129.4 509.1,129.4 509.3,129.4 509.6,129.4 509.8,129.4 510.1,129.4 510.3,129.4 510.6,129.4 510.8,129.3 511.1,129.3 511.3,129.3 511.6,129.2 511.8,129.2 512,129.2 512.3,129.2 512.5,129.2 512.8,129.2 513,129.2 513.3,129.2 513.5,129.2 513.8,129.2 514,129.2 514.3,129.2 514.5,129.3 514.8,129.3 515,129.3 515.3,129.4 515.5,129.4 515.8,129.4 516,129.4 516.3,129.4 516.5,129.4 516.8,129.4 517,129.4 517.3,129.4 517.5,129.4 517.8,129.4 518,129.4 518.3,129.3 518.5,129.3 518.8,129.3 519,129.2 519.3,129.2 519.5,129.2 519.8,129.2 520,129.2 520.3,129.2 520.5,129.2 520.8,129.2 521,129.2 521.3,129.2 521.5,129.2 521.8,129.2 522,129.3 522.3,129.3 522.5,129.3 522.8,129.4 523,129.4 523.3,129.4 523.5,129.4 523.8,129.4 524,129.4 524.3,129.4 524.5,129.4 524.8,129.4 525,129.4 525.3,129.4 525.5,129.4 525.8,129.3 526,129.3 526.3,129.3 526.5,129.2 526.8,129.2 527,129.2 527.3,129.2 527.5,129.2 527.8,129.2 528,129.2 528.3,129.2 528.5,129.2 528.8,129.2 529,129.2 529.3,129.2 529.5,129.3 529.8,129.3 530,129.3 530.3,129.4" fill="none" stroke="#7dbf45" stroke-width="1.3" stroke-linejoin="round"/>
<text x="484.8" y="141.1" font-size="7.6" text-anchor="middle" font-weight="normal" fill="#262626" stroke="#262626" stroke-width="0.22">240</text>
<polyline points="494.8,138.5 495.1,138.5 495.3,138.5 495.6,138.5 495.8,138.5 496.1,138.4 496.3,138.4 496.6,138.4 496.8,138.3 497.1,138.3 497.3,138.3 497.6,138.3 497.8,138.3 498.1,138.3 498.3,138.3 498.6,138.3 498.8,138.3 499.1,138.3 499.3,138.3 499.6,138.3 499.8,138.4 500.1,138.4 500.3,138.4 500.6,138.5 500.8,138.5 501.1,138.5 501.3,138.5 501.6,138.5 501.8,138.5 502.1,138.5 502.3,138.5 502.6,138.5 502.8,138.5 503.1,138.5 503.3,138.4 503.6,138.4 503.8,138.4 504.1,138.4 504.3,138.3 504.6,138.3 504.8,138.3 505.1,138.3 505.3,138.3 505.6,138.3 505.8,138.3 506.1,138.3 506.3,138.3 506.6,138.3 506.8,138.3 507.1,138.4 507.3,138.4 507.6,138.4 507.8,138.4 508.1,138.5 508.3,138.5 508.6,138.5 508.8,138.5 509.1,138.5 509.3,138.5 509.6,138.5 509.8,138.5 510.1,138.5 510.3,138.5 510.6,138.5 510.8,138.4 511.1,138.4 511.3,138.4 511.6,138.3 511.8,138.3 512,138.3 512.3,138.3 512.5,138.3 512.8,138.3 513,138.3 513.3,138.3 513.5,138.3 513.8,138.3 514,138.3 514.3,138.3 514.5,138.4 514.8,138.4 515,138.4 515.3,138.5 515.5,138.5 515.8,138.5 516,138.5 516.3,138.5 516.5,138.5 516.8,138.5 517,138.5 517.3,138.5 517.5,138.5 517.8,138.5 518,138.5 518.3,138.4 518.5,138.4 518.8,138.4 519,138.3 519.3,138.3 519.5,138.3 519.8,138.3 520,138.3 520.3,138.3 520.5,138.3 520.8,138.3 521,138.3 521.3,138.3 521.5,138.3 521.8,138.3 522,138.4 522.3,138.4 522.5,138.4 522.8,138.5 523,138.5 523.3,138.5 523.5,138.5 523.8,138.5 524,138.5 524.3,138.5 524.5,138.5 524.8,138.5 525,138.5 525.3,138.5 525.5,138.5 525.8,138.4 526,138.4 526.3,138.4 526.5,138.3 526.8,138.3 527,138.3 527.3,138.3 527.5,138.3 527.8,138.3 528,138.3 528.3,138.3 528.5,138.3 528.8,138.3 529,138.3 529.3,138.3 529.5,138.4 529.8,138.4 530,138.4 530.3,138.5" fill="none" stroke="#7dbf45" stroke-width="1.3" stroke-linejoin="round"/>
<text x="484.8" y="150.2" font-size="7.6" text-anchor="middle" font-weight="normal" fill="#262626" stroke="#262626" stroke-width="0.22">180</text>
<polyline points="494.8,147.6 495.1,147.6 495.3,147.6 495.6,147.6 495.8,147.6 496.1,147.5 496.3,147.5 496.6,147.5 496.8,147.4 497.1,147.4 497.3,147.4 497.6,147.4 497.8,147.4 498.1,147.4 498.3,147.4 498.6,147.4 498.8,147.4 499.1,147.4 499.3,147.4 499.6,147.4 499.8,147.5 500.1,147.5 500.3,147.5 500.6,147.6 500.8,147.6 501.1,147.6 501.3,147.6 501.6,147.6 501.8,147.6 502.1,147.6 502.3,147.6 502.6,147.6 502.8,147.6 503.1,147.6 503.3,147.5 503.6,147.5 503.8,147.5 504.1,147.5 504.3,147.4 504.6,147.4 504.8,147.4 505.1,147.4 505.3,147.4 505.6,147.4 505.8,147.4 506.1,147.4 506.3,147.4 506.6,147.4 506.8,147.4 507.1,147.5 507.3,147.5 507.6,147.5 507.8,147.5 508.1,147.6 508.3,147.6 508.6,147.6 508.8,147.6 509.1,147.6 509.3,147.6 509.6,147.6 509.8,147.6 510.1,147.6 510.3,147.6 510.6,147.6 510.8,147.5 511.1,147.5 511.3,147.5 511.6,147.4 511.8,147.4 512,147.4 512.3,147.4 512.5,147.4 512.8,147.4 513,147.4 513.3,147.4 513.5,147.4 513.8,147.4 514,147.4 514.3,147.4 514.5,147.5 514.8,147.5 515,147.5 515.3,147.6 515.5,147.6 515.8,147.6 516,147.6 516.3,147.6 516.5,147.6 516.8,147.6 517,147.6 517.3,147.6 517.5,147.6 517.8,147.6 518,147.6 518.3,147.5 518.5,147.5 518.8,147.5 519,147.4 519.3,147.4 519.5,147.4 519.8,147.4 520,147.4 520.3,147.4 520.5,147.4 520.8,147.4 521,147.4 521.3,147.4 521.5,147.4 521.8,147.4 522,147.5 522.3,147.5 522.5,147.5 522.8,147.6 523,147.6 523.3,147.6 523.5,147.6 523.8,147.6 524,147.6 524.3,147.6 524.5,147.6 524.8,147.6 525,147.6 525.3,147.6 525.5,147.6 525.8,147.5 526,147.5 526.3,147.5 526.5,147.4 526.8,147.4 527,147.4 527.3,147.4 527.5,147.4 527.8,147.4 528,147.4 528.3,147.4 528.5,147.4 528.8,147.4 529,147.4 529.3,147.4 529.5,147.5 529.8,147.5 530,147.5 530.3,147.6" fill="none" stroke="#7dbf45" stroke-width="1.3" stroke-linejoin="round"/>
<text x="484.8" y="159.3" font-size="7.6" text-anchor="middle" font-weight="normal" fill="#262626" stroke="#262626" stroke-width="0.22">130</text>
<polyline points="494.8,156.4 495.1,156.6 495.3,156.8 495.6,156.9 495.8,157 496.1,157.1 496.3,157 496.6,156.8 496.8,156.6 497.1,156.4 497.3,156.2 497.6,156.1 497.8,156.1 498.1,156.2 498.3,156.3 498.6,156.5 498.8,156.7 499.1,156.8 499.3,156.9 499.6,156.9 499.8,156.7 500.1,156.6 500.3,156.3 500.6,156.1 500.8,156 501.1,155.9 501.3,155.9 501.6,156 501.8,156.2 502.1,156.4 502.3,156.6 502.6,156.7 502.8,156.8 503.1,156.8 503.3,156.7 503.6,156.5 503.8,156.4 504.1,156.2 504.3,156.1 504.6,156.1 504.8,156.2 505.1,156.3 505.3,156.5 505.6,156.8 505.8,157 506.1,157.1 506.3,157.2 506.6,157.1 506.8,157 507.1,156.8 507.3,156.7 507.6,156.5 507.8,156.4 508.1,156.4 508.3,156.5 508.6,156.6 508.8,156.8 509.1,157 509.3,157.2 509.6,157.3 509.8,157.3 510.1,157.3 510.3,157.1 510.6,156.9 510.8,156.7 511.1,156.5 511.3,156.5 511.6,156.5 511.8,156.6 512,156.7 512.3,156.9 512.5,157.1 512.8,157.2 513,157.3 513.3,157.3 513.5,157.2 513.8,157 514,156.8 514.3,156.6 514.5,156.4 514.8,156.4 515,156.4 515.3,156.5 515.5,156.7 515.8,156.9 516,157.1 516.3,157.2 516.5,157.3 516.8,157.2 517,157.1 517.3,156.9 517.5,156.7 517.8,156.5 518,156.4 518.3,156.3 518.5,156.3 518.8,156.5 519,156.6 519.3,156.8 519.5,157 519.8,157.1 520,157.1 520.3,157 520.5,156.8 520.8,156.6 521,156.4 521.3,156.2 521.5,156.1 521.8,156 522,156.1 522.3,156.2 522.5,156.4 522.8,156.6 523,156.8 523.3,156.9 523.5,156.9 523.8,156.8 524,156.6 524.3,156.4 524.5,156.2 524.8,156.1 525,156 525.3,156 525.5,156.1 525.8,156.3 526,156.5 526.3,156.7 526.5,156.8 526.8,156.9 527,156.9 527.3,156.8 527.5,156.6 527.8,156.3 528,156.1 528.3,156 528.5,155.9 528.8,155.9 529,156 529.3,156.2 529.5,156.4 529.8,156.5 530,156.6 530.3,156.7" fill="none" stroke="#7dbf45" stroke-width="1.3" stroke-linejoin="round"/>
<text x="484.8" y="168.4" font-size="7.6" text-anchor="middle" font-weight="normal" fill="#262626" stroke="#262626" stroke-width="0.22">90</text>
<polyline points="494.8,164.9 495.1,164.9 495.3,164.9 495.6,165.1 495.8,165.2 496.1,165.5 496.3,165.8 496.6,166 496.8,166.2 497.1,166.4 497.3,166.6 497.6,166.6 497.8,166.6 498.1,166.5 498.3,166.3 498.6,166.1 498.8,165.8 499.1,165.6 499.3,165.4 499.6,165.2 499.8,165.1 500.1,165.1 500.3,165.2 500.6,165.3 500.8,165.5 501.1,165.8 501.3,166 501.6,166.3 501.8,166.4 502.1,166.6 502.3,166.7 502.6,166.7 502.8,166.6 503.1,166.4 503.3,166.2 503.6,166 503.8,165.7 504.1,165.4 504.3,165.2 504.6,165 504.8,164.9 505.1,164.9 505.3,165 505.6,165.1 505.8,165.3 506.1,165.5 506.3,165.7 506.6,166 506.8,166.2 507.1,166.3 507.3,166.4 507.6,166.4 507.8,166.3 508.1,166.1 508.3,165.9 508.6,165.7 508.8,165.4 509.1,165.2 509.3,165 509.6,164.9 509.8,164.8 510.1,164.8 510.3,164.9 510.6,165 510.8,165.2 511.1,165.4 511.3,165.7 511.6,165.9 511.8,166.1 512,166.2 512.3,166.2 512.5,166.2 512.8,166.1 513,165.9 513.3,165.7 513.5,165.5 513.8,165.2 514,165 514.3,164.8 514.5,164.7 514.8,164.7 515,164.7 515.3,164.9 515.5,165 515.8,165.3 516,165.6 516.3,165.9 516.5,166.1 516.8,166.4 517,166.5 517.3,166.6 517.5,166.6 517.8,166.5 518,166.4 518.3,166.2 518.5,166 518.8,165.7 519,165.5 519.3,165.4 519.5,165.3 519.8,165.2 520,165.3 520.3,165.4 520.5,165.6 520.8,165.8 521,166.1 521.3,166.4 521.5,166.6 521.8,166.8 522,166.9 522.3,166.9 522.5,166.9 522.8,166.8 523,166.6 523.3,166.3 523.5,166.1 523.8,165.8 524,165.6 524.3,165.4 524.5,165.2 524.8,165.2 525,165.2 525.3,165.3 525.5,165.5 525.8,165.7 526,165.9 526.3,166.1 526.5,166.3 526.8,166.4 527,166.4 527.3,166.4 527.5,166.4 527.8,166.2 528,166 528.3,165.8 528.5,165.5 528.8,165.3 529,165.1 529.3,164.9 529.5,164.9 529.8,164.9 530,165 530.3,165.1" fill="none" stroke="#7dbf45" stroke-width="1.3" stroke-linejoin="round"/>
<text x="484.8" y="177.5" font-size="7.6" text-anchor="middle" font-weight="normal" fill="#262626" stroke="#262626" stroke-width="0.22">60</text>
<polyline points="494.8,175.3 495.1,175.2 495.3,175 495.6,174.9 495.8,174.7 496.1,174.5 496.3,174.4 496.6,174.2 496.8,174 497.1,173.9 497.3,173.8 497.6,173.7 497.8,173.7 498.1,173.7 498.3,173.8 498.6,173.9 498.8,174 499.1,174.2 499.3,174.3 499.6,174.6 499.8,174.8 500.1,175 500.3,175.2 500.6,175.4 500.8,175.6 501.1,175.7 501.3,175.8 501.6,175.9 501.8,175.9 502.1,175.9 502.3,175.8 502.6,175.7 502.8,175.5 503.1,175.3 503.3,175.1 503.6,174.9 503.8,174.7 504.1,174.5 504.3,174.3 504.6,174.1 504.8,173.9 505.1,173.8 505.3,173.7 505.6,173.6 505.8,173.7 506.1,173.7 506.3,173.8 506.6,173.9 506.8,174 507.1,174.2 507.3,174.4 507.6,174.7 507.8,174.9 508.1,175.1 508.3,175.3 508.6,175.4 508.8,175.5 509.1,175.6 509.3,175.7 509.6,175.7 509.8,175.7 510.1,175.7 510.3,175.6 510.6,175.4 510.8,175.3 511.1,175.1 511.3,175 511.6,174.8 511.8,174.6 512,174.5 512.3,174.4 512.5,174.3 512.8,174.2 513,174.2 513.3,174.2 513.5,174.3 513.8,174.4 514,174.5 514.3,174.6 514.5,174.8 514.8,174.9 515,175.1 515.3,175.2 515.5,175.4 515.8,175.5 516,175.6 516.3,175.6 516.5,175.6 516.8,175.6 517,175.6 517.3,175.5 517.5,175.3 517.8,175.2 518,175 518.3,174.8 518.5,174.6 518.8,174.4 519,174.2 519.3,174 519.5,173.9 519.8,173.7 520,173.7 520.3,173.6 520.5,173.6 520.8,173.7 521,173.8 521.3,173.9 521.5,174 521.8,174.2 522,174.4 522.3,174.6 522.5,174.9 522.8,175.1 523,175.2 523.3,175.4 523.5,175.6 523.8,175.7 524,175.7 524.3,175.7 524.5,175.7 524.8,175.6 525,175.5 525.3,175.4 525.5,175.2 525.8,175 526,174.8 526.3,174.6 526.5,174.5 526.8,174.3 527,174.1 527.3,174 527.5,173.9 527.8,173.9 528,173.9 528.3,173.9 528.5,174 528.8,174.1 529,174.2 529.3,174.4 529.5,174.6 529.8,174.8 530,175 530.3,175.1" fill="none" stroke="#7dbf45" stroke-width="1.3" stroke-linejoin="round"/>
<text x="484.8" y="186.6" font-size="7.6" text-anchor="middle" font-weight="normal" fill="#262626" stroke="#262626" stroke-width="0.22">40</text>
<polyline points="494.8,183.3 495.1,183.3 495.3,183.3 495.6,183.3 495.8,183.3 496.1,183.3 496.3,183.4 496.6,183.4 496.8,183.5 497.1,183.5 497.3,183.6 497.6,183.7 497.8,183.8 498.1,183.9 498.3,184 498.6,184.1 498.8,184.2 499.1,184.3 499.3,184.4 499.6,184.4 499.8,184.5 500.1,184.6 500.3,184.6 500.6,184.7 500.8,184.7 501.1,184.7 501.3,184.7 501.6,184.7 501.8,184.7 502.1,184.6 502.3,184.6 502.6,184.5 502.8,184.4 503.1,184.3 503.3,184.2 503.6,184.1 503.8,184 504.1,183.9 504.3,183.8 504.6,183.7 504.8,183.6 505.1,183.5 505.3,183.4 505.6,183.3 505.8,183.3 506.1,183.2 506.3,183.2 506.6,183.1 506.8,183.1 507.1,183.1 507.3,183.1 507.6,183.2 507.8,183.2 508.1,183.3 508.3,183.4 508.6,183.4 508.8,183.5 509.1,183.6 509.3,183.7 509.6,183.8 509.8,183.9 510.1,184.1 510.3,184.2 510.6,184.3 510.8,184.4 511.1,184.5 511.3,184.6 511.6,184.7 511.8,184.8 512,184.8 512.3,184.9 512.5,184.9 512.8,184.9 513,184.9 513.3,184.8 513.5,184.8 513.8,184.7 514,184.6 514.3,184.5 514.5,184.4 514.8,184.3 515,184.1 515.3,184 515.5,183.9 515.8,183.7 516,183.6 516.3,183.5 516.5,183.4 516.8,183.3 517,183.2 517.3,183.2 517.5,183.1 517.8,183.1 518,183.1 518.3,183.1 518.5,183.2 518.8,183.2 519,183.3 519.3,183.4 519.5,183.5 519.8,183.6 520,183.7 520.3,183.8 520.5,184 520.8,184.1 521,184.2 521.3,184.3 521.5,184.4 521.8,184.5 522,184.5 522.3,184.6 522.5,184.6 522.8,184.7 523,184.7 523.3,184.6 523.5,184.6 523.8,184.5 524,184.4 524.3,184.3 524.5,184.2 524.8,184.1 525,184 525.3,183.9 525.5,183.7 525.8,183.6 526,183.4 526.3,183.3 526.5,183.2 526.8,183.1 527,183 527.3,182.9 527.5,182.8 527.8,182.8 528,182.7 528.3,182.7 528.5,182.8 528.8,182.8 529,182.8 529.3,182.9 529.5,183 529.8,183.1 530,183.2 530.3,183.3" fill="none" stroke="#7dbf45" stroke-width="1.3" stroke-linejoin="round"/>
<text x="484.8" y="195.7" font-size="7.6" text-anchor="middle" font-weight="normal" fill="#262626" stroke="#262626" stroke-width="0.22">30</text>
<polyline points="494.8,192.4 495.1,192.4 495.3,192.4 495.6,192.5 495.8,192.5 496.1,192.6 496.3,192.6 496.6,192.7 496.8,192.8 497.1,192.9 497.3,192.9 497.6,193 497.8,193.1 498.1,193.2 498.3,193.3 498.6,193.3 498.8,193.4 499.1,193.5 499.3,193.5 499.6,193.5 499.8,193.6 500.1,193.6 500.3,193.6 500.6,193.6 500.8,193.6 501.1,193.6 501.3,193.6 501.6,193.5 501.8,193.5 502.1,193.4 502.3,193.4 502.6,193.3 502.8,193.3 503.1,193.2 503.3,193.2 503.6,193.1 503.8,193 504.1,192.9 504.3,192.9 504.6,192.8 504.8,192.7 505.1,192.7 505.3,192.6 505.6,192.6 505.8,192.5 506.1,192.5 506.3,192.4 506.6,192.4 506.8,192.4 507.1,192.4 507.3,192.5 507.6,192.5 507.8,192.5 508.1,192.5 508.3,192.6 508.6,192.6 508.8,192.7 509.1,192.8 509.3,192.8 509.6,192.9 509.8,192.9 510.1,193 510.3,193 510.6,193.1 510.8,193.1 511.1,193.2 511.3,193.2 511.6,193.2 511.8,193.3 512,193.3 512.3,193.4 512.5,193.4 512.8,193.5 513,193.5 513.3,193.5 513.5,193.6 513.8,193.6 514,193.7 514.3,193.7 514.5,193.8 514.8,193.8 515,193.8 515.3,193.8 515.5,193.9 515.8,193.9 516,193.9 516.3,193.9 516.5,193.9 516.8,193.8 517,193.8 517.3,193.7 517.5,193.6 517.8,193.5 518,193.4 518.3,193.3 518.5,193.2 518.8,193.1 519,193 519.3,192.9 519.5,192.8 519.8,192.7 520,192.6 520.3,192.5 520.5,192.4 520.8,192.3 521,192.2 521.3,192.2 521.5,192.2 521.8,192.1 522,192.2 522.3,192.2 522.5,192.2 522.8,192.2 523,192.2 523.3,192.3 523.5,192.3 523.8,192.4 524,192.5 524.3,192.6 524.5,192.6 524.8,192.7 525,192.8 525.3,192.9 525.5,193 525.8,193.1 526,193.2 526.3,193.3 526.5,193.4 526.8,193.5 527,193.5 527.3,193.6 527.5,193.6 527.8,193.6 528,193.7 528.3,193.7 528.5,193.8 528.8,193.8 529,193.8 529.3,193.8 529.5,193.7 529.8,193.7 530,193.7 530.3,193.6" fill="none" stroke="#7dbf45" stroke-width="1.3" stroke-linejoin="round"/>
<text x="484.8" y="204.8" font-size="7.6" text-anchor="middle" font-weight="normal" fill="#262626" stroke="#262626" stroke-width="0.22">20</text>
<polyline points="494.8,200.9 495.1,200.7 495.3,200.6 495.6,200.5 495.8,200.5 496.1,200.4 496.3,200.5 496.6,200.5 496.8,200.5 497.1,200.5 497.3,200.5 497.6,200.4 497.8,200.4 498.1,200.4 498.3,200.4 498.6,200.4 498.8,200.4 499.1,200.5 499.3,200.6 499.6,200.7 499.8,200.8 500.1,201 500.3,201.2 500.6,201.4 500.8,201.5 501.1,201.7 501.3,201.8 501.6,201.8 501.8,201.8 502.1,201.7 502.3,201.6 502.6,201.4 502.8,201.2 503.1,201.1 503.3,200.9 503.6,200.8 503.8,200.8 504.1,200.7 504.3,200.6 504.6,200.5 504.8,200.3 505.1,200.1 505.3,200 505.6,199.8 505.8,199.8 506.1,199.7 506.3,199.7 506.6,199.7 506.8,199.7 507.1,199.7 507.3,199.7 507.6,199.7 507.8,199.7 508.1,199.6 508.3,199.6 508.6,199.6 508.8,199.6 509.1,199.7 509.3,199.8 509.6,199.9 509.8,200.1 510.1,200.2 510.3,200.3 510.6,200.5 510.8,200.7 511.1,200.9 511.3,201.1 511.6,201.4 511.8,201.6 512,201.9 512.3,202.1 512.5,202.3 512.8,202.5 513,202.8 513.3,203 513.5,203.2 513.8,203.3 514,203.5 514.3,203.6 514.5,203.7 514.8,203.8 515,203.9 515.3,203.9 515.5,204.1 515.8,204.2 516,204.3 516.3,204.3 516.5,204.3 516.8,204.4 517,204.4 517.3,204.4 517.5,204.5 517.8,204.6 518,204.7 518.3,204.8 518.5,204.9 518.8,205 519,205 519.3,205 519.5,204.9 519.8,204.7 520,204.6 520.3,204.4 520.5,204.2 520.8,204 521,203.9 521.3,203.7 521.5,203.6 521.8,203.5 522,203.5 522.3,203.4 522.5,203.3 522.8,203.2 523,203.1 523.3,203 523.5,202.8 523.8,202.5 524,202.2 524.3,201.9 524.5,201.6 524.8,201.3 525,201 525.3,200.8 525.5,200.6 525.8,200.5 526,200.4 526.3,200.4 526.5,200.4 526.8,200.3 527,200.3 527.3,200.2 527.5,200.2 527.8,200.1 528,200 528.3,199.9 528.5,199.9 528.8,199.8 529,199.7 529.3,199.6 529.5,199.6 529.8,199.5 530,199.5 530.3,199.4" fill="none" stroke="#7dbf45" stroke-width="1.3" stroke-linejoin="round"/>
<text x="484.8" y="213.9" font-size="7.6" text-anchor="middle" font-weight="normal" fill="#262626" stroke="#262626" stroke-width="0.22">10</text>
<polyline points="494.8,204.7 495.1,204.9 495.3,205 495.6,205 495.8,205.1 496.1,205.1 496.3,205 496.6,205 496.8,205.1 497.1,205.1 497.3,205.3 497.6,205.4 497.8,205.6 498.1,205.7 498.3,205.8 498.6,205.8 498.8,205.8 499.1,205.8 499.3,205.8 499.6,205.8 499.8,205.9 500.1,206 500.3,206.2 500.6,206.5 500.8,206.8 501.1,207.1 501.3,207.3 501.6,207.4 501.8,207.5 502.1,207.5 502.3,207.5 502.6,207.5 502.8,207.5 503.1,207.6 503.3,207.7 503.6,207.8 503.8,208 504.1,208.2 504.3,208.3 504.6,208.5 504.8,208.6 505.1,208.8 505.3,208.9 505.6,209.1 505.8,209.2 506.1,209.3 506.3,209.5 506.6,209.6 506.8,209.7 507.1,209.8 507.3,209.9 507.6,209.9 507.8,210.1 508.1,210.2 508.3,210.3 508.6,210.4 508.8,210.6 509.1,210.8 509.3,211.1 509.6,211.3 509.8,211.5 510.1,211.7 510.3,211.9 510.6,212 510.8,212.2 511.1,212.3 511.3,212.5 511.6,212.6 511.8,212.8 512,213 512.3,213.2 512.5,213.4 512.8,213.6 513,213.8 513.3,213.9 513.5,214 513.8,214 514,214 514.3,213.9 514.5,213.7 514.8,213.5 515,213.4 515.3,213.2 515.5,213 515.8,212.9 516,212.9 516.3,212.8 516.5,212.8 516.8,212.9 517,212.9 517.3,213 517.5,213 517.8,212.9 518,212.9 518.3,212.7 518.5,212.6 518.8,212.5 519,212.4 519.3,212.2 519.5,212.1 519.8,211.9 520,211.8 520.3,211.6 520.5,211.4 520.8,211.2 521,211 521.3,210.8 521.5,210.7 521.8,210.6 522,210.5 522.3,210.5 522.5,210.5 522.8,210.5 523,210.4 523.3,210.3 523.5,210.2 523.8,210 524,209.7 524.3,209.4 524.5,209.1 524.8,208.9 525,208.7 525.3,208.5 525.5,208.3 525.8,208.2 526,208.1 526.3,208.1 526.5,208.1 526.8,208.1 527,208.1 527.3,208 527.5,207.9 527.8,207.8 528,207.7 528.3,207.5 528.5,207.4 528.8,207.3 529,207.2 529.3,207.1 529.5,207.1 529.8,206.9 530,206.7 530.3,206.5" fill="none" stroke="#7dbf45" stroke-width="1.3" stroke-linejoin="round"/>
<text x="484.8" y="223" font-size="7.6" text-anchor="middle" font-weight="normal" fill="#262626" stroke="#262626" stroke-width="0.22">5</text>
<polyline points="494.8,216.6 495.1,216.4 495.3,216.3 495.6,216.2 495.8,216.2 496.1,216.2 496.3,216.3 496.6,216.3 496.8,216.4 497.1,216.5 497.3,216.5 497.6,216.4 497.8,216.4 498.1,216.3 498.3,216.2 498.6,216.1 498.8,216 499.1,216 499.3,216 499.6,216.1 499.8,216.1 500.1,216.1 500.3,216.1 500.6,216 500.8,215.8 501.1,215.6 501.3,215.4 501.6,215.2 501.8,215.1 502.1,215.1 502.3,215.1 502.6,215.2 502.8,215.3 503.1,215.5 503.3,215.7 503.6,215.8 503.8,216 504.1,216.2 504.3,216.3 504.6,216.4 504.8,216.5 505.1,216.7 505.3,216.8 505.6,216.9 505.8,217 506.1,217.1 506.3,217.2 506.6,217.3 506.8,217.3 507.1,217.4 507.3,217.4 507.6,217.5 507.8,217.6 508.1,217.7 508.3,217.8 508.6,217.9 508.8,218.1 509.1,218.3 509.3,218.5 509.6,218.7 509.8,218.9 510.1,219.2 510.3,219.5 510.6,219.8 510.8,220.1 511.1,220.4 511.3,220.8 511.6,221.1 511.8,221.5 512,221.9 512.3,222.2 512.5,222.6 512.8,222.9 513,223.2 513.3,223.5 513.5,223.7 513.8,224 514,224.1 514.3,224.3 514.5,224.4 514.8,224.5 515,224.5 515.3,224.5 515.5,224.5 515.8,224.4 516,224.3 516.3,224.1 516.5,224 516.8,223.8 517,223.7 517.3,223.5 517.5,223.3 517.8,223.1 518,222.8 518.3,222.5 518.5,222.3 518.8,222 519,221.8 519.3,221.7 519.5,221.6 519.8,221.5 520,221.3 520.3,221.1 520.5,220.9 520.8,220.7 521,220.4 521.3,220.2 521.5,219.9 521.8,219.7 522,219.5 522.3,219.3 522.5,219.1 522.8,219 523,218.8 523.3,218.7 523.5,218.6 523.8,218.5 524,218.3 524.3,218.1 524.5,217.9 524.8,217.7 525,217.5 525.3,217.3 525.5,217.1 525.8,216.9 526,216.8 526.3,216.6 526.5,216.5 526.8,216.5 527,216.5 527.3,216.4 527.5,216.4 527.8,216.3 528,216.1 528.3,215.9 528.5,215.6 528.8,215.3 529,215.1 529.3,214.8 529.5,214.7 529.8,214.5 530,214.4 530.3,214.3" fill="none" stroke="#7dbf45" stroke-width="1.3" stroke-linejoin="round"/>
<text x="484.8" y="232.1" font-size="7.6" text-anchor="middle" font-weight="normal" fill="#262626" stroke="#262626" stroke-width="0.22">2</text>
<polyline points="494.8,224.3 495.1,224.2 495.3,224.1 495.6,224.1 495.8,224 496.1,223.9 496.3,223.8 496.6,223.6 496.8,223.5 497.1,223.3 497.3,223.2 497.6,223 497.8,222.9 498.1,222.8 498.3,222.7 498.6,222.6 498.8,222.5 499.1,222.4 499.3,222.3 499.6,222.3 499.8,222.2 500.1,222.2 500.3,222.2 500.6,222.2 500.8,222.2 501.1,222.2 501.3,222.2 501.6,222.2 501.8,222.1 502.1,222.1 502.3,222.1 502.6,222.2 502.8,222.3 503.1,222.4 503.3,222.6 503.6,222.7 503.8,222.9 504.1,223.1 504.3,223.3 504.6,223.4 504.8,223.6 505.1,223.7 505.3,223.9 505.6,224.1 505.8,224.3 506.1,224.6 506.3,224.9 506.6,225.2 506.8,225.6 507.1,226.1 507.3,226.5 507.6,226.9 507.8,227.2 508.1,227.6 508.3,227.9 508.6,228.3 508.8,228.6 509.1,229 509.3,229.4 509.6,229.7 509.8,230.2 510.1,230.6 510.3,231.1 510.6,231.5 510.8,232 511.1,232.4 511.3,232.8 511.6,233.2 511.8,233.6 512,234 512.3,234.5 512.5,234.9 512.8,235.4 513,235.8 513.3,236.1 513.5,236.4 513.8,236.6 514,236.8 514.3,236.9 514.5,236.9 514.8,236.8 515,236.6 515.3,236.3 515.5,236 515.8,235.7 516,235.3 516.3,235 516.5,234.6 516.8,234.1 517,233.6 517.3,233 517.5,232.5 517.8,231.8 518,231.2 518.3,230.4 518.5,229.8 518.8,229.1 519,228.6 519.3,228 519.5,227.6 519.8,227.1 520,226.7 520.3,226.3 520.5,226 520.8,225.7 521,225.4 521.3,225.1 521.5,224.8 521.8,224.4 522,224 522.3,223.7 522.5,223.4 522.8,223.1 523,222.8 523.3,222.6 523.5,222.4 523.8,222.2 524,222.1 524.3,221.9 524.5,221.7 524.8,221.5 525,221.2 525.3,221 525.5,220.7 525.8,220.5 526,220.2 526.3,220 526.5,219.9 526.8,219.7 527,219.6 527.3,219.5 527.5,219.4 527.8,219.4 528,219.3 528.3,219.2 528.5,219.1 528.8,218.9 529,218.7 529.3,218.5 529.5,218.2 529.8,217.9 530,217.7 530.3,217.5" fill="none" stroke="#7dbf45" stroke-width="1.3" stroke-linejoin="round"/>
<text x="412.1" y="187.2" font-size="8.3" text-anchor="middle" font-weight="normal" fill="#262626" transform="rotate(-90 412.1 187.2)" stroke="#262626" stroke-width="0.22">Hz</text>
<rect x="440.8" y="203.6" width="28" height="13.1" fill="none" stroke="#4a74d0" stroke-width="1.1"/>
<line x1="472.3" y1="204.5" x2="472.3" y2="215.8" stroke="#4a74d0" stroke-width="0.6"/>
<polygon points="472.3,203.2 471.2,205.6 473.4,205.6" fill="#4a74d0"/>
<polygon points="472.3,217.1 471.2,214.7 473.4,214.7" fill="#4a74d0"/>
<text x="395.9" y="259.7" font-size="12.4" text-anchor="start" font-weight="bold" fill="#000">Eii</text>
<line x1="419.5" y1="266.6" x2="419.5" y2="348.2" stroke="#8a8a8a" stroke-width="1.0"/>
<line x1="419.8" y1="348.5" x2="540.4" y2="348.5" stroke="#8a8a8a" stroke-width="1.0"/>
<line x1="419.8" y1="267.6" x2="421.3" y2="267.6" stroke="#6b6b6b" stroke-width="0.6"/>
<text x="417.3" y="270.5" font-size="7.8" text-anchor="end" font-weight="normal" fill="#262626" stroke="#262626" stroke-width="0.22">200</text>
<line x1="419.8" y1="287.8" x2="421.3" y2="287.8" stroke="#6b6b6b" stroke-width="0.6"/>
<text x="417.3" y="290.6" font-size="7.8" text-anchor="end" font-weight="normal" fill="#262626" stroke="#262626" stroke-width="0.22">150</text>
<line x1="419.8" y1="307.9" x2="421.3" y2="307.9" stroke="#6b6b6b" stroke-width="0.6"/>
<text x="417.3" y="310.8" font-size="7.8" text-anchor="end" font-weight="normal" fill="#262626" stroke="#262626" stroke-width="0.22">100</text>
<line x1="419.8" y1="328.1" x2="421.3" y2="328.1" stroke="#6b6b6b" stroke-width="0.6"/>
<text x="417.3" y="330.9" font-size="7.8" text-anchor="end" font-weight="normal" fill="#262626" stroke="#262626" stroke-width="0.22">50</text>
<line x1="419.8" y1="348.2" x2="421.3" y2="348.2" stroke="#6b6b6b" stroke-width="0.6"/>
<text x="417.3" y="351.1" font-size="7.8" text-anchor="end" font-weight="normal" fill="#262626" stroke="#262626" stroke-width="0.22">0</text>
<line x1="425.4" y1="348.2" x2="425.4" y2="346.7" stroke="#6b6b6b" stroke-width="0.6"/>
<text x="428.3" y="351" font-size="7.8" text-anchor="end" font-weight="normal" fill="#262626" transform="rotate(-90 428.3 351)" stroke="#262626" stroke-width="0.22">2</text>
<line x1="443.9" y1="348.2" x2="443.9" y2="346.7" stroke="#6b6b6b" stroke-width="0.6"/>
<text x="446.8" y="351" font-size="7.8" text-anchor="end" font-weight="normal" fill="#262626" transform="rotate(-90 446.8 351)" stroke="#262626" stroke-width="0.22">5</text>
<line x1="458" y1="348.2" x2="458" y2="346.7" stroke="#6b6b6b" stroke-width="0.6"/>
<text x="460.9" y="351" font-size="7.8" text-anchor="end" font-weight="normal" fill="#262626" transform="rotate(-90 460.9 351)" stroke="#262626" stroke-width="0.22">10</text>
<line x1="472" y1="348.2" x2="472" y2="346.7" stroke="#6b6b6b" stroke-width="0.6"/>
<text x="474.9" y="351" font-size="7.8" text-anchor="end" font-weight="normal" fill="#262626" transform="rotate(-90 474.9 351)" stroke="#262626" stroke-width="0.22">20</text>
<line x1="486" y1="348.2" x2="486" y2="346.7" stroke="#6b6b6b" stroke-width="0.6"/>
<text x="488.9" y="351" font-size="7.8" text-anchor="end" font-weight="normal" fill="#262626" transform="rotate(-90 488.9 351)" stroke="#262626" stroke-width="0.22">40</text>
<line x1="494.2" y1="348.2" x2="494.2" y2="346.7" stroke="#6b6b6b" stroke-width="0.6"/>
<text x="497.1" y="351" font-size="7.8" text-anchor="end" font-weight="normal" fill="#262626" transform="rotate(-90 497.1 351)" stroke="#262626" stroke-width="0.22">60</text>
<line x1="509.9" y1="348.2" x2="509.9" y2="346.7" stroke="#6b6b6b" stroke-width="0.6"/>
<text x="512.8" y="351" font-size="7.8" text-anchor="end" font-weight="normal" fill="#262626" transform="rotate(-90 512.8 351)" stroke="#262626" stroke-width="0.22">130</text>
<line x1="522.3" y1="348.2" x2="522.3" y2="346.7" stroke="#6b6b6b" stroke-width="0.6"/>
<text x="525.2" y="351" font-size="7.8" text-anchor="end" font-weight="normal" fill="#262626" transform="rotate(-90 525.2 351)" stroke="#262626" stroke-width="0.22">240</text>
<line x1="536.3" y1="348.2" x2="536.3" y2="346.7" stroke="#6b6b6b" stroke-width="0.6"/>
<text x="539.2" y="351" font-size="7.8" text-anchor="end" font-weight="normal" fill="#262626" transform="rotate(-90 539.2 351)" stroke="#262626" stroke-width="0.22">480</text>
<polyline points="425.4,319.2 443.9,330.9 458,335.3 472,341.3 480.2,343.4 486,344.6 494.2,345 502.4,346.2 509.9,347 516.5,347.4 522.3,347.8 536.3,347.8" fill="none" stroke="#80c248" stroke-width="1.3" stroke-linejoin="round"/>
<circle cx="425.4" cy="319.2" r="1.8" fill="#80c248"/>
<circle cx="443.9" cy="330.9" r="1.8" fill="#80c248"/>
<circle cx="458" cy="335.3" r="1.8" fill="#80c248"/>
<circle cx="472" cy="341.3" r="1.8" fill="#80c248"/>
<circle cx="480.2" cy="343.4" r="1.8" fill="#80c248"/>
<circle cx="486" cy="344.6" r="1.8" fill="#80c248"/>
<circle cx="494.2" cy="345" r="1.8" fill="#80c248"/>
<circle cx="502.4" cy="346.2" r="1.8" fill="#80c248"/>
<circle cx="509.9" cy="347" r="1.8" fill="#80c248"/>
<circle cx="516.5" cy="347.4" r="1.8" fill="#80c248"/>
<circle cx="522.3" cy="347.8" r="1.8" fill="#80c248"/>
<circle cx="536.3" cy="347.8" r="1.8" fill="#80c248"/>
<polyline points="425.4,281.7 443.9,307.9 458,293.8 472,309.9 480.2,314.8 486,316 494.2,310.3 502.4,312.7 509.9,321.2 516.5,330.5 522.3,342.2 536.3,347.4" fill="none" stroke="#b3203e" stroke-width="1.3" stroke-linejoin="round"/>
<circle cx="425.4" cy="281.7" r="1.8" fill="#b3203e"/>
<circle cx="443.9" cy="307.9" r="1.8" fill="#b3203e"/>
<circle cx="458" cy="293.8" r="1.8" fill="#b3203e"/>
<circle cx="472" cy="309.9" r="1.8" fill="#b3203e"/>
<circle cx="480.2" cy="314.8" r="1.8" fill="#b3203e"/>
<circle cx="486" cy="316" r="1.8" fill="#b3203e"/>
<circle cx="494.2" cy="310.3" r="1.8" fill="#b3203e"/>
<circle cx="502.4" cy="312.7" r="1.8" fill="#b3203e"/>
<circle cx="509.9" cy="321.2" r="1.8" fill="#b3203e"/>
<circle cx="516.5" cy="330.5" r="1.8" fill="#b3203e"/>
<circle cx="522.3" cy="342.2" r="1.8" fill="#b3203e"/>
<circle cx="536.3" cy="347.4" r="1.8" fill="#b3203e"/>
<line x1="436.3" y1="273.2" x2="461.1" y2="273.2" stroke="#80c248" stroke-width="1.2"/>
<circle cx="448.9" cy="273.2" r="1.5" fill="#80c248"/>
<text x="462.7" y="276" font-size="7.8" text-anchor="start" font-weight="normal" fill="#262626" stroke="#262626" stroke-width="0.22">AC</text>
<line x1="436.3" y1="281.4" x2="461.1" y2="281.4" stroke="#b3203e" stroke-width="1.2"/>
<circle cx="448.9" cy="281.4" r="1.5" fill="#b3203e"/>
<text x="462.7" y="284.2" font-size="7.8" text-anchor="start" font-weight="normal" fill="#262626" stroke="#262626" stroke-width="0.22">IC</text>
<text x="537.8" y="278.5" font-size="8.35" text-anchor="end" font-weight="bold" fill="#111">ASSR</text>
<text x="537.8" y="288.7" font-size="8.3" text-anchor="end" font-weight="bold" fill="#111">Amplitude</text>
<text x="401.2" y="306.2" font-size="8.3" text-anchor="middle" font-weight="normal" fill="#262626" transform="rotate(-90 401.2 306.2)" stroke="#262626" stroke-width="0.22">% Onset</text>
<text x="479.3" y="372" font-size="8.3" text-anchor="middle" font-weight="normal" fill="#262626" stroke="#262626" stroke-width="0.22">Hz</text>
</svg>
</body></html>
